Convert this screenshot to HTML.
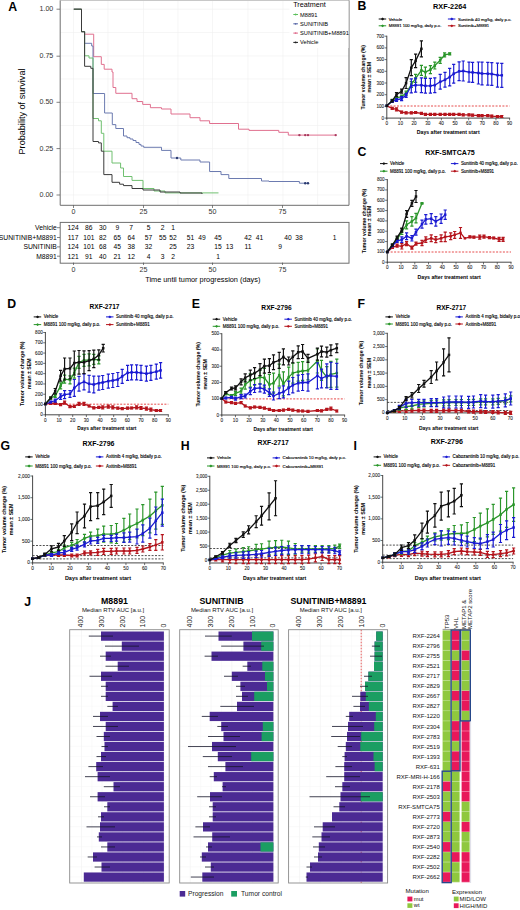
<!DOCTYPE html>
<html><head><meta charset="utf-8"><style>
html,body{margin:0;padding:0;background:#fff;width:520px;height:910px;overflow:hidden}
svg{display:block}
text{font-family:"Liberation Sans", sans-serif}
</style></head><body>
<svg width="520" height="910" viewBox="0 0 520 910">
<rect width="520" height="910" fill="#fff"/>
<g id="A">
<text x="12.8" y="6.5" font-size="12.3" text-anchor="middle" font-weight="bold" fill="#000" dominant-baseline="central">A</text>
<line x1="73.5" y1="1" x2="73.5" y2="205" stroke="#f0f0f0" stroke-width="0.6"/>
<line x1="108" y1="1" x2="108" y2="205" stroke="#f0f0f0" stroke-width="0.6"/>
<line x1="143.5" y1="1" x2="143.5" y2="205" stroke="#f0f0f0" stroke-width="0.6"/>
<line x1="178" y1="1" x2="178" y2="205" stroke="#f0f0f0" stroke-width="0.6"/>
<line x1="212.5" y1="1" x2="212.5" y2="205" stroke="#f0f0f0" stroke-width="0.6"/>
<line x1="248" y1="1" x2="248" y2="205" stroke="#f0f0f0" stroke-width="0.6"/>
<line x1="283" y1="1" x2="283" y2="205" stroke="#f0f0f0" stroke-width="0.6"/>
<line x1="317.6" y1="1" x2="317.6" y2="205" stroke="#f0f0f0" stroke-width="0.6"/>
<line x1="60" y1="9.2" x2="349" y2="9.2" stroke="#f0f0f0" stroke-width="0.6"/>
<line x1="60" y1="32.5" x2="349" y2="32.5" stroke="#f0f0f0" stroke-width="0.6"/>
<line x1="60" y1="56" x2="349" y2="56" stroke="#f0f0f0" stroke-width="0.6"/>
<line x1="60" y1="79" x2="349" y2="79" stroke="#f0f0f0" stroke-width="0.6"/>
<line x1="60" y1="102.3" x2="349" y2="102.3" stroke="#f0f0f0" stroke-width="0.6"/>
<line x1="60" y1="125.5" x2="349" y2="125.5" stroke="#f0f0f0" stroke-width="0.6"/>
<line x1="60" y1="148.6" x2="349" y2="148.6" stroke="#f0f0f0" stroke-width="0.6"/>
<line x1="60" y1="172" x2="349" y2="172" stroke="#f0f0f0" stroke-width="0.6"/>
<line x1="60" y1="195" x2="349" y2="195" stroke="#f0f0f0" stroke-width="0.6"/>
<path d="M60.2,0.3 V205.3 H349 V0.3" fill="none" stroke="#6e6e6e" stroke-width="1"/>
<line x1="60.2" y1="0.3" x2="349" y2="0.3" stroke="#a8a8a8" stroke-width="0.8"/>
<text x="53.3" y="9.2" font-size="7.1" text-anchor="end" font-weight="normal" fill="#333" dominant-baseline="central">1.00</text>
<line x1="56.5" y1="9.2" x2="60" y2="9.2" stroke="#4d4d4d" stroke-width="0.7"/>
<text x="53.3" y="56.2" font-size="7.1" text-anchor="end" font-weight="normal" fill="#333" dominant-baseline="central">0.75</text>
<line x1="56.5" y1="56.2" x2="60" y2="56.2" stroke="#4d4d4d" stroke-width="0.7"/>
<text x="53.3" y="102.3" font-size="7.1" text-anchor="end" font-weight="normal" fill="#333" dominant-baseline="central">0.50</text>
<line x1="56.5" y1="102.3" x2="60" y2="102.3" stroke="#4d4d4d" stroke-width="0.7"/>
<text x="53.3" y="148.6" font-size="7.1" text-anchor="end" font-weight="normal" fill="#333" dominant-baseline="central">0.25</text>
<line x1="56.5" y1="148.6" x2="60" y2="148.6" stroke="#4d4d4d" stroke-width="0.7"/>
<text x="53.3" y="195" font-size="7.1" text-anchor="end" font-weight="normal" fill="#333" dominant-baseline="central">0.00</text>
<line x1="56.5" y1="195" x2="60" y2="195" stroke="#4d4d4d" stroke-width="0.7"/>
<line x1="73.5" y1="205.3" x2="73.5" y2="208" stroke="#4d4d4d" stroke-width="0.7"/>
<text x="73.5" y="212.3" font-size="7.1" text-anchor="middle" font-weight="normal" fill="#333" dominant-baseline="central">0</text>
<line x1="143.5" y1="205.3" x2="143.5" y2="208" stroke="#4d4d4d" stroke-width="0.7"/>
<text x="143.5" y="212.3" font-size="7.1" text-anchor="middle" font-weight="normal" fill="#333" dominant-baseline="central">25</text>
<line x1="212.5" y1="205.3" x2="212.5" y2="208" stroke="#4d4d4d" stroke-width="0.7"/>
<text x="212.5" y="212.3" font-size="7.1" text-anchor="middle" font-weight="normal" fill="#333" dominant-baseline="central">50</text>
<line x1="282.5" y1="205.3" x2="282.5" y2="208" stroke="#4d4d4d" stroke-width="0.7"/>
<text x="282.5" y="212.3" font-size="7.1" text-anchor="middle" font-weight="normal" fill="#333" dominant-baseline="central">75</text>
<text x="21.5" y="111.5" font-size="9.1" text-anchor="middle" font-weight="normal" fill="#000" dominant-baseline="central" transform="rotate(-90 21.5 111.5)">Probability of survival</text>
<path d="M73.8,9.2 H81.5 V31.7 H84.6 V34.2 H93.7 V56.7 H101.3 V64.4 H104.2 V69.2 H112 V72 H113 V87.5 H115.8 V93.3 H132 V98.7 H137 V101.5 H142.7 V104.4 H150.4 V107.7 H161.5 V109 H171 V114 H190 V117.7 H200 V120.8 H209.6 V123.5 H238.5 V129.2 H249 V130.4 H278.8 V132.3 H288.3 V135.1 H336" fill="none" stroke="#e0708f" stroke-width="1"/>
<path d="M73.8,9.2 H81.5 V31.7 H84.6 V43.3 H91.7 V46 H93 V93.5 H104.6 V113 H112.3 V124.6 H115.8 V128.5 H123.5 V136 H127 V137.7 H130 V139 H133 V140.5 H136 V142.5 H139 V144.4 H141 V146 H143.7 V147.3 H161.5 V150.4 H171 V158 H180.8 V160 H200 V162 H209.6 V171.5 H221 V174.6 H228.8 V178.5 H261.5 V181 H269 V181.5 H299.4 V183.2 H308" fill="none" stroke="#6c7bb0" stroke-width="1"/>
<path d="M73.8,9.2 H81.5 V31.7 H84.6 V55.8 H89 V58 H93 V118.5 H98.5 V120.8 H101.3 V133.3 H103.8 V151.2 H112 V163 H120.6 V168 H123.5 V176.5 H132 V180.4 H143 V188.5 H154 V191 H165 V192.9 H218.5" fill="none" stroke="#70c070" stroke-width="1"/>
<path d="M73.8,9.2 H81.5 V31.7 H84.6 V66.3 H90.8 V68.3 H93 V141.5 H98.5 V142.9 H101.3 V151.2 H103.8 V174.6 H112 V182.3 H119.6 V184.2 H123.5 V185.6 H132 V188.5 H143 V190 H160 V192 H180 V193 H202 V194" fill="none" stroke="#3a3a3a" stroke-width="1"/>
<circle cx="299.4" cy="135.1" r="1.2" fill="#a83a5e"/>
<circle cx="305.2" cy="135.1" r="1.2" fill="#a83a5e"/>
<circle cx="308" cy="135.1" r="1.2" fill="#a83a5e"/>
<circle cx="335.7" cy="135.1" r="1.2" fill="#a83a5e"/>
<circle cx="177" cy="158" r="1.2" fill="#2a3a70"/>
<circle cx="305.2" cy="183.2" r="1.2" fill="#2a3a70"/>
<circle cx="308" cy="183.2" r="1.2" fill="#2a3a70"/>
<rect x="289.5" y="1" width="59" height="47" fill="#fff"/>
<text x="293.2" y="4.9" font-size="7.2" text-anchor="start" font-weight="normal" fill="#000" dominant-baseline="central">Treatment</text>
<line x1="293.3" y1="14.5" x2="298" y2="14.5" stroke="#5cc05c" stroke-width="1"/>
<circle cx="295.6" cy="14.5" r="0.9" fill="#5cc05c"/>
<text x="300" y="14.5" font-size="5.7" text-anchor="start" font-weight="normal" fill="#000" dominant-baseline="central">M8891</text>
<line x1="293.3" y1="23.8" x2="298" y2="23.8" stroke="#5a6aa8" stroke-width="1"/>
<circle cx="295.6" cy="23.8" r="0.9" fill="#5a6aa8"/>
<text x="300" y="23.8" font-size="5.7" text-anchor="start" font-weight="normal" fill="#000" dominant-baseline="central">SUNITINIB</text>
<line x1="293.3" y1="33.1" x2="298" y2="33.1" stroke="#e0708f" stroke-width="1"/>
<circle cx="295.6" cy="33.1" r="0.9" fill="#e0708f"/>
<text x="300" y="33.1" font-size="5.7" text-anchor="start" font-weight="normal" fill="#000" dominant-baseline="central">SUNITINIB+M8891</text>
<line x1="293.3" y1="42.4" x2="298" y2="42.4" stroke="#222" stroke-width="1"/>
<circle cx="295.6" cy="42.4" r="0.9" fill="#222"/>
<text x="300" y="42.4" font-size="5.7" text-anchor="start" font-weight="normal" fill="#000" dominant-baseline="central">Vehicle</text>
<rect x="60.2" y="222.4" width="288.8" height="40.8" fill="none" stroke="#6e6e6e" stroke-width="1"/>
<text x="56.8" y="227.7" font-size="6.75" text-anchor="end" font-weight="normal" fill="#000" dominant-baseline="central">Vehicle</text>
<line x1="57" y1="227.7" x2="60" y2="227.7" stroke="#4d4d4d" stroke-width="0.7"/>
<text x="56.8" y="237.5" font-size="6.75" text-anchor="end" font-weight="normal" fill="#000" dominant-baseline="central">SUNITINIB+M8891</text>
<line x1="57" y1="237.5" x2="60" y2="237.5" stroke="#4d4d4d" stroke-width="0.7"/>
<text x="56.8" y="246.9" font-size="6.75" text-anchor="end" font-weight="normal" fill="#000" dominant-baseline="central">SUNITINIB</text>
<line x1="57" y1="246.9" x2="60" y2="246.9" stroke="#4d4d4d" stroke-width="0.7"/>
<text x="56.8" y="256.2" font-size="6.75" text-anchor="end" font-weight="normal" fill="#000" dominant-baseline="central">M8891</text>
<line x1="57" y1="256.2" x2="60" y2="256.2" stroke="#4d4d4d" stroke-width="0.7"/>
<text x="73.1" y="227.7" font-size="6.7" text-anchor="middle" font-weight="normal" fill="#000" dominant-baseline="central">124</text>
<text x="88.8" y="227.7" font-size="6.7" text-anchor="middle" font-weight="normal" fill="#000" dominant-baseline="central">86</text>
<text x="102.7" y="227.7" font-size="6.7" text-anchor="middle" font-weight="normal" fill="#000" dominant-baseline="central">30</text>
<text x="117.3" y="227.7" font-size="6.7" text-anchor="middle" font-weight="normal" fill="#000" dominant-baseline="central">9</text>
<text x="131.2" y="227.7" font-size="6.7" text-anchor="middle" font-weight="normal" fill="#000" dominant-baseline="central">7</text>
<text x="148.5" y="227.7" font-size="6.7" text-anchor="middle" font-weight="normal" fill="#000" dominant-baseline="central">5</text>
<text x="162.7" y="227.7" font-size="6.7" text-anchor="middle" font-weight="normal" fill="#000" dominant-baseline="central">2</text>
<text x="173.1" y="227.7" font-size="6.7" text-anchor="middle" font-weight="normal" fill="#000" dominant-baseline="central">1</text>
<text x="73.1" y="237.5" font-size="6.7" text-anchor="middle" font-weight="normal" fill="#000" dominant-baseline="central">117</text>
<text x="88.8" y="237.5" font-size="6.7" text-anchor="middle" font-weight="normal" fill="#000" dominant-baseline="central">101</text>
<text x="102.7" y="237.5" font-size="6.7" text-anchor="middle" font-weight="normal" fill="#000" dominant-baseline="central">82</text>
<text x="117.3" y="237.5" font-size="6.7" text-anchor="middle" font-weight="normal" fill="#000" dominant-baseline="central">65</text>
<text x="131.2" y="237.5" font-size="6.7" text-anchor="middle" font-weight="normal" fill="#000" dominant-baseline="central">64</text>
<text x="148.5" y="237.5" font-size="6.7" text-anchor="middle" font-weight="normal" fill="#000" dominant-baseline="central">57</text>
<text x="162.7" y="237.5" font-size="6.7" text-anchor="middle" font-weight="normal" fill="#000" dominant-baseline="central">55</text>
<text x="173.1" y="237.5" font-size="6.7" text-anchor="middle" font-weight="normal" fill="#000" dominant-baseline="central">52</text>
<text x="190.4" y="237.5" font-size="6.7" text-anchor="middle" font-weight="normal" fill="#000" dominant-baseline="central">51</text>
<text x="201.9" y="237.5" font-size="6.7" text-anchor="middle" font-weight="normal" fill="#000" dominant-baseline="central">49</text>
<text x="218.1" y="237.5" font-size="6.7" text-anchor="middle" font-weight="normal" fill="#000" dominant-baseline="central">45</text>
<text x="248.1" y="237.5" font-size="6.7" text-anchor="middle" font-weight="normal" fill="#000" dominant-baseline="central">42</text>
<text x="259.6" y="237.5" font-size="6.7" text-anchor="middle" font-weight="normal" fill="#000" dominant-baseline="central">41</text>
<text x="288" y="237.5" font-size="6.7" text-anchor="middle" font-weight="normal" fill="#000" dominant-baseline="central">40</text>
<text x="299" y="237.5" font-size="6.7" text-anchor="middle" font-weight="normal" fill="#000" dominant-baseline="central">38</text>
<text x="334.6" y="237.5" font-size="6.7" text-anchor="middle" font-weight="normal" fill="#000" dominant-baseline="central">1</text>
<text x="73.1" y="246.9" font-size="6.7" text-anchor="middle" font-weight="normal" fill="#000" dominant-baseline="central">124</text>
<text x="88.8" y="246.9" font-size="6.7" text-anchor="middle" font-weight="normal" fill="#000" dominant-baseline="central">101</text>
<text x="102.7" y="246.9" font-size="6.7" text-anchor="middle" font-weight="normal" fill="#000" dominant-baseline="central">68</text>
<text x="117.3" y="246.9" font-size="6.7" text-anchor="middle" font-weight="normal" fill="#000" dominant-baseline="central">45</text>
<text x="131.2" y="246.9" font-size="6.7" text-anchor="middle" font-weight="normal" fill="#000" dominant-baseline="central">38</text>
<text x="148.5" y="246.9" font-size="6.7" text-anchor="middle" font-weight="normal" fill="#000" dominant-baseline="central">32</text>
<text x="173.1" y="246.9" font-size="6.7" text-anchor="middle" font-weight="normal" fill="#000" dominant-baseline="central">25</text>
<text x="190.4" y="246.9" font-size="6.7" text-anchor="middle" font-weight="normal" fill="#000" dominant-baseline="central">23</text>
<text x="218.1" y="246.9" font-size="6.7" text-anchor="middle" font-weight="normal" fill="#000" dominant-baseline="central">15</text>
<text x="229.6" y="246.9" font-size="6.7" text-anchor="middle" font-weight="normal" fill="#000" dominant-baseline="central">13</text>
<text x="248.1" y="246.9" font-size="6.7" text-anchor="middle" font-weight="normal" fill="#000" dominant-baseline="central">11</text>
<text x="280" y="246.9" font-size="6.7" text-anchor="middle" font-weight="normal" fill="#000" dominant-baseline="central">9</text>
<text x="73.1" y="256.2" font-size="6.7" text-anchor="middle" font-weight="normal" fill="#000" dominant-baseline="central">121</text>
<text x="88.8" y="256.2" font-size="6.7" text-anchor="middle" font-weight="normal" fill="#000" dominant-baseline="central">91</text>
<text x="102.7" y="256.2" font-size="6.7" text-anchor="middle" font-weight="normal" fill="#000" dominant-baseline="central">40</text>
<text x="117.3" y="256.2" font-size="6.7" text-anchor="middle" font-weight="normal" fill="#000" dominant-baseline="central">21</text>
<text x="131.2" y="256.2" font-size="6.7" text-anchor="middle" font-weight="normal" fill="#000" dominant-baseline="central">12</text>
<text x="148.5" y="256.2" font-size="6.7" text-anchor="middle" font-weight="normal" fill="#000" dominant-baseline="central">4</text>
<text x="162.7" y="256.2" font-size="6.7" text-anchor="middle" font-weight="normal" fill="#000" dominant-baseline="central">3</text>
<text x="173.1" y="256.2" font-size="6.7" text-anchor="middle" font-weight="normal" fill="#000" dominant-baseline="central">2</text>
<text x="218.1" y="256.2" font-size="6.7" text-anchor="middle" font-weight="normal" fill="#000" dominant-baseline="central">1</text>
<line x1="73.5" y1="262.6" x2="73.5" y2="265" stroke="#4d4d4d" stroke-width="0.7"/>
<text x="73.5" y="270" font-size="7.1" text-anchor="middle" font-weight="normal" fill="#333" dominant-baseline="central">0</text>
<line x1="143.5" y1="262.6" x2="143.5" y2="265" stroke="#4d4d4d" stroke-width="0.7"/>
<text x="143.5" y="270" font-size="7.1" text-anchor="middle" font-weight="normal" fill="#333" dominant-baseline="central">25</text>
<line x1="212.5" y1="262.6" x2="212.5" y2="265" stroke="#4d4d4d" stroke-width="0.7"/>
<text x="212.5" y="270" font-size="7.1" text-anchor="middle" font-weight="normal" fill="#333" dominant-baseline="central">50</text>
<line x1="282.5" y1="262.6" x2="282.5" y2="265" stroke="#4d4d4d" stroke-width="0.7"/>
<text x="282.5" y="270" font-size="7.1" text-anchor="middle" font-weight="normal" fill="#333" dominant-baseline="central">75</text>
<text x="202.8" y="279.5" font-size="7.35" text-anchor="middle" font-weight="normal" fill="#000" dominant-baseline="central">Time until tumor progression (days)</text>
</g>
<text x="362" y="6.3" font-size="12.3" text-anchor="middle" font-weight="bold" fill="#000" dominant-baseline="central">B</text>
<text x="449.7" y="6.3" font-size="7.3" text-anchor="middle" font-weight="bold" fill="#000" dominant-baseline="central">RXF-2264</text>
<line x1="378.7" y1="19" x2="386.2" y2="19" stroke="#111111" stroke-width="1"/>
<path d="M380.9,19 l1.7,-1.4 l1.7,1.4 l-1.7,1.4 z" fill="#111111"/>
<text x="388.7" y="19" font-size="4.2" text-anchor="start" font-weight="normal" fill="#000" dominant-baseline="central" stroke="#000" stroke-width="0.12">Vehicle</text>
<line x1="378.7" y1="25.8" x2="386.2" y2="25.8" stroke="#2a962a" stroke-width="1"/>
<path d="M380.9,25.8 l1.7,-1.4 l1.7,1.4 l-1.7,1.4 z" fill="#2a962a"/>
<text x="388.7" y="25.8" font-size="4.2" text-anchor="start" font-weight="normal" fill="#000" dominant-baseline="central" stroke="#000" stroke-width="0.12">M8891 100 mg/kg, daily p.o.</text>
<line x1="447.9" y1="19" x2="455.4" y2="19" stroke="#1a1ad2" stroke-width="1"/>
<path d="M450.1,19 l1.7,-1.4 l1.7,1.4 l-1.7,1.4 z" fill="#1a1ad2"/>
<text x="457.9" y="19" font-size="4.2" text-anchor="start" font-weight="normal" fill="#000" dominant-baseline="central" stroke="#000" stroke-width="0.12">Sunitinib 40 mg/kg, daily p.o.</text>
<line x1="447.9" y1="25.8" x2="455.4" y2="25.8" stroke="#b5141c" stroke-width="1"/>
<path d="M450.1,25.8 l1.7,-1.4 l1.7,1.4 l-1.7,1.4 z" fill="#b5141c"/>
<text x="457.9" y="25.8" font-size="4.2" text-anchor="start" font-weight="normal" fill="#000" dominant-baseline="central" stroke="#000" stroke-width="0.12">Sunitinib+M8891</text>
<line x1="386.8" y1="35.7" x2="386.8" y2="118.5" stroke="#333" stroke-width="0.9"/>
<line x1="386.4" y1="118.1" x2="510.1" y2="118.1" stroke="#333" stroke-width="0.9"/>
<line x1="384.6" y1="118.1" x2="386.8" y2="118.1" stroke="#333" stroke-width="0.7"/>
<text x="384.2" y="118.1" font-size="4.65" text-anchor="end" font-weight="normal" fill="#222" dominant-baseline="central" stroke="#222" stroke-width="0.08">0</text>
<line x1="384.6" y1="106.4" x2="386.8" y2="106.4" stroke="#333" stroke-width="0.7"/>
<text x="384.2" y="106.4" font-size="4.65" text-anchor="end" font-weight="normal" fill="#222" dominant-baseline="central" stroke="#222" stroke-width="0.08">100</text>
<line x1="384.6" y1="94.7" x2="386.8" y2="94.7" stroke="#333" stroke-width="0.7"/>
<text x="384.2" y="94.7" font-size="4.65" text-anchor="end" font-weight="normal" fill="#222" dominant-baseline="central" stroke="#222" stroke-width="0.08">200</text>
<line x1="384.6" y1="83" x2="386.8" y2="83" stroke="#333" stroke-width="0.7"/>
<text x="384.2" y="83" font-size="4.65" text-anchor="end" font-weight="normal" fill="#222" dominant-baseline="central" stroke="#222" stroke-width="0.08">300</text>
<line x1="384.6" y1="71.3" x2="386.8" y2="71.3" stroke="#333" stroke-width="0.7"/>
<text x="384.2" y="71.3" font-size="4.65" text-anchor="end" font-weight="normal" fill="#222" dominant-baseline="central" stroke="#222" stroke-width="0.08">400</text>
<line x1="384.6" y1="59.6" x2="386.8" y2="59.6" stroke="#333" stroke-width="0.7"/>
<text x="384.2" y="59.6" font-size="4.65" text-anchor="end" font-weight="normal" fill="#222" dominant-baseline="central" stroke="#222" stroke-width="0.08">500</text>
<line x1="384.6" y1="47.9" x2="386.8" y2="47.9" stroke="#333" stroke-width="0.7"/>
<text x="384.2" y="47.9" font-size="4.65" text-anchor="end" font-weight="normal" fill="#222" dominant-baseline="central" stroke="#222" stroke-width="0.08">600</text>
<line x1="384.6" y1="36.2" x2="386.8" y2="36.2" stroke="#333" stroke-width="0.7"/>
<text x="384.2" y="36.2" font-size="4.65" text-anchor="end" font-weight="normal" fill="#222" dominant-baseline="central" stroke="#222" stroke-width="0.08">700</text>
<line x1="386.8" y1="118.1" x2="386.8" y2="120.3" stroke="#333" stroke-width="0.7"/>
<text x="386.8" y="123.7" font-size="4.65" text-anchor="middle" font-weight="normal" fill="#222" dominant-baseline="central" stroke="#222" stroke-width="0.08">0</text>
<line x1="400.44" y1="118.1" x2="400.44" y2="120.3" stroke="#333" stroke-width="0.7"/>
<text x="400.44" y="123.7" font-size="4.65" text-anchor="middle" font-weight="normal" fill="#222" dominant-baseline="central" stroke="#222" stroke-width="0.08">10</text>
<line x1="414.09" y1="118.1" x2="414.09" y2="120.3" stroke="#333" stroke-width="0.7"/>
<text x="414.09" y="123.7" font-size="4.65" text-anchor="middle" font-weight="normal" fill="#222" dominant-baseline="central" stroke="#222" stroke-width="0.08">20</text>
<line x1="427.73" y1="118.1" x2="427.73" y2="120.3" stroke="#333" stroke-width="0.7"/>
<text x="427.73" y="123.7" font-size="4.65" text-anchor="middle" font-weight="normal" fill="#222" dominant-baseline="central" stroke="#222" stroke-width="0.08">30</text>
<line x1="441.38" y1="118.1" x2="441.38" y2="120.3" stroke="#333" stroke-width="0.7"/>
<text x="441.38" y="123.7" font-size="4.65" text-anchor="middle" font-weight="normal" fill="#222" dominant-baseline="central" stroke="#222" stroke-width="0.08">40</text>
<line x1="455.02" y1="118.1" x2="455.02" y2="120.3" stroke="#333" stroke-width="0.7"/>
<text x="455.02" y="123.7" font-size="4.65" text-anchor="middle" font-weight="normal" fill="#222" dominant-baseline="central" stroke="#222" stroke-width="0.08">50</text>
<line x1="468.67" y1="118.1" x2="468.67" y2="120.3" stroke="#333" stroke-width="0.7"/>
<text x="468.67" y="123.7" font-size="4.65" text-anchor="middle" font-weight="normal" fill="#222" dominant-baseline="central" stroke="#222" stroke-width="0.08">60</text>
<line x1="482.31" y1="118.1" x2="482.31" y2="120.3" stroke="#333" stroke-width="0.7"/>
<text x="482.31" y="123.7" font-size="4.65" text-anchor="middle" font-weight="normal" fill="#222" dominant-baseline="central" stroke="#222" stroke-width="0.08">70</text>
<line x1="495.96" y1="118.1" x2="495.96" y2="120.3" stroke="#333" stroke-width="0.7"/>
<text x="495.96" y="123.7" font-size="4.65" text-anchor="middle" font-weight="normal" fill="#222" dominant-baseline="central" stroke="#222" stroke-width="0.08">80</text>
<line x1="509.6" y1="118.1" x2="509.6" y2="120.3" stroke="#333" stroke-width="0.7"/>
<text x="509.6" y="123.7" font-size="4.65" text-anchor="middle" font-weight="normal" fill="#222" dominant-baseline="central" stroke="#222" stroke-width="0.08">90</text>
<text x="362.6" y="77.15" font-size="5.2" text-anchor="middle" font-weight="bold" fill="#000" dominant-baseline="central" transform="rotate(-90 362.6 77.15)">Tumor volume change (%)</text>
<text x="369.1" y="77.15" font-size="5.2" text-anchor="middle" font-weight="bold" fill="#000" dominant-baseline="central" transform="rotate(-90 369.1 77.15)">mean ± SEM</text>
<text x="448.2" y="132.4" font-size="5.2" text-anchor="middle" font-weight="bold" fill="#000" dominant-baseline="central">Days after treatment start</text>
<line x1="386.8" y1="106" x2="509.6" y2="106" stroke="#e02020" stroke-width="0.8" stroke-dasharray="2,1.4"/>
<polyline points="386.8,105.8 392.2,108.4 396.5,109.4 401.6,112.1 406.1,112.8 411.3,112.8 415.6,112.5 421.4,113.4 425.4,114.4 430.4,114.4 434.8,114.4 440.2,114.4 445,114.4 449.7,114.4 453.7,114.4 459.1,114.4 463.2,114.8 469,114.8 472.6,115.2 478.4,115.7 482,115.7 487.8,115.7 491.8,116.1 497.5,116.5 501.8,116.5" fill="none" stroke="#b5141c" stroke-width="1.3" stroke-linejoin="round"/>
<path d="M392.2,107.4 V109.4 M390.6,107.4 H393.8 M390.6,109.4 H393.8 M396.5,107.9 V110.9 M394.9,107.9 H398.1 M394.9,110.9 H398.1 M401.6,111.1 V113.1 M400,111.1 H403.2 M400,113.1 H403.2 M406.1,111.8 V113.8 M404.5,111.8 H407.7 M404.5,113.8 H407.7 M411.3,111.8 V113.8 M409.7,111.8 H412.9 M409.7,113.8 H412.9 M415.6,111.5 V113.5 M414,111.5 H417.2 M414,113.5 H417.2 M421.4,112.4 V114.4 M419.8,112.4 H423 M419.8,114.4 H423 M425.4,113.4 V115.4 M423.8,113.4 H427 M423.8,115.4 H427 M430.4,113.4 V115.4 M428.8,113.4 H432 M428.8,115.4 H432 M434.8,113.4 V115.4 M433.2,113.4 H436.4 M433.2,115.4 H436.4 M440.2,113.4 V115.4 M438.6,113.4 H441.8 M438.6,115.4 H441.8 M445,113.4 V115.4 M443.4,113.4 H446.6 M443.4,115.4 H446.6 M449.7,113.4 V115.4 M448.1,113.4 H451.3 M448.1,115.4 H451.3 M453.7,113.4 V115.4 M452.1,113.4 H455.3 M452.1,115.4 H455.3 M459.1,113.4 V115.4 M457.5,113.4 H460.7 M457.5,115.4 H460.7 M463.2,113.8 V115.8 M461.6,113.8 H464.8 M461.6,115.8 H464.8 M469,113.8 V115.8 M467.4,113.8 H470.6 M467.4,115.8 H470.6 M472.6,114.2 V116.2 M471,114.2 H474.2 M471,116.2 H474.2 M478.4,114.7 V116.7 M476.8,114.7 H480 M476.8,116.7 H480 M482,114.7 V116.7 M480.4,114.7 H483.6 M480.4,116.7 H483.6 M487.8,114.7 V116.7 M486.2,114.7 H489.4 M486.2,116.7 H489.4 M491.8,115.1 V117.1 M490.2,115.1 H493.4 M490.2,117.1 H493.4 M497.5,115.5 V117.5 M495.9,115.5 H499.1 M495.9,117.5 H499.1 M501.8,115.5 V117.5 M500.2,115.5 H503.4 M500.2,117.5 H503.4" stroke="#b5141c" stroke-width="1.17" fill="none"/>
<rect x="385.55" y="104.55" width="2.5" height="2.5" fill="#b5141c"/>
<rect x="390.95" y="107.15" width="2.5" height="2.5" fill="#b5141c"/>
<rect x="395.25" y="108.15" width="2.5" height="2.5" fill="#b5141c"/>
<rect x="400.35" y="110.85" width="2.5" height="2.5" fill="#b5141c"/>
<rect x="404.85" y="111.55" width="2.5" height="2.5" fill="#b5141c"/>
<rect x="410.05" y="111.55" width="2.5" height="2.5" fill="#b5141c"/>
<rect x="414.35" y="111.25" width="2.5" height="2.5" fill="#b5141c"/>
<rect x="420.15" y="112.15" width="2.5" height="2.5" fill="#b5141c"/>
<rect x="424.15" y="113.15" width="2.5" height="2.5" fill="#b5141c"/>
<rect x="429.15" y="113.15" width="2.5" height="2.5" fill="#b5141c"/>
<rect x="433.55" y="113.15" width="2.5" height="2.5" fill="#b5141c"/>
<rect x="438.95" y="113.15" width="2.5" height="2.5" fill="#b5141c"/>
<rect x="443.75" y="113.15" width="2.5" height="2.5" fill="#b5141c"/>
<rect x="448.45" y="113.15" width="2.5" height="2.5" fill="#b5141c"/>
<rect x="452.45" y="113.15" width="2.5" height="2.5" fill="#b5141c"/>
<rect x="457.85" y="113.15" width="2.5" height="2.5" fill="#b5141c"/>
<rect x="461.95" y="113.55" width="2.5" height="2.5" fill="#b5141c"/>
<rect x="467.75" y="113.55" width="2.5" height="2.5" fill="#b5141c"/>
<rect x="471.35" y="113.95" width="2.5" height="2.5" fill="#b5141c"/>
<rect x="477.15" y="114.45" width="2.5" height="2.5" fill="#b5141c"/>
<rect x="480.75" y="114.45" width="2.5" height="2.5" fill="#b5141c"/>
<rect x="486.55" y="114.45" width="2.5" height="2.5" fill="#b5141c"/>
<rect x="490.55" y="114.85" width="2.5" height="2.5" fill="#b5141c"/>
<rect x="496.25" y="115.25" width="2.5" height="2.5" fill="#b5141c"/>
<rect x="500.55" y="115.25" width="2.5" height="2.5" fill="#b5141c"/>
<polyline points="386.8,105.8 392.2,100.4 396.5,97.9 401.6,96.6 406.1,93.2 411.3,84.5 415.6,78.4 421.4,70.4 425.4,72.1 430.4,69.7 434.8,65.6 440.2,60.3 444.6,54.9 449.7,53.8" fill="none" stroke="#2a962a" stroke-width="1.3" stroke-linejoin="round"/>
<path d="M392.2,99.4 V101.4 M390.6,99.4 H393.8 M390.6,101.4 H393.8 M396.5,96.4 V99.4 M394.9,96.4 H398.1 M394.9,99.4 H398.1 M401.6,95.1 V98.1 M400,95.1 H403.2 M400,98.1 H403.2 M406.1,91.2 V95.2 M404.5,91.2 H407.7 M404.5,95.2 H407.7 M411.3,81.5 V87.5 M409.7,81.5 H412.9 M409.7,87.5 H412.9 M415.6,74.4 V82.4 M414,74.4 H417.2 M414,82.4 H417.2 M421.4,65.4 V75.4 M419.8,65.4 H423 M419.8,75.4 H423 M425.4,67.1 V77.1 M423.8,67.1 H427 M423.8,77.1 H427 M430.4,65.7 V73.7 M428.8,65.7 H432 M428.8,73.7 H432 M434.8,62.2 V69 M433.2,62.2 H436.4 M433.2,69 H436.4 M440.2,57.3 V63.3 M438.6,57.3 H441.8 M438.6,63.3 H441.8 M444.6,52.9 V56.9 M443,52.9 H446.2 M443,56.9 H446.2 M449.7,52.8 V54.8 M448.1,52.8 H451.3 M448.1,54.8 H451.3" stroke="#2a962a" stroke-width="1.17" fill="none"/>
<rect x="385.55" y="104.55" width="2.5" height="2.5" fill="#2a962a"/>
<rect x="390.95" y="99.15" width="2.5" height="2.5" fill="#2a962a"/>
<rect x="395.25" y="96.65" width="2.5" height="2.5" fill="#2a962a"/>
<rect x="400.35" y="95.35" width="2.5" height="2.5" fill="#2a962a"/>
<rect x="404.85" y="91.95" width="2.5" height="2.5" fill="#2a962a"/>
<rect x="410.05" y="83.25" width="2.5" height="2.5" fill="#2a962a"/>
<rect x="414.35" y="77.15" width="2.5" height="2.5" fill="#2a962a"/>
<rect x="420.15" y="69.15" width="2.5" height="2.5" fill="#2a962a"/>
<rect x="424.15" y="70.85" width="2.5" height="2.5" fill="#2a962a"/>
<rect x="429.15" y="68.45" width="2.5" height="2.5" fill="#2a962a"/>
<rect x="433.55" y="64.35" width="2.5" height="2.5" fill="#2a962a"/>
<rect x="438.95" y="59.05" width="2.5" height="2.5" fill="#2a962a"/>
<rect x="443.35" y="53.65" width="2.5" height="2.5" fill="#2a962a"/>
<rect x="448.45" y="52.55" width="2.5" height="2.5" fill="#2a962a"/>
<polyline points="386.8,105.8 392.2,101.3 396.5,100 401.6,98.6 406.1,95.3 411.3,85.8 415.6,85.2 421.4,85.2 425.4,85.8 430.4,85.8 434.8,85.2 440.2,81.8 445,79.8 449.7,77.1 453.7,73.7 459.1,71.3 463.2,71 469,72.1 472.6,72.4 478.4,73 482,73.5 487.8,73.7 491.8,74 497.5,75.1 501.8,75.3" fill="none" stroke="#1a1ad2" stroke-width="1.3" stroke-linejoin="round"/>
<path d="M392.2,100.3 V102.3 M390.6,100.3 H393.8 M390.6,102.3 H393.8 M396.5,98.5 V101.5 M394.9,98.5 H398.1 M394.9,101.5 H398.1 M401.6,96.6 V100.6 M400,96.6 H403.2 M400,100.6 H403.2 M406.1,93.3 V97.3 M404.5,93.3 H407.7 M404.5,97.3 H407.7 M411.3,78.8 V92.8 M409.7,78.8 H412.9 M409.7,92.8 H412.9 M415.6,78.2 V92.2 M414,78.2 H417.2 M414,92.2 H417.2 M421.4,77.8 V92.6 M419.8,77.8 H423 M419.8,92.6 H423 M425.4,78.4 V93.2 M423.8,78.4 H427 M423.8,93.2 H427 M430.4,78.4 V93.2 M428.8,78.4 H432 M428.8,93.2 H432 M434.8,77.8 V92.6 M433.2,77.8 H436.4 M433.2,92.6 H436.4 M440.2,74.4 V89.2 M438.6,74.4 H441.8 M438.6,89.2 H441.8 M445,72.4 V87.2 M443.4,72.4 H446.6 M443.4,87.2 H446.6 M449.7,68.4 V85.8 M448.1,68.4 H451.3 M448.1,85.8 H451.3 M453.7,64.3 V83.1 M452.1,64.3 H455.3 M452.1,83.1 H455.3 M459.1,61.9 V80.7 M457.5,61.9 H460.7 M457.5,80.7 H460.7 M463.2,61 V81 M461.6,61 H464.8 M461.6,81 H464.8 M469,62.1 V82.1 M467.4,62.1 H470.6 M467.4,82.1 H470.6 M472.6,62.4 V82.4 M471,62.4 H474.2 M471,82.4 H474.2 M478.4,62 V84 M476.8,62 H480 M476.8,84 H480 M482,62.1 V84.9 M480.4,62.1 H483.6 M480.4,84.9 H483.6 M487.8,62.3 V85.1 M486.2,62.3 H489.4 M486.2,85.1 H489.4 M491.8,62.6 V85.4 M490.2,62.6 H493.4 M490.2,85.4 H493.4 M497.5,63.1 V87.1 M495.9,63.1 H499.1 M495.9,87.1 H499.1 M501.8,63.3 V87.3 M500.2,63.3 H503.4 M500.2,87.3 H503.4" stroke="#1a1ad2" stroke-width="1.17" fill="none"/>
<rect x="385.55" y="104.55" width="2.5" height="2.5" fill="#1a1ad2"/>
<rect x="390.95" y="100.05" width="2.5" height="2.5" fill="#1a1ad2"/>
<rect x="395.25" y="98.75" width="2.5" height="2.5" fill="#1a1ad2"/>
<rect x="400.35" y="97.35" width="2.5" height="2.5" fill="#1a1ad2"/>
<rect x="404.85" y="94.05" width="2.5" height="2.5" fill="#1a1ad2"/>
<rect x="410.05" y="84.55" width="2.5" height="2.5" fill="#1a1ad2"/>
<rect x="414.35" y="83.95" width="2.5" height="2.5" fill="#1a1ad2"/>
<rect x="420.15" y="83.95" width="2.5" height="2.5" fill="#1a1ad2"/>
<rect x="424.15" y="84.55" width="2.5" height="2.5" fill="#1a1ad2"/>
<rect x="429.15" y="84.55" width="2.5" height="2.5" fill="#1a1ad2"/>
<rect x="433.55" y="83.95" width="2.5" height="2.5" fill="#1a1ad2"/>
<rect x="438.95" y="80.55" width="2.5" height="2.5" fill="#1a1ad2"/>
<rect x="443.75" y="78.55" width="2.5" height="2.5" fill="#1a1ad2"/>
<rect x="448.45" y="75.85" width="2.5" height="2.5" fill="#1a1ad2"/>
<rect x="452.45" y="72.45" width="2.5" height="2.5" fill="#1a1ad2"/>
<rect x="457.85" y="70.05" width="2.5" height="2.5" fill="#1a1ad2"/>
<rect x="461.95" y="69.75" width="2.5" height="2.5" fill="#1a1ad2"/>
<rect x="467.75" y="70.85" width="2.5" height="2.5" fill="#1a1ad2"/>
<rect x="471.35" y="71.15" width="2.5" height="2.5" fill="#1a1ad2"/>
<rect x="477.15" y="71.75" width="2.5" height="2.5" fill="#1a1ad2"/>
<rect x="480.75" y="72.25" width="2.5" height="2.5" fill="#1a1ad2"/>
<rect x="486.55" y="72.45" width="2.5" height="2.5" fill="#1a1ad2"/>
<rect x="490.55" y="72.75" width="2.5" height="2.5" fill="#1a1ad2"/>
<rect x="496.25" y="73.85" width="2.5" height="2.5" fill="#1a1ad2"/>
<rect x="500.55" y="74.05" width="2.5" height="2.5" fill="#1a1ad2"/>
<polyline points="386.8,105.8 392.2,100.9 396.5,94.6 401.6,91.2 406.1,83.1 411.3,67.7 415.6,60.9 421.4,48.8" fill="none" stroke="#111111" stroke-width="1.3" stroke-linejoin="round"/>
<path d="M392.2,99.9 V101.9 M390.6,99.9 H393.8 M390.6,101.9 H393.8 M396.5,92.6 V96.6 M394.9,92.6 H398.1 M394.9,96.6 H398.1 M401.6,89.2 V93.2 M400,89.2 H403.2 M400,93.2 H403.2 M406.1,77.7 V88.5 M404.5,77.7 H407.7 M404.5,88.5 H407.7 M411.3,59.7 V75.7 M409.7,59.7 H412.9 M409.7,75.7 H412.9 M415.6,54.2 V67.6 M414,54.2 H417.2 M414,67.6 H417.2 M421.4,40.8 V56.8 M419.8,40.8 H423 M419.8,56.8 H423" stroke="#111111" stroke-width="1.17" fill="none"/>
<rect x="385.55" y="104.55" width="2.5" height="2.5" fill="#111111"/>
<rect x="390.95" y="99.65" width="2.5" height="2.5" fill="#111111"/>
<rect x="395.25" y="93.35" width="2.5" height="2.5" fill="#111111"/>
<rect x="400.35" y="89.95" width="2.5" height="2.5" fill="#111111"/>
<rect x="404.85" y="81.85" width="2.5" height="2.5" fill="#111111"/>
<rect x="410.05" y="66.45" width="2.5" height="2.5" fill="#111111"/>
<rect x="414.35" y="59.65" width="2.5" height="2.5" fill="#111111"/>
<rect x="420.15" y="47.55" width="2.5" height="2.5" fill="#111111"/>
<text x="361.9" y="152" font-size="12.3" text-anchor="middle" font-weight="bold" fill="#000" dominant-baseline="central">C</text>
<text x="450" y="153" font-size="7.1" text-anchor="middle" font-weight="bold" fill="#000" dominant-baseline="central">RXF-SMTCA75</text>
<line x1="380" y1="163.6" x2="387.5" y2="163.6" stroke="#111111" stroke-width="1"/>
<path d="M382.2,163.6 l1.7,-1.4 l1.7,1.4 l-1.7,1.4 z" fill="#111111"/>
<text x="390" y="163.6" font-size="4.45" text-anchor="start" font-weight="normal" fill="#000" dominant-baseline="central" stroke="#000" stroke-width="0.12">Vehicle</text>
<line x1="380" y1="171.2" x2="387.5" y2="171.2" stroke="#2a962a" stroke-width="1"/>
<path d="M382.2,171.2 l1.7,-1.4 l1.7,1.4 l-1.7,1.4 z" fill="#2a962a"/>
<text x="390" y="171.2" font-size="4.45" text-anchor="start" font-weight="normal" fill="#000" dominant-baseline="central" stroke="#000" stroke-width="0.12">M8891 100 mg/kg, daily p.o.</text>
<line x1="450.9" y1="163.6" x2="458.4" y2="163.6" stroke="#1a1ad2" stroke-width="1"/>
<path d="M453.1,163.6 l1.7,-1.4 l1.7,1.4 l-1.7,1.4 z" fill="#1a1ad2"/>
<text x="460.9" y="163.6" font-size="4.45" text-anchor="start" font-weight="normal" fill="#000" dominant-baseline="central" stroke="#000" stroke-width="0.12">Sunitinib 40 mg/kg, daily p.o.</text>
<line x1="450.9" y1="171.2" x2="458.4" y2="171.2" stroke="#b5141c" stroke-width="1"/>
<path d="M453.1,171.2 l1.7,-1.4 l1.7,1.4 l-1.7,1.4 z" fill="#b5141c"/>
<text x="460.9" y="171.2" font-size="4.45" text-anchor="start" font-weight="normal" fill="#000" dominant-baseline="central" stroke="#000" stroke-width="0.12">Sunitinib+M8891</text>
<line x1="387.3" y1="179.1" x2="387.3" y2="262.6" stroke="#333" stroke-width="0.9"/>
<line x1="386.9" y1="262.2" x2="511.5" y2="262.2" stroke="#333" stroke-width="0.9"/>
<line x1="385.1" y1="262.2" x2="387.3" y2="262.2" stroke="#333" stroke-width="0.7"/>
<text x="384.7" y="262.2" font-size="4.65" text-anchor="end" font-weight="normal" fill="#222" dominant-baseline="central" stroke="#222" stroke-width="0.08">0</text>
<line x1="385.1" y1="251.88" x2="387.3" y2="251.88" stroke="#333" stroke-width="0.7"/>
<text x="384.7" y="251.88" font-size="4.65" text-anchor="end" font-weight="normal" fill="#222" dominant-baseline="central" stroke="#222" stroke-width="0.08">100</text>
<line x1="385.1" y1="241.55" x2="387.3" y2="241.55" stroke="#333" stroke-width="0.7"/>
<text x="384.7" y="241.55" font-size="4.65" text-anchor="end" font-weight="normal" fill="#222" dominant-baseline="central" stroke="#222" stroke-width="0.08">200</text>
<line x1="385.1" y1="231.22" x2="387.3" y2="231.22" stroke="#333" stroke-width="0.7"/>
<text x="384.7" y="231.22" font-size="4.65" text-anchor="end" font-weight="normal" fill="#222" dominant-baseline="central" stroke="#222" stroke-width="0.08">300</text>
<line x1="385.1" y1="220.9" x2="387.3" y2="220.9" stroke="#333" stroke-width="0.7"/>
<text x="384.7" y="220.9" font-size="4.65" text-anchor="end" font-weight="normal" fill="#222" dominant-baseline="central" stroke="#222" stroke-width="0.08">400</text>
<line x1="385.1" y1="210.57" x2="387.3" y2="210.57" stroke="#333" stroke-width="0.7"/>
<text x="384.7" y="210.57" font-size="4.65" text-anchor="end" font-weight="normal" fill="#222" dominant-baseline="central" stroke="#222" stroke-width="0.08">500</text>
<line x1="385.1" y1="200.25" x2="387.3" y2="200.25" stroke="#333" stroke-width="0.7"/>
<text x="384.7" y="200.25" font-size="4.65" text-anchor="end" font-weight="normal" fill="#222" dominant-baseline="central" stroke="#222" stroke-width="0.08">600</text>
<line x1="385.1" y1="189.93" x2="387.3" y2="189.93" stroke="#333" stroke-width="0.7"/>
<text x="384.7" y="189.93" font-size="4.65" text-anchor="end" font-weight="normal" fill="#222" dominant-baseline="central" stroke="#222" stroke-width="0.08">700</text>
<line x1="385.1" y1="179.6" x2="387.3" y2="179.6" stroke="#333" stroke-width="0.7"/>
<text x="384.7" y="179.6" font-size="4.65" text-anchor="end" font-weight="normal" fill="#222" dominant-baseline="central" stroke="#222" stroke-width="0.08">800</text>
<line x1="387.3" y1="262.2" x2="387.3" y2="264.4" stroke="#333" stroke-width="0.7"/>
<text x="387.3" y="267.8" font-size="4.65" text-anchor="middle" font-weight="normal" fill="#222" dominant-baseline="central" stroke="#222" stroke-width="0.08">0</text>
<line x1="401.04" y1="262.2" x2="401.04" y2="264.4" stroke="#333" stroke-width="0.7"/>
<text x="401.04" y="267.8" font-size="4.65" text-anchor="middle" font-weight="normal" fill="#222" dominant-baseline="central" stroke="#222" stroke-width="0.08">10</text>
<line x1="414.79" y1="262.2" x2="414.79" y2="264.4" stroke="#333" stroke-width="0.7"/>
<text x="414.79" y="267.8" font-size="4.65" text-anchor="middle" font-weight="normal" fill="#222" dominant-baseline="central" stroke="#222" stroke-width="0.08">20</text>
<line x1="428.53" y1="262.2" x2="428.53" y2="264.4" stroke="#333" stroke-width="0.7"/>
<text x="428.53" y="267.8" font-size="4.65" text-anchor="middle" font-weight="normal" fill="#222" dominant-baseline="central" stroke="#222" stroke-width="0.08">30</text>
<line x1="442.28" y1="262.2" x2="442.28" y2="264.4" stroke="#333" stroke-width="0.7"/>
<text x="442.28" y="267.8" font-size="4.65" text-anchor="middle" font-weight="normal" fill="#222" dominant-baseline="central" stroke="#222" stroke-width="0.08">40</text>
<line x1="456.02" y1="262.2" x2="456.02" y2="264.4" stroke="#333" stroke-width="0.7"/>
<text x="456.02" y="267.8" font-size="4.65" text-anchor="middle" font-weight="normal" fill="#222" dominant-baseline="central" stroke="#222" stroke-width="0.08">50</text>
<line x1="469.77" y1="262.2" x2="469.77" y2="264.4" stroke="#333" stroke-width="0.7"/>
<text x="469.77" y="267.8" font-size="4.65" text-anchor="middle" font-weight="normal" fill="#222" dominant-baseline="central" stroke="#222" stroke-width="0.08">60</text>
<line x1="483.51" y1="262.2" x2="483.51" y2="264.4" stroke="#333" stroke-width="0.7"/>
<text x="483.51" y="267.8" font-size="4.65" text-anchor="middle" font-weight="normal" fill="#222" dominant-baseline="central" stroke="#222" stroke-width="0.08">70</text>
<line x1="497.26" y1="262.2" x2="497.26" y2="264.4" stroke="#333" stroke-width="0.7"/>
<text x="497.26" y="267.8" font-size="4.65" text-anchor="middle" font-weight="normal" fill="#222" dominant-baseline="central" stroke="#222" stroke-width="0.08">80</text>
<line x1="511" y1="262.2" x2="511" y2="264.4" stroke="#333" stroke-width="0.7"/>
<text x="511" y="267.8" font-size="4.65" text-anchor="middle" font-weight="normal" fill="#222" dominant-baseline="central" stroke="#222" stroke-width="0.08">90</text>
<text x="363.6" y="220.9" font-size="5.2" text-anchor="middle" font-weight="bold" fill="#000" dominant-baseline="central" transform="rotate(-90 363.6 220.9)">Tumor volume change (%)</text>
<text x="369.1" y="220.9" font-size="5.2" text-anchor="middle" font-weight="bold" fill="#000" dominant-baseline="central" transform="rotate(-90 369.1 220.9)">mean ± SEM</text>
<text x="449.15" y="276.6" font-size="5.23" text-anchor="middle" font-weight="bold" fill="#000" dominant-baseline="central">Days after treatment start</text>
<line x1="387.3" y1="252" x2="511" y2="252" stroke="#e02020" stroke-width="0.8" stroke-dasharray="2,1.4"/>
<polyline points="387.3,252 392.4,247.4 397.1,245.7 401.8,246.3 406.6,243.6 411.9,247.7 416,243.6 422,243 425.8,239.6 431.2,238.3 435.8,239.6 441.1,238.3 445.2,236.9 450.7,236.2 454.7,234.9 460.5,232.9 464.9,238.3 469.9,236.9 473.9,237.2 479.7,237.2 484,236.6 489.4,237.6 493.7,238 499.1,239.3 503.1,239.3" fill="none" stroke="#b5141c" stroke-width="1.3" stroke-linejoin="round"/>
<path d="M392.4,246.4 V248.4 M390.8,246.4 H394 M390.8,248.4 H394 M397.1,244.2 V247.2 M395.5,244.2 H398.7 M395.5,247.2 H398.7 M401.8,243.6 V249 M400.2,243.6 H403.4 M400.2,249 H403.4 M406.6,241.6 V245.6 M405,241.6 H408.2 M405,245.6 H408.2 M411.9,246.2 V249.2 M410.3,246.2 H413.5 M410.3,249.2 H413.5 M416,242.1 V245.1 M414.4,242.1 H417.6 M414.4,245.1 H417.6 M422,240.3 V245.7 M420.4,240.3 H423.6 M420.4,245.7 H423.6 M425.8,236.9 V242.3 M424.2,236.9 H427.4 M424.2,242.3 H427.4 M431.2,234.9 V241.7 M429.6,234.9 H432.8 M429.6,241.7 H432.8 M435.8,236.6 V242.6 M434.2,236.6 H437.4 M434.2,242.6 H437.4 M441.1,234.9 V241.7 M439.5,234.9 H442.7 M439.5,241.7 H442.7 M445.2,232.2 V241.6 M443.6,232.2 H446.8 M443.6,241.6 H446.8 M450.7,232.8 V239.6 M449.1,232.8 H452.3 M449.1,239.6 H452.3 M454.7,231.5 V238.3 M453.1,231.5 H456.3 M453.1,238.3 H456.3 M460.5,227.5 V238.3 M458.9,227.5 H462.1 M458.9,238.3 H462.1 M469.9,235.9 V237.9 M468.3,235.9 H471.5 M468.3,237.9 H471.5 M473.9,236.2 V238.2 M472.3,236.2 H475.5 M472.3,238.2 H475.5 M479.7,235.2 V239.2 M478.1,235.2 H481.3 M478.1,239.2 H481.3 M484,235.1 V238.1 M482.4,235.1 H485.6 M482.4,238.1 H485.6 M489.4,236.6 V238.6 M487.8,236.6 H491 M487.8,238.6 H491 M493.7,237 V239 M492.1,237 H495.3 M492.1,239 H495.3 M499.1,237.3 V241.3 M497.5,237.3 H500.7 M497.5,241.3 H500.7 M503.1,237.3 V241.3 M501.5,237.3 H504.7 M501.5,241.3 H504.7" stroke="#b5141c" stroke-width="1.17" fill="none"/>
<rect x="386.05" y="250.75" width="2.5" height="2.5" fill="#b5141c"/>
<rect x="391.15" y="246.15" width="2.5" height="2.5" fill="#b5141c"/>
<rect x="395.85" y="244.45" width="2.5" height="2.5" fill="#b5141c"/>
<rect x="400.55" y="245.05" width="2.5" height="2.5" fill="#b5141c"/>
<rect x="405.35" y="242.35" width="2.5" height="2.5" fill="#b5141c"/>
<rect x="410.65" y="246.45" width="2.5" height="2.5" fill="#b5141c"/>
<rect x="414.75" y="242.35" width="2.5" height="2.5" fill="#b5141c"/>
<rect x="420.75" y="241.75" width="2.5" height="2.5" fill="#b5141c"/>
<rect x="424.55" y="238.35" width="2.5" height="2.5" fill="#b5141c"/>
<rect x="429.95" y="237.05" width="2.5" height="2.5" fill="#b5141c"/>
<rect x="434.55" y="238.35" width="2.5" height="2.5" fill="#b5141c"/>
<rect x="439.85" y="237.05" width="2.5" height="2.5" fill="#b5141c"/>
<rect x="443.95" y="235.65" width="2.5" height="2.5" fill="#b5141c"/>
<rect x="449.45" y="234.95" width="2.5" height="2.5" fill="#b5141c"/>
<rect x="453.45" y="233.65" width="2.5" height="2.5" fill="#b5141c"/>
<rect x="459.25" y="231.65" width="2.5" height="2.5" fill="#b5141c"/>
<rect x="463.65" y="237.05" width="2.5" height="2.5" fill="#b5141c"/>
<rect x="468.65" y="235.65" width="2.5" height="2.5" fill="#b5141c"/>
<rect x="472.65" y="235.95" width="2.5" height="2.5" fill="#b5141c"/>
<rect x="478.45" y="235.95" width="2.5" height="2.5" fill="#b5141c"/>
<rect x="482.75" y="235.35" width="2.5" height="2.5" fill="#b5141c"/>
<rect x="488.15" y="236.35" width="2.5" height="2.5" fill="#b5141c"/>
<rect x="492.45" y="236.75" width="2.5" height="2.5" fill="#b5141c"/>
<rect x="497.85" y="238.05" width="2.5" height="2.5" fill="#b5141c"/>
<rect x="501.85" y="238.05" width="2.5" height="2.5" fill="#b5141c"/>
<polyline points="387.3,252 392.4,245 397.1,239.6 401.8,231.5 406.6,224.8 411.9,221.4 416,218.1 422,203.3" fill="none" stroke="#2a962a" stroke-width="1.3" stroke-linejoin="round"/>
<path d="M392.4,244 V246 M390.8,244 H394 M390.8,246 H394 M397.1,238.1 V241.1 M395.5,238.1 H398.7 M395.5,241.1 H398.7 M401.8,228.5 V234.5 M400.2,228.5 H403.4 M400.2,234.5 H403.4 M406.6,220.8 V228.8 M405,220.8 H408.2 M405,228.8 H408.2 M411.9,216.7 V226.1 M410.3,216.7 H413.5 M410.3,226.1 H413.5 M416,213.4 V222.8 M414.4,213.4 H417.6 M414.4,222.8 H417.6 M422,202.8 V203.8 M420.4,202.8 H423.6 M420.4,203.8 H423.6" stroke="#2a962a" stroke-width="1.17" fill="none"/>
<rect x="386.05" y="250.75" width="2.5" height="2.5" fill="#2a962a"/>
<rect x="391.15" y="243.75" width="2.5" height="2.5" fill="#2a962a"/>
<rect x="395.85" y="238.35" width="2.5" height="2.5" fill="#2a962a"/>
<rect x="400.55" y="230.25" width="2.5" height="2.5" fill="#2a962a"/>
<rect x="405.35" y="223.55" width="2.5" height="2.5" fill="#2a962a"/>
<rect x="410.65" y="220.15" width="2.5" height="2.5" fill="#2a962a"/>
<rect x="414.75" y="216.85" width="2.5" height="2.5" fill="#2a962a"/>
<rect x="420.75" y="202.05" width="2.5" height="2.5" fill="#2a962a"/>
<polyline points="387.3,252 392.4,245.7 397.1,241 401.8,239.6 406.6,236.2 411.9,238.3 416,232.2 422,224.1 425.8,219.4 431.2,218.7 435.8,221.4 441.1,218.7 445.2,214.7" fill="none" stroke="#1a1ad2" stroke-width="1.3" stroke-linejoin="round"/>
<path d="M392.4,244.7 V246.7 M390.8,244.7 H394 M390.8,246.7 H394 M397.1,239.5 V242.5 M395.5,239.5 H398.7 M395.5,242.5 H398.7 M401.8,236.9 V242.3 M400.2,236.9 H403.4 M400.2,242.3 H403.4 M406.6,232.8 V239.6 M405,232.8 H408.2 M405,239.6 H408.2 M411.9,235.6 V241 M410.3,235.6 H413.5 M410.3,241 H413.5 M416,229.2 V235.2 M414.4,229.2 H417.6 M414.4,235.2 H417.6 M422,220.1 V228.1 M420.4,220.1 H423.6 M420.4,228.1 H423.6 M425.8,214.7 V224.1 M424.2,214.7 H427.4 M424.2,224.1 H427.4 M431.2,213.7 V223.7 M429.6,213.7 H432.8 M429.6,223.7 H432.8 M435.8,216.7 V226.1 M434.2,216.7 H437.4 M434.2,226.1 H437.4 M441.1,214 V223.4 M439.5,214 H442.7 M439.5,223.4 H442.7 M445.2,210 V219.4 M443.6,210 H446.8 M443.6,219.4 H446.8" stroke="#1a1ad2" stroke-width="1.17" fill="none"/>
<rect x="386.05" y="250.75" width="2.5" height="2.5" fill="#1a1ad2"/>
<rect x="391.15" y="244.45" width="2.5" height="2.5" fill="#1a1ad2"/>
<rect x="395.85" y="239.75" width="2.5" height="2.5" fill="#1a1ad2"/>
<rect x="400.55" y="238.35" width="2.5" height="2.5" fill="#1a1ad2"/>
<rect x="405.35" y="234.95" width="2.5" height="2.5" fill="#1a1ad2"/>
<rect x="410.65" y="237.05" width="2.5" height="2.5" fill="#1a1ad2"/>
<rect x="414.75" y="230.95" width="2.5" height="2.5" fill="#1a1ad2"/>
<rect x="420.75" y="222.85" width="2.5" height="2.5" fill="#1a1ad2"/>
<rect x="424.55" y="218.15" width="2.5" height="2.5" fill="#1a1ad2"/>
<rect x="429.95" y="217.45" width="2.5" height="2.5" fill="#1a1ad2"/>
<rect x="434.55" y="220.15" width="2.5" height="2.5" fill="#1a1ad2"/>
<rect x="439.85" y="217.45" width="2.5" height="2.5" fill="#1a1ad2"/>
<rect x="443.95" y="213.45" width="2.5" height="2.5" fill="#1a1ad2"/>
<polyline points="387.3,252 392.4,245 397.1,237.6 401.8,230.2 406.6,214 411.9,203.3 416,196.5" fill="none" stroke="#111111" stroke-width="1.3" stroke-linejoin="round"/>
<path d="M392.4,244 V246 M390.8,244 H394 M390.8,246 H394 M397.1,236.1 V239.1 M395.5,236.1 H398.7 M395.5,239.1 H398.7 M401.8,228.2 V232.2 M400.2,228.2 H403.4 M400.2,232.2 H403.4 M406.6,210.6 V217.4 M405,210.6 H408.2 M405,217.4 H408.2 M411.9,200.3 V206.3 M410.3,200.3 H413.5 M410.3,206.3 H413.5 M416,190.5 V202.5 M414.4,190.5 H417.6 M414.4,202.5 H417.6" stroke="#111111" stroke-width="1.17" fill="none"/>
<rect x="386.05" y="250.75" width="2.5" height="2.5" fill="#111111"/>
<rect x="391.15" y="243.75" width="2.5" height="2.5" fill="#111111"/>
<rect x="395.85" y="236.35" width="2.5" height="2.5" fill="#111111"/>
<rect x="400.55" y="228.95" width="2.5" height="2.5" fill="#111111"/>
<rect x="405.35" y="212.75" width="2.5" height="2.5" fill="#111111"/>
<rect x="410.65" y="202.05" width="2.5" height="2.5" fill="#111111"/>
<rect x="414.75" y="195.25" width="2.5" height="2.5" fill="#111111"/>
<text x="11.8" y="304.4" font-size="12.3" text-anchor="middle" font-weight="bold" fill="#000" dominant-baseline="central">D</text>
<text x="104.5" y="306.4" font-size="6.55" text-anchor="middle" font-weight="bold" fill="#000" dominant-baseline="central">RXF-2717</text>
<line x1="33.7" y1="316.9" x2="41.2" y2="316.9" stroke="#111111" stroke-width="1"/>
<path d="M35.9,316.9 l1.7,-1.4 l1.7,1.4 l-1.7,1.4 z" fill="#111111"/>
<text x="43.7" y="316.9" font-size="4.5" text-anchor="start" font-weight="normal" fill="#000" dominant-baseline="central" stroke="#000" stroke-width="0.12">Vehicle</text>
<line x1="33.7" y1="324.6" x2="41.2" y2="324.6" stroke="#2a962a" stroke-width="1"/>
<path d="M35.9,324.6 l1.7,-1.4 l1.7,1.4 l-1.7,1.4 z" fill="#2a962a"/>
<text x="43.7" y="324.6" font-size="4.5" text-anchor="start" font-weight="normal" fill="#000" dominant-baseline="central" stroke="#000" stroke-width="0.12">M8891 100 mg/kg, daily p.o.</text>
<line x1="106" y1="316.9" x2="113.5" y2="316.9" stroke="#1a1ad2" stroke-width="1"/>
<path d="M108.2,316.9 l1.7,-1.4 l1.7,1.4 l-1.7,1.4 z" fill="#1a1ad2"/>
<text x="116" y="316.9" font-size="4.5" text-anchor="start" font-weight="normal" fill="#000" dominant-baseline="central" stroke="#000" stroke-width="0.12">Sunitinib 40 mg/kg, daily p.o.</text>
<line x1="106" y1="324.6" x2="113.5" y2="324.6" stroke="#b5141c" stroke-width="1"/>
<path d="M108.2,324.6 l1.7,-1.4 l1.7,1.4 l-1.7,1.4 z" fill="#b5141c"/>
<text x="116" y="324.6" font-size="4.5" text-anchor="start" font-weight="normal" fill="#000" dominant-baseline="central" stroke="#000" stroke-width="0.12">Sunitinib+M8891</text>
<line x1="45.4" y1="332" x2="45.4" y2="415.2" stroke="#333" stroke-width="0.9"/>
<line x1="45" y1="414.8" x2="168.8" y2="414.8" stroke="#333" stroke-width="0.9"/>
<line x1="43.2" y1="414.8" x2="45.4" y2="414.8" stroke="#333" stroke-width="0.7"/>
<text x="42.8" y="414.8" font-size="4.65" text-anchor="end" font-weight="normal" fill="#222" dominant-baseline="central" stroke="#222" stroke-width="0.08">0</text>
<line x1="43.2" y1="404.51" x2="45.4" y2="404.51" stroke="#333" stroke-width="0.7"/>
<text x="42.8" y="404.51" font-size="4.65" text-anchor="end" font-weight="normal" fill="#222" dominant-baseline="central" stroke="#222" stroke-width="0.08">100</text>
<line x1="43.2" y1="394.23" x2="45.4" y2="394.23" stroke="#333" stroke-width="0.7"/>
<text x="42.8" y="394.23" font-size="4.65" text-anchor="end" font-weight="normal" fill="#222" dominant-baseline="central" stroke="#222" stroke-width="0.08">200</text>
<line x1="43.2" y1="383.94" x2="45.4" y2="383.94" stroke="#333" stroke-width="0.7"/>
<text x="42.8" y="383.94" font-size="4.65" text-anchor="end" font-weight="normal" fill="#222" dominant-baseline="central" stroke="#222" stroke-width="0.08">300</text>
<line x1="43.2" y1="373.65" x2="45.4" y2="373.65" stroke="#333" stroke-width="0.7"/>
<text x="42.8" y="373.65" font-size="4.65" text-anchor="end" font-weight="normal" fill="#222" dominant-baseline="central" stroke="#222" stroke-width="0.08">400</text>
<line x1="43.2" y1="363.36" x2="45.4" y2="363.36" stroke="#333" stroke-width="0.7"/>
<text x="42.8" y="363.36" font-size="4.65" text-anchor="end" font-weight="normal" fill="#222" dominant-baseline="central" stroke="#222" stroke-width="0.08">500</text>
<line x1="43.2" y1="353.07" x2="45.4" y2="353.07" stroke="#333" stroke-width="0.7"/>
<text x="42.8" y="353.07" font-size="4.65" text-anchor="end" font-weight="normal" fill="#222" dominant-baseline="central" stroke="#222" stroke-width="0.08">600</text>
<line x1="43.2" y1="342.79" x2="45.4" y2="342.79" stroke="#333" stroke-width="0.7"/>
<text x="42.8" y="342.79" font-size="4.65" text-anchor="end" font-weight="normal" fill="#222" dominant-baseline="central" stroke="#222" stroke-width="0.08">700</text>
<line x1="43.2" y1="332.5" x2="45.4" y2="332.5" stroke="#333" stroke-width="0.7"/>
<text x="42.8" y="332.5" font-size="4.65" text-anchor="end" font-weight="normal" fill="#222" dominant-baseline="central" stroke="#222" stroke-width="0.08">800</text>
<line x1="45.4" y1="414.8" x2="45.4" y2="417" stroke="#333" stroke-width="0.7"/>
<text x="45.4" y="420.4" font-size="4.65" text-anchor="middle" font-weight="normal" fill="#222" dominant-baseline="central" stroke="#222" stroke-width="0.08">0</text>
<line x1="59.06" y1="414.8" x2="59.06" y2="417" stroke="#333" stroke-width="0.7"/>
<text x="59.06" y="420.4" font-size="4.65" text-anchor="middle" font-weight="normal" fill="#222" dominant-baseline="central" stroke="#222" stroke-width="0.08">10</text>
<line x1="72.71" y1="414.8" x2="72.71" y2="417" stroke="#333" stroke-width="0.7"/>
<text x="72.71" y="420.4" font-size="4.65" text-anchor="middle" font-weight="normal" fill="#222" dominant-baseline="central" stroke="#222" stroke-width="0.08">20</text>
<line x1="86.37" y1="414.8" x2="86.37" y2="417" stroke="#333" stroke-width="0.7"/>
<text x="86.37" y="420.4" font-size="4.65" text-anchor="middle" font-weight="normal" fill="#222" dominant-baseline="central" stroke="#222" stroke-width="0.08">30</text>
<line x1="100.02" y1="414.8" x2="100.02" y2="417" stroke="#333" stroke-width="0.7"/>
<text x="100.02" y="420.4" font-size="4.65" text-anchor="middle" font-weight="normal" fill="#222" dominant-baseline="central" stroke="#222" stroke-width="0.08">40</text>
<line x1="113.68" y1="414.8" x2="113.68" y2="417" stroke="#333" stroke-width="0.7"/>
<text x="113.68" y="420.4" font-size="4.65" text-anchor="middle" font-weight="normal" fill="#222" dominant-baseline="central" stroke="#222" stroke-width="0.08">50</text>
<line x1="127.33" y1="414.8" x2="127.33" y2="417" stroke="#333" stroke-width="0.7"/>
<text x="127.33" y="420.4" font-size="4.65" text-anchor="middle" font-weight="normal" fill="#222" dominant-baseline="central" stroke="#222" stroke-width="0.08">60</text>
<line x1="140.99" y1="414.8" x2="140.99" y2="417" stroke="#333" stroke-width="0.7"/>
<text x="140.99" y="420.4" font-size="4.65" text-anchor="middle" font-weight="normal" fill="#222" dominant-baseline="central" stroke="#222" stroke-width="0.08">70</text>
<line x1="154.64" y1="414.8" x2="154.64" y2="417" stroke="#333" stroke-width="0.7"/>
<text x="154.64" y="420.4" font-size="4.65" text-anchor="middle" font-weight="normal" fill="#222" dominant-baseline="central" stroke="#222" stroke-width="0.08">80</text>
<line x1="168.3" y1="414.8" x2="168.3" y2="417" stroke="#333" stroke-width="0.7"/>
<text x="168.3" y="420.4" font-size="4.65" text-anchor="middle" font-weight="normal" fill="#222" dominant-baseline="central" stroke="#222" stroke-width="0.08">90</text>
<text x="21.7" y="373.65" font-size="5.2" text-anchor="middle" font-weight="bold" fill="#000" dominant-baseline="central" transform="rotate(-90 21.7 373.65)">Tumor volume change (%)</text>
<text x="28.7" y="373.65" font-size="5.2" text-anchor="middle" font-weight="bold" fill="#000" dominant-baseline="central" transform="rotate(-90 28.7 373.65)">mean ± SEM</text>
<text x="106.85" y="428.1" font-size="4.9" text-anchor="middle" font-weight="bold" fill="#000" dominant-baseline="central">Days after treatment start</text>
<line x1="45.4" y1="404.2" x2="168.3" y2="404.2" stroke="#e02020" stroke-width="0.8" stroke-dasharray="2,1.4"/>
<polyline points="45.4,404 50.7,403.4 55.2,403.4 60.6,404.7 64.6,402.7 70,406.7 74.3,406.4 79,403.8 84,403.8 89.1,406 93.8,407.8 98.8,407.4 102.7,407.4 108.3,406.7 112.8,407.4 117.8,408.1 122.2,408.7 127.6,408.1 131.6,408 136.6,407.4 141,408 146.4,408.7 150.9,409.7 156.3,410.5 160.6,410.5" fill="none" stroke="#b5141c" stroke-width="1.3" stroke-linejoin="round"/>
<path d="M50.7,402.4 V404.4 M49.1,402.4 H52.3 M49.1,404.4 H52.3 M55.2,402.4 V404.4 M53.6,402.4 H56.8 M53.6,404.4 H56.8 M60.6,403.7 V405.7 M59,403.7 H62.2 M59,405.7 H62.2 M64.6,401.2 V404.2 M63,401.2 H66.2 M63,404.2 H66.2 M70,405.7 V407.7 M68.4,405.7 H71.6 M68.4,407.7 H71.6 M74.3,405.4 V407.4 M72.7,405.4 H75.9 M72.7,407.4 H75.9 M79,402.3 V405.3 M77.4,402.3 H80.6 M77.4,405.3 H80.6 M84,402.3 V405.3 M82.4,402.3 H85.6 M82.4,405.3 H85.6 M89.1,405 V407 M87.5,405 H90.7 M87.5,407 H90.7 M93.8,406.8 V408.8 M92.2,406.8 H95.4 M92.2,408.8 H95.4 M98.8,406.4 V408.4 M97.2,406.4 H100.4 M97.2,408.4 H100.4 M102.7,405.9 V408.9 M101.1,405.9 H104.3 M101.1,408.9 H104.3 M108.3,405.2 V408.2 M106.7,405.2 H109.9 M106.7,408.2 H109.9 M112.8,405.9 V408.9 M111.2,405.9 H114.4 M111.2,408.9 H114.4 M117.8,407.1 V409.1 M116.2,407.1 H119.4 M116.2,409.1 H119.4 M122.2,407.7 V409.7 M120.6,407.7 H123.8 M120.6,409.7 H123.8 M127.6,407.1 V409.1 M126,407.1 H129.2 M126,409.1 H129.2 M131.6,407 V409 M130,407 H133.2 M130,409 H133.2 M136.6,405.9 V408.9 M135,405.9 H138.2 M135,408.9 H138.2 M141,406.5 V409.5 M139.4,406.5 H142.6 M139.4,409.5 H142.6 M146.4,407.2 V410.2 M144.8,407.2 H148 M144.8,410.2 H148 M150.9,408.2 V411.2 M149.3,408.2 H152.5 M149.3,411.2 H152.5 M156.3,409.5 V411.5 M154.7,409.5 H157.9 M154.7,411.5 H157.9 M160.6,409.5 V411.5 M159,409.5 H162.2 M159,411.5 H162.2" stroke="#b5141c" stroke-width="1.17" fill="none"/>
<rect x="44.15" y="402.75" width="2.5" height="2.5" fill="#b5141c"/>
<rect x="49.45" y="402.15" width="2.5" height="2.5" fill="#b5141c"/>
<rect x="53.95" y="402.15" width="2.5" height="2.5" fill="#b5141c"/>
<rect x="59.35" y="403.45" width="2.5" height="2.5" fill="#b5141c"/>
<rect x="63.35" y="401.45" width="2.5" height="2.5" fill="#b5141c"/>
<rect x="68.75" y="405.45" width="2.5" height="2.5" fill="#b5141c"/>
<rect x="73.05" y="405.15" width="2.5" height="2.5" fill="#b5141c"/>
<rect x="77.75" y="402.55" width="2.5" height="2.5" fill="#b5141c"/>
<rect x="82.75" y="402.55" width="2.5" height="2.5" fill="#b5141c"/>
<rect x="87.85" y="404.75" width="2.5" height="2.5" fill="#b5141c"/>
<rect x="92.55" y="406.55" width="2.5" height="2.5" fill="#b5141c"/>
<rect x="97.55" y="406.15" width="2.5" height="2.5" fill="#b5141c"/>
<rect x="101.45" y="406.15" width="2.5" height="2.5" fill="#b5141c"/>
<rect x="107.05" y="405.45" width="2.5" height="2.5" fill="#b5141c"/>
<rect x="111.55" y="406.15" width="2.5" height="2.5" fill="#b5141c"/>
<rect x="116.55" y="406.85" width="2.5" height="2.5" fill="#b5141c"/>
<rect x="120.95" y="407.45" width="2.5" height="2.5" fill="#b5141c"/>
<rect x="126.35" y="406.85" width="2.5" height="2.5" fill="#b5141c"/>
<rect x="130.35" y="406.75" width="2.5" height="2.5" fill="#b5141c"/>
<rect x="135.35" y="406.15" width="2.5" height="2.5" fill="#b5141c"/>
<rect x="139.75" y="406.75" width="2.5" height="2.5" fill="#b5141c"/>
<rect x="145.15" y="407.45" width="2.5" height="2.5" fill="#b5141c"/>
<rect x="149.65" y="408.45" width="2.5" height="2.5" fill="#b5141c"/>
<rect x="155.05" y="409.25" width="2.5" height="2.5" fill="#b5141c"/>
<rect x="159.35" y="409.25" width="2.5" height="2.5" fill="#b5141c"/>
<polyline points="45.4,404 50.7,398 55.2,396 60.6,385.9 64.6,379.1 70,379.8 74.3,373.1 79,362.3 84,360.3 89.1,359.9 93.8,359.3 98.8,359.9" fill="none" stroke="#2a962a" stroke-width="1.3" stroke-linejoin="round"/>
<path d="M50.7,397 V399 M49.1,397 H52.3 M49.1,399 H52.3 M55.2,394.5 V397.5 M53.6,394.5 H56.8 M53.6,397.5 H56.8 M60.6,382.9 V388.9 M59,382.9 H62.2 M59,388.9 H62.2 M64.6,375.1 V383.1 M63,375.1 H66.2 M63,383.1 H66.2 M70,375.8 V383.8 M68.4,375.8 H71.6 M68.4,383.8 H71.6 M74.3,368.1 V378.1 M72.7,368.1 H75.9 M72.7,378.1 H75.9 M79,356.3 V368.3 M77.4,356.3 H80.6 M77.4,368.3 H80.6 M84,354.3 V366.3 M82.4,354.3 H85.6 M82.4,366.3 H85.6 M89.1,353.9 V365.9 M87.5,353.9 H90.7 M87.5,365.9 H90.7 M93.8,354.3 V364.3 M92.2,354.3 H95.4 M92.2,364.3 H95.4 M98.8,355.9 V363.9 M97.2,355.9 H100.4 M97.2,363.9 H100.4" stroke="#2a962a" stroke-width="1.17" fill="none"/>
<rect x="44.15" y="402.75" width="2.5" height="2.5" fill="#2a962a"/>
<rect x="49.45" y="396.75" width="2.5" height="2.5" fill="#2a962a"/>
<rect x="53.95" y="394.75" width="2.5" height="2.5" fill="#2a962a"/>
<rect x="59.35" y="384.65" width="2.5" height="2.5" fill="#2a962a"/>
<rect x="63.35" y="377.85" width="2.5" height="2.5" fill="#2a962a"/>
<rect x="68.75" y="378.55" width="2.5" height="2.5" fill="#2a962a"/>
<rect x="73.05" y="371.85" width="2.5" height="2.5" fill="#2a962a"/>
<rect x="77.75" y="361.05" width="2.5" height="2.5" fill="#2a962a"/>
<rect x="82.75" y="359.05" width="2.5" height="2.5" fill="#2a962a"/>
<rect x="87.85" y="358.65" width="2.5" height="2.5" fill="#2a962a"/>
<rect x="92.55" y="358.05" width="2.5" height="2.5" fill="#2a962a"/>
<rect x="97.55" y="358.65" width="2.5" height="2.5" fill="#2a962a"/>
<polyline points="45.4,404 50.7,402 55.2,400.7 60.6,396.6 64.6,394.6 70,393.9 74.3,387.9 79,383.8 84,381.8 89.1,383.8 93.8,384.5 98.8,383.2 102.7,382.5 108.3,381.1 112.8,380.5 117.8,379.5 122.2,376.4 127.6,372.8 131.6,372.4 136.6,372.4 141,372.8 146.4,373.7 150.9,372.8 156.3,371.7 160.6,370.4" fill="none" stroke="#1a1ad2" stroke-width="1.3" stroke-linejoin="round"/>
<path d="M50.7,401 V403 M49.1,401 H52.3 M49.1,403 H52.3 M55.2,399.2 V402.2 M53.6,399.2 H56.8 M53.6,402.2 H56.8 M60.6,393.9 V399.3 M59,393.9 H62.2 M59,399.3 H62.2 M64.6,390.6 V398.6 M63,390.6 H66.2 M63,398.6 H66.2 M70,390.5 V397.3 M68.4,390.5 H71.6 M68.4,397.3 H71.6 M74.3,379.5 V396.3 M72.7,379.5 H75.9 M72.7,396.3 H75.9 M79,376.4 V391.2 M77.4,376.4 H80.6 M77.4,391.2 H80.6 M84,373.8 V389.8 M82.4,373.8 H85.6 M82.4,389.8 H85.6 M89.1,375.4 V392.2 M87.5,375.4 H90.7 M87.5,392.2 H90.7 M93.8,376.1 V392.9 M92.2,376.1 H95.4 M92.2,392.9 H95.4 M98.8,376.2 V390.2 M97.2,376.2 H100.4 M97.2,390.2 H100.4 M102.7,375.5 V389.5 M101.1,375.5 H104.3 M101.1,389.5 H104.3 M108.3,374.1 V388.1 M106.7,374.1 H109.9 M106.7,388.1 H109.9 M112.8,373.5 V387.5 M111.2,373.5 H114.4 M111.2,387.5 H114.4 M117.8,372.5 V386.5 M116.2,372.5 H119.4 M116.2,386.5 H119.4 M122.2,369.4 V383.4 M120.6,369.4 H123.8 M120.6,383.4 H123.8 M127.6,365.3 V380.3 M126,365.3 H129.2 M126,380.3 H129.2 M131.6,364.9 V379.9 M130,364.9 H133.2 M130,379.9 H133.2 M136.6,364.9 V379.9 M135,364.9 H138.2 M135,379.9 H138.2 M141,365.3 V380.3 M139.4,365.3 H142.6 M139.4,380.3 H142.6 M146.4,366.2 V381.2 M144.8,366.2 H148 M144.8,381.2 H148 M150.9,365.3 V380.3 M149.3,365.3 H152.5 M149.3,380.3 H152.5 M156.3,364.2 V379.2 M154.7,364.2 H157.9 M154.7,379.2 H157.9 M160.6,362.7 V378.1 M159,362.7 H162.2 M159,378.1 H162.2" stroke="#1a1ad2" stroke-width="1.17" fill="none"/>
<rect x="44.15" y="402.75" width="2.5" height="2.5" fill="#1a1ad2"/>
<rect x="49.45" y="400.75" width="2.5" height="2.5" fill="#1a1ad2"/>
<rect x="53.95" y="399.45" width="2.5" height="2.5" fill="#1a1ad2"/>
<rect x="59.35" y="395.35" width="2.5" height="2.5" fill="#1a1ad2"/>
<rect x="63.35" y="393.35" width="2.5" height="2.5" fill="#1a1ad2"/>
<rect x="68.75" y="392.65" width="2.5" height="2.5" fill="#1a1ad2"/>
<rect x="73.05" y="386.65" width="2.5" height="2.5" fill="#1a1ad2"/>
<rect x="77.75" y="382.55" width="2.5" height="2.5" fill="#1a1ad2"/>
<rect x="82.75" y="380.55" width="2.5" height="2.5" fill="#1a1ad2"/>
<rect x="87.85" y="382.55" width="2.5" height="2.5" fill="#1a1ad2"/>
<rect x="92.55" y="383.25" width="2.5" height="2.5" fill="#1a1ad2"/>
<rect x="97.55" y="381.95" width="2.5" height="2.5" fill="#1a1ad2"/>
<rect x="101.45" y="381.25" width="2.5" height="2.5" fill="#1a1ad2"/>
<rect x="107.05" y="379.85" width="2.5" height="2.5" fill="#1a1ad2"/>
<rect x="111.55" y="379.25" width="2.5" height="2.5" fill="#1a1ad2"/>
<rect x="116.55" y="378.25" width="2.5" height="2.5" fill="#1a1ad2"/>
<rect x="120.95" y="375.15" width="2.5" height="2.5" fill="#1a1ad2"/>
<rect x="126.35" y="371.55" width="2.5" height="2.5" fill="#1a1ad2"/>
<rect x="130.35" y="371.15" width="2.5" height="2.5" fill="#1a1ad2"/>
<rect x="135.35" y="371.15" width="2.5" height="2.5" fill="#1a1ad2"/>
<rect x="139.75" y="371.55" width="2.5" height="2.5" fill="#1a1ad2"/>
<rect x="145.15" y="372.45" width="2.5" height="2.5" fill="#1a1ad2"/>
<rect x="149.65" y="371.55" width="2.5" height="2.5" fill="#1a1ad2"/>
<rect x="155.05" y="370.45" width="2.5" height="2.5" fill="#1a1ad2"/>
<rect x="159.35" y="369.15" width="2.5" height="2.5" fill="#1a1ad2"/>
<polyline points="45.4,404 50.7,398 55.2,391.2 60.6,375.8 64.6,369 70,368.4 74.3,363 79,362.3 84,362.3 89.1,360.7 93.8,358.9 98.8,354.9 103.2,348.2" fill="none" stroke="#111111" stroke-width="1.3" stroke-linejoin="round"/>
<path d="M50.7,397 V399 M49.1,397 H52.3 M49.1,399 H52.3 M55.2,388.5 V393.9 M53.6,388.5 H56.8 M53.6,393.9 H56.8 M60.6,370.4 V381.2 M59,370.4 H62.2 M59,381.2 H62.2 M64.6,358 V380 M63,358 H66.2 M63,380 H66.2 M70,358 V378.8 M68.4,358 H71.6 M68.4,378.8 H71.6 M74.3,351 V375 M72.7,351 H75.9 M72.7,375 H75.9 M79,350.5 V374.1 M77.4,350.5 H80.6 M77.4,374.1 H80.6 M84,350.9 V373.7 M82.4,350.9 H85.6 M82.4,373.7 H85.6 M89.1,350.7 V370.7 M87.5,350.7 H90.7 M87.5,370.7 H90.7 M93.8,350.2 V367.6 M92.2,350.2 H95.4 M92.2,367.6 H95.4 M98.8,349.9 V359.9 M97.2,349.9 H100.4 M97.2,359.9 H100.4 M103.2,344.4 V352 M101.6,344.4 H104.8 M101.6,352 H104.8" stroke="#111111" stroke-width="1.17" fill="none"/>
<rect x="44.15" y="402.75" width="2.5" height="2.5" fill="#111111"/>
<rect x="49.45" y="396.75" width="2.5" height="2.5" fill="#111111"/>
<rect x="53.95" y="389.95" width="2.5" height="2.5" fill="#111111"/>
<rect x="59.35" y="374.55" width="2.5" height="2.5" fill="#111111"/>
<rect x="63.35" y="367.75" width="2.5" height="2.5" fill="#111111"/>
<rect x="68.75" y="367.15" width="2.5" height="2.5" fill="#111111"/>
<rect x="73.05" y="361.75" width="2.5" height="2.5" fill="#111111"/>
<rect x="77.75" y="361.05" width="2.5" height="2.5" fill="#111111"/>
<rect x="82.75" y="361.05" width="2.5" height="2.5" fill="#111111"/>
<rect x="87.85" y="359.45" width="2.5" height="2.5" fill="#111111"/>
<rect x="92.55" y="357.65" width="2.5" height="2.5" fill="#111111"/>
<rect x="97.55" y="353.65" width="2.5" height="2.5" fill="#111111"/>
<rect x="101.95" y="346.95" width="2.5" height="2.5" fill="#111111"/>
<text x="195.9" y="304.4" font-size="12.3" text-anchor="middle" font-weight="bold" fill="#000" dominant-baseline="central">E</text>
<text x="276.5" y="307.2" font-size="6.65" text-anchor="middle" font-weight="bold" fill="#000" dominant-baseline="central">RXF-2796</text>
<line x1="212.7" y1="319.2" x2="220.2" y2="319.2" stroke="#111111" stroke-width="1"/>
<path d="M214.9,319.2 l1.7,-1.4 l1.7,1.4 l-1.7,1.4 z" fill="#111111"/>
<text x="222.7" y="319.2" font-size="4.5" text-anchor="start" font-weight="normal" fill="#000" dominant-baseline="central" stroke="#000" stroke-width="0.12">Vehicle</text>
<line x1="212.7" y1="326.3" x2="220.2" y2="326.3" stroke="#2a962a" stroke-width="1"/>
<path d="M214.9,326.3 l1.7,-1.4 l1.7,1.4 l-1.7,1.4 z" fill="#2a962a"/>
<text x="222.7" y="326.3" font-size="4.5" text-anchor="start" font-weight="normal" fill="#000" dominant-baseline="central" stroke="#000" stroke-width="0.12">M8891 100 mg/kg, daily p.o.</text>
<line x1="284.4" y1="319.2" x2="291.9" y2="319.2" stroke="#1a1ad2" stroke-width="1"/>
<path d="M286.6,319.2 l1.7,-1.4 l1.7,1.4 l-1.7,1.4 z" fill="#1a1ad2"/>
<text x="294.4" y="319.2" font-size="4.5" text-anchor="start" font-weight="normal" fill="#000" dominant-baseline="central" stroke="#000" stroke-width="0.12">Sunitinib 40 mg/kg, daily p.o.</text>
<line x1="284.4" y1="326.3" x2="291.9" y2="326.3" stroke="#b5141c" stroke-width="1"/>
<path d="M286.6,326.3 l1.7,-1.4 l1.7,1.4 l-1.7,1.4 z" fill="#b5141c"/>
<text x="294.4" y="326.3" font-size="4.5" text-anchor="start" font-weight="normal" fill="#000" dominant-baseline="central" stroke="#000" stroke-width="0.12">Sunitinib+M8891</text>
<line x1="221.8" y1="333.2" x2="221.8" y2="415.4" stroke="#333" stroke-width="0.9"/>
<line x1="221.4" y1="415" x2="345.1" y2="415" stroke="#333" stroke-width="0.9"/>
<line x1="219.6" y1="415" x2="221.8" y2="415" stroke="#333" stroke-width="0.7"/>
<text x="219.2" y="415" font-size="4.65" text-anchor="end" font-weight="normal" fill="#222" dominant-baseline="central" stroke="#222" stroke-width="0.08">0</text>
<line x1="219.6" y1="398.74" x2="221.8" y2="398.74" stroke="#333" stroke-width="0.7"/>
<text x="219.2" y="398.74" font-size="4.65" text-anchor="end" font-weight="normal" fill="#222" dominant-baseline="central" stroke="#222" stroke-width="0.08">100</text>
<line x1="219.6" y1="382.48" x2="221.8" y2="382.48" stroke="#333" stroke-width="0.7"/>
<text x="219.2" y="382.48" font-size="4.65" text-anchor="end" font-weight="normal" fill="#222" dominant-baseline="central" stroke="#222" stroke-width="0.08">200</text>
<line x1="219.6" y1="366.22" x2="221.8" y2="366.22" stroke="#333" stroke-width="0.7"/>
<text x="219.2" y="366.22" font-size="4.65" text-anchor="end" font-weight="normal" fill="#222" dominant-baseline="central" stroke="#222" stroke-width="0.08">300</text>
<line x1="219.6" y1="349.96" x2="221.8" y2="349.96" stroke="#333" stroke-width="0.7"/>
<text x="219.2" y="349.96" font-size="4.65" text-anchor="end" font-weight="normal" fill="#222" dominant-baseline="central" stroke="#222" stroke-width="0.08">400</text>
<line x1="219.6" y1="333.7" x2="221.8" y2="333.7" stroke="#333" stroke-width="0.7"/>
<text x="219.2" y="333.7" font-size="4.65" text-anchor="end" font-weight="normal" fill="#222" dominant-baseline="central" stroke="#222" stroke-width="0.08">500</text>
<line x1="221.8" y1="415" x2="221.8" y2="417.2" stroke="#333" stroke-width="0.7"/>
<text x="221.8" y="420.6" font-size="4.65" text-anchor="middle" font-weight="normal" fill="#222" dominant-baseline="central" stroke="#222" stroke-width="0.08">0</text>
<line x1="235.44" y1="415" x2="235.44" y2="417.2" stroke="#333" stroke-width="0.7"/>
<text x="235.44" y="420.6" font-size="4.65" text-anchor="middle" font-weight="normal" fill="#222" dominant-baseline="central" stroke="#222" stroke-width="0.08">10</text>
<line x1="249.09" y1="415" x2="249.09" y2="417.2" stroke="#333" stroke-width="0.7"/>
<text x="249.09" y="420.6" font-size="4.65" text-anchor="middle" font-weight="normal" fill="#222" dominant-baseline="central" stroke="#222" stroke-width="0.08">20</text>
<line x1="262.73" y1="415" x2="262.73" y2="417.2" stroke="#333" stroke-width="0.7"/>
<text x="262.73" y="420.6" font-size="4.65" text-anchor="middle" font-weight="normal" fill="#222" dominant-baseline="central" stroke="#222" stroke-width="0.08">30</text>
<line x1="276.38" y1="415" x2="276.38" y2="417.2" stroke="#333" stroke-width="0.7"/>
<text x="276.38" y="420.6" font-size="4.65" text-anchor="middle" font-weight="normal" fill="#222" dominant-baseline="central" stroke="#222" stroke-width="0.08">40</text>
<line x1="290.02" y1="415" x2="290.02" y2="417.2" stroke="#333" stroke-width="0.7"/>
<text x="290.02" y="420.6" font-size="4.65" text-anchor="middle" font-weight="normal" fill="#222" dominant-baseline="central" stroke="#222" stroke-width="0.08">50</text>
<line x1="303.67" y1="415" x2="303.67" y2="417.2" stroke="#333" stroke-width="0.7"/>
<text x="303.67" y="420.6" font-size="4.65" text-anchor="middle" font-weight="normal" fill="#222" dominant-baseline="central" stroke="#222" stroke-width="0.08">60</text>
<line x1="317.31" y1="415" x2="317.31" y2="417.2" stroke="#333" stroke-width="0.7"/>
<text x="317.31" y="420.6" font-size="4.65" text-anchor="middle" font-weight="normal" fill="#222" dominant-baseline="central" stroke="#222" stroke-width="0.08">70</text>
<line x1="330.96" y1="415" x2="330.96" y2="417.2" stroke="#333" stroke-width="0.7"/>
<text x="330.96" y="420.6" font-size="4.65" text-anchor="middle" font-weight="normal" fill="#222" dominant-baseline="central" stroke="#222" stroke-width="0.08">80</text>
<line x1="344.6" y1="415" x2="344.6" y2="417.2" stroke="#333" stroke-width="0.7"/>
<text x="344.6" y="420.6" font-size="4.65" text-anchor="middle" font-weight="normal" fill="#222" dominant-baseline="central" stroke="#222" stroke-width="0.08">90</text>
<text x="198.4" y="374.35" font-size="5.2" text-anchor="middle" font-weight="bold" fill="#000" dominant-baseline="central" transform="rotate(-90 198.4 374.35)">Tumor volume change (%)</text>
<text x="205.3" y="374.35" font-size="5.2" text-anchor="middle" font-weight="bold" fill="#000" dominant-baseline="central" transform="rotate(-90 205.3 374.35)">mean ± SEM</text>
<text x="283.2" y="429.2" font-size="4.9" text-anchor="middle" font-weight="bold" fill="#000" dominant-baseline="central">Days after treatment start</text>
<line x1="221.8" y1="398.9" x2="344.6" y2="398.9" stroke="#e02020" stroke-width="0.8" stroke-dasharray="2,1.4"/>
<polyline points="221.8,398.6 225.8,402 231.5,402.7 235.5,403.4 241.1,402.7 245.2,406 250.3,407.8 254.6,407 260,407.4 264.4,408.1 269.4,409.4 273.5,410.5 279.2,410.5 283.4,410.1 288.7,409.4 292.8,410.1 298.2,410.8 302.6,411 308,411.4 317.4,410.5 321.5,410.8 326.8,409.4 330.9,408.7 336.8,411" fill="none" stroke="#b5141c" stroke-width="1.3" stroke-linejoin="round"/>
<path d="M225.8,401 V403 M224.2,401 H227.4 M224.2,403 H227.4 M231.5,401.7 V403.7 M229.9,401.7 H233.1 M229.9,403.7 H233.1 M235.5,402.4 V404.4 M233.9,402.4 H237.1 M233.9,404.4 H237.1 M241.1,401.7 V403.7 M239.5,401.7 H242.7 M239.5,403.7 H242.7 M245.2,405 V407 M243.6,405 H246.8 M243.6,407 H246.8 M250.3,406.8 V408.8 M248.7,406.8 H251.9 M248.7,408.8 H251.9 M254.6,406 V408 M253,406 H256.2 M253,408 H256.2 M260,406.4 V408.4 M258.4,406.4 H261.6 M258.4,408.4 H261.6 M264.4,407.1 V409.1 M262.8,407.1 H266 M262.8,409.1 H266 M269.4,408.4 V410.4 M267.8,408.4 H271 M267.8,410.4 H271 M273.5,409.5 V411.5 M271.9,409.5 H275.1 M271.9,411.5 H275.1 M279.2,409.5 V411.5 M277.6,409.5 H280.8 M277.6,411.5 H280.8 M283.4,409.1 V411.1 M281.8,409.1 H285 M281.8,411.1 H285 M288.7,408.4 V410.4 M287.1,408.4 H290.3 M287.1,410.4 H290.3 M292.8,409.1 V411.1 M291.2,409.1 H294.4 M291.2,411.1 H294.4 M298.2,409.8 V411.8 M296.6,409.8 H299.8 M296.6,411.8 H299.8 M302.6,410 V412 M301,410 H304.2 M301,412 H304.2 M308,410.4 V412.4 M306.4,410.4 H309.6 M306.4,412.4 H309.6 M317.4,409.5 V411.5 M315.8,409.5 H319 M315.8,411.5 H319 M321.5,409.8 V411.8 M319.9,409.8 H323.1 M319.9,411.8 H323.1 M326.8,408.4 V410.4 M325.2,408.4 H328.4 M325.2,410.4 H328.4 M330.9,407.2 V410.2 M329.3,407.2 H332.5 M329.3,410.2 H332.5 M336.8,410 V412 M335.2,410 H338.4 M335.2,412 H338.4" stroke="#b5141c" stroke-width="1.17" fill="none"/>
<rect x="220.55" y="397.35" width="2.5" height="2.5" fill="#b5141c"/>
<rect x="224.55" y="400.75" width="2.5" height="2.5" fill="#b5141c"/>
<rect x="230.25" y="401.45" width="2.5" height="2.5" fill="#b5141c"/>
<rect x="234.25" y="402.15" width="2.5" height="2.5" fill="#b5141c"/>
<rect x="239.85" y="401.45" width="2.5" height="2.5" fill="#b5141c"/>
<rect x="243.95" y="404.75" width="2.5" height="2.5" fill="#b5141c"/>
<rect x="249.05" y="406.55" width="2.5" height="2.5" fill="#b5141c"/>
<rect x="253.35" y="405.75" width="2.5" height="2.5" fill="#b5141c"/>
<rect x="258.75" y="406.15" width="2.5" height="2.5" fill="#b5141c"/>
<rect x="263.15" y="406.85" width="2.5" height="2.5" fill="#b5141c"/>
<rect x="268.15" y="408.15" width="2.5" height="2.5" fill="#b5141c"/>
<rect x="272.25" y="409.25" width="2.5" height="2.5" fill="#b5141c"/>
<rect x="277.95" y="409.25" width="2.5" height="2.5" fill="#b5141c"/>
<rect x="282.15" y="408.85" width="2.5" height="2.5" fill="#b5141c"/>
<rect x="287.45" y="408.15" width="2.5" height="2.5" fill="#b5141c"/>
<rect x="291.55" y="408.85" width="2.5" height="2.5" fill="#b5141c"/>
<rect x="296.95" y="409.55" width="2.5" height="2.5" fill="#b5141c"/>
<rect x="301.35" y="409.75" width="2.5" height="2.5" fill="#b5141c"/>
<rect x="306.75" y="410.15" width="2.5" height="2.5" fill="#b5141c"/>
<rect x="316.15" y="409.25" width="2.5" height="2.5" fill="#b5141c"/>
<rect x="320.25" y="409.55" width="2.5" height="2.5" fill="#b5141c"/>
<rect x="325.55" y="408.15" width="2.5" height="2.5" fill="#b5141c"/>
<rect x="329.65" y="407.45" width="2.5" height="2.5" fill="#b5141c"/>
<rect x="335.55" y="409.75" width="2.5" height="2.5" fill="#b5141c"/>
<polyline points="221.8,398.6 225.8,393.3 231.5,396 235.5,393.3 241.1,391.2 245.2,384.5 250.3,380.5 254.6,379.1 260,377.1 264.4,377.8 269.4,384.5 273.5,383.2 279.2,375.1 283.4,383.8 288.7,377.1 292.8,373.1 298.2,371.7 302.6,371 308,370.4 317.4,361 321.5,370.4 326.8,377.1 330.9,374.4 336.8,373.1" fill="none" stroke="#2a962a" stroke-width="1.3" stroke-linejoin="round"/>
<path d="M225.8,391.8 V394.8 M224.2,391.8 H227.4 M224.2,394.8 H227.4 M231.5,394.5 V397.5 M229.9,394.5 H233.1 M229.9,397.5 H233.1 M235.5,391.3 V395.3 M233.9,391.3 H237.1 M233.9,395.3 H237.1 M241.1,388.2 V394.2 M239.5,388.2 H242.7 M239.5,394.2 H242.7 M245.2,379.8 V389.2 M243.6,379.8 H246.8 M243.6,389.2 H246.8 M250.3,373.8 V387.2 M248.7,373.8 H251.9 M248.7,387.2 H251.9 M254.6,373.1 V385.1 M253,373.1 H256.2 M253,385.1 H256.2 M260,370.1 V384.1 M258.4,370.1 H261.6 M258.4,384.1 H261.6 M264.4,368.4 V387.2 M262.8,368.4 H266 M262.8,387.2 H266 M269.4,374.5 V394.5 M267.8,374.5 H271 M267.8,394.5 H271 M273.5,373.2 V393.2 M271.9,373.2 H275.1 M271.9,393.2 H275.1 M279.2,364.1 V386.1 M277.6,364.1 H280.8 M277.6,386.1 H280.8 M283.4,371.8 V395.8 M281.8,371.8 H285 M281.8,395.8 H285 M288.7,367.1 V387.1 M287.1,367.1 H290.3 M287.1,387.1 H290.3 M292.8,363.1 V383.1 M291.2,363.1 H294.4 M291.2,383.1 H294.4 M298.2,362.3 V381.1 M296.6,362.3 H299.8 M296.6,381.1 H299.8 M302.6,361.6 V380.4 M301,361.6 H304.2 M301,380.4 H304.2 M308,361 V379.8 M306.4,361 H309.6 M306.4,379.8 H309.6 M317.4,349 V373 M315.8,349 H319 M315.8,373 H319 M321.5,360.4 V380.4 M319.9,360.4 H323.1 M319.9,380.4 H323.1 M326.8,366.7 V387.5 M325.2,366.7 H328.4 M325.2,387.5 H328.4 M330.9,361.4 V387.4 M329.3,361.4 H332.5 M329.3,387.4 H332.5 M336.8,359.1 V387.1 M335.2,359.1 H338.4 M335.2,387.1 H338.4" stroke="#2a962a" stroke-width="1.17" fill="none"/>
<rect x="220.55" y="397.35" width="2.5" height="2.5" fill="#2a962a"/>
<rect x="224.55" y="392.05" width="2.5" height="2.5" fill="#2a962a"/>
<rect x="230.25" y="394.75" width="2.5" height="2.5" fill="#2a962a"/>
<rect x="234.25" y="392.05" width="2.5" height="2.5" fill="#2a962a"/>
<rect x="239.85" y="389.95" width="2.5" height="2.5" fill="#2a962a"/>
<rect x="243.95" y="383.25" width="2.5" height="2.5" fill="#2a962a"/>
<rect x="249.05" y="379.25" width="2.5" height="2.5" fill="#2a962a"/>
<rect x="253.35" y="377.85" width="2.5" height="2.5" fill="#2a962a"/>
<rect x="258.75" y="375.85" width="2.5" height="2.5" fill="#2a962a"/>
<rect x="263.15" y="376.55" width="2.5" height="2.5" fill="#2a962a"/>
<rect x="268.15" y="383.25" width="2.5" height="2.5" fill="#2a962a"/>
<rect x="272.25" y="381.95" width="2.5" height="2.5" fill="#2a962a"/>
<rect x="277.95" y="373.85" width="2.5" height="2.5" fill="#2a962a"/>
<rect x="282.15" y="382.55" width="2.5" height="2.5" fill="#2a962a"/>
<rect x="287.45" y="375.85" width="2.5" height="2.5" fill="#2a962a"/>
<rect x="291.55" y="371.85" width="2.5" height="2.5" fill="#2a962a"/>
<rect x="296.95" y="370.45" width="2.5" height="2.5" fill="#2a962a"/>
<rect x="301.35" y="369.75" width="2.5" height="2.5" fill="#2a962a"/>
<rect x="306.75" y="369.15" width="2.5" height="2.5" fill="#2a962a"/>
<rect x="316.15" y="359.75" width="2.5" height="2.5" fill="#2a962a"/>
<rect x="320.25" y="369.15" width="2.5" height="2.5" fill="#2a962a"/>
<rect x="325.55" y="375.85" width="2.5" height="2.5" fill="#2a962a"/>
<rect x="329.65" y="373.15" width="2.5" height="2.5" fill="#2a962a"/>
<rect x="335.55" y="371.85" width="2.5" height="2.5" fill="#2a962a"/>
<polyline points="221.8,398.6 225.8,398 231.5,397.3 235.5,398.6 241.1,396.6 245.2,396 250.3,391.2 254.6,388.5 260,387.9 264.4,389.2 269.4,392.6 273.5,396 279.2,393.3 283.4,391.9 288.7,387.9 292.8,385.2 298.2,383.2 302.6,382.5 308,382.5 317.4,375.8 321.5,378.5 326.8,375.8 330.9,375.8 336.8,376.4" fill="none" stroke="#1a1ad2" stroke-width="1.3" stroke-linejoin="round"/>
<path d="M225.8,397 V399 M224.2,397 H227.4 M224.2,399 H227.4 M231.5,396.3 V398.3 M229.9,396.3 H233.1 M229.9,398.3 H233.1 M235.5,397.1 V400.1 M233.9,397.1 H237.1 M233.9,400.1 H237.1 M241.1,394.6 V398.6 M239.5,394.6 H242.7 M239.5,398.6 H242.7 M245.2,394 V398 M243.6,394 H246.8 M243.6,398 H246.8 M250.3,387.8 V394.6 M248.7,387.8 H251.9 M248.7,394.6 H251.9 M254.6,384.5 V392.5 M253,384.5 H256.2 M253,392.5 H256.2 M260,383.9 V391.9 M258.4,383.9 H261.6 M258.4,391.9 H261.6 M264.4,385.2 V393.2 M262.8,385.2 H266 M262.8,393.2 H266 M269.4,388.9 V396.3 M267.8,388.9 H271 M267.8,396.3 H271 M273.5,392 V400 M271.9,392 H275.1 M271.9,400 H275.1 M279.2,387.9 V398.7 M277.6,387.9 H280.8 M277.6,398.7 H280.8 M283.4,385.9 V397.9 M281.8,385.9 H285 M281.8,397.9 H285 M288.7,381.2 V394.6 M287.1,381.2 H290.3 M287.1,394.6 H290.3 M292.8,377.5 V392.9 M291.2,377.5 H294.4 M291.2,392.9 H294.4 M298.2,375.2 V391.2 M296.6,375.2 H299.8 M296.6,391.2 H299.8 M302.6,374.5 V390.5 M301,374.5 H304.2 M301,390.5 H304.2 M308,373.8 V391.2 M306.4,373.8 H309.6 M306.4,391.2 H309.6 M317.4,362.8 V388.8 M315.8,362.8 H319 M315.8,388.8 H319 M321.5,369.1 V387.9 M319.9,369.1 H323.1 M319.9,387.9 H323.1 M326.8,363.8 V387.8 M325.2,363.8 H328.4 M325.2,387.8 H328.4 M330.9,362.3 V389.3 M329.3,362.3 H332.5 M329.3,389.3 H332.5 M336.8,363.4 V389.4 M335.2,363.4 H338.4 M335.2,389.4 H338.4" stroke="#1a1ad2" stroke-width="1.17" fill="none"/>
<rect x="220.55" y="397.35" width="2.5" height="2.5" fill="#1a1ad2"/>
<rect x="224.55" y="396.75" width="2.5" height="2.5" fill="#1a1ad2"/>
<rect x="230.25" y="396.05" width="2.5" height="2.5" fill="#1a1ad2"/>
<rect x="234.25" y="397.35" width="2.5" height="2.5" fill="#1a1ad2"/>
<rect x="239.85" y="395.35" width="2.5" height="2.5" fill="#1a1ad2"/>
<rect x="243.95" y="394.75" width="2.5" height="2.5" fill="#1a1ad2"/>
<rect x="249.05" y="389.95" width="2.5" height="2.5" fill="#1a1ad2"/>
<rect x="253.35" y="387.25" width="2.5" height="2.5" fill="#1a1ad2"/>
<rect x="258.75" y="386.65" width="2.5" height="2.5" fill="#1a1ad2"/>
<rect x="263.15" y="387.95" width="2.5" height="2.5" fill="#1a1ad2"/>
<rect x="268.15" y="391.35" width="2.5" height="2.5" fill="#1a1ad2"/>
<rect x="272.25" y="394.75" width="2.5" height="2.5" fill="#1a1ad2"/>
<rect x="277.95" y="392.05" width="2.5" height="2.5" fill="#1a1ad2"/>
<rect x="282.15" y="390.65" width="2.5" height="2.5" fill="#1a1ad2"/>
<rect x="287.45" y="386.65" width="2.5" height="2.5" fill="#1a1ad2"/>
<rect x="291.55" y="383.95" width="2.5" height="2.5" fill="#1a1ad2"/>
<rect x="296.95" y="381.95" width="2.5" height="2.5" fill="#1a1ad2"/>
<rect x="301.35" y="381.25" width="2.5" height="2.5" fill="#1a1ad2"/>
<rect x="306.75" y="381.25" width="2.5" height="2.5" fill="#1a1ad2"/>
<rect x="316.15" y="374.55" width="2.5" height="2.5" fill="#1a1ad2"/>
<rect x="320.25" y="377.25" width="2.5" height="2.5" fill="#1a1ad2"/>
<rect x="325.55" y="374.55" width="2.5" height="2.5" fill="#1a1ad2"/>
<rect x="329.65" y="374.55" width="2.5" height="2.5" fill="#1a1ad2"/>
<rect x="335.55" y="375.15" width="2.5" height="2.5" fill="#1a1ad2"/>
<polyline points="221.8,398.6 225.8,392.6 231.5,388.5 235.5,387.9 241.1,381.8 245.2,377.8 250.3,375.1 254.6,373.1 260,369.7 264.4,366.1 269.4,365.7 273.5,362.3 279.2,360.3 283.4,356.9 288.7,361 292.8,356.9 298.2,352.2 302.6,351.5 308,358.3 317.4,354.2 321.5,351.5 326.8,352.2 330.9,350.2 336.8,348.2" fill="none" stroke="#111111" stroke-width="1.3" stroke-linejoin="round"/>
<path d="M225.8,391.6 V393.6 M224.2,391.6 H227.4 M224.2,393.6 H227.4 M231.5,387 V390 M229.9,387 H233.1 M229.9,390 H233.1 M235.5,385.9 V389.9 M233.9,385.9 H237.1 M233.9,389.9 H237.1 M241.1,378.8 V384.8 M239.5,378.8 H242.7 M239.5,384.8 H242.7 M245.2,373.8 V381.8 M243.6,373.8 H246.8 M243.6,381.8 H246.8 M250.3,370.1 V380.1 M248.7,370.1 H251.9 M248.7,380.1 H251.9 M254.6,367.7 V378.5 M253,367.7 H256.2 M253,378.5 H256.2 M260,363.7 V375.7 M258.4,363.7 H261.6 M258.4,375.7 H261.6 M264.4,359.1 V373.1 M262.8,359.1 H266 M262.8,373.1 H266 M269.4,358.7 V372.7 M267.8,358.7 H271 M267.8,372.7 H271 M273.5,354.9 V369.7 M271.9,354.9 H275.1 M271.9,369.7 H275.1 M279.2,352.3 V368.3 M277.6,352.3 H280.8 M277.6,368.3 H280.8 M283.4,348.9 V364.9 M281.8,348.9 H285 M281.8,364.9 H285 M288.7,357 V365 M287.1,357 H290.3 M287.1,365 H290.3 M292.8,350.9 V362.9 M291.2,350.9 H294.4 M291.2,362.9 H294.4 M298.2,345.8 V358.6 M296.6,345.8 H299.8 M296.6,358.6 H299.8 M302.6,344.5 V358.5 M301,344.5 H304.2 M301,358.5 H304.2 M308,354.3 V362.3 M306.4,354.3 H309.6 M306.4,362.3 H309.6 M317.4,348.2 V360.2 M315.8,348.2 H319 M315.8,360.2 H319 M321.5,346.1 V356.9 M319.9,346.1 H323.1 M319.9,356.9 H323.1 M326.8,347.2 V357.2 M325.2,347.2 H328.4 M325.2,357.2 H328.4 M330.9,344.8 V355.6 M329.3,344.8 H332.5 M329.3,355.6 H332.5 M336.8,343.8 V352.6 M335.2,343.8 H338.4 M335.2,352.6 H338.4" stroke="#111111" stroke-width="1.17" fill="none"/>
<rect x="220.55" y="397.35" width="2.5" height="2.5" fill="#111111"/>
<rect x="224.55" y="391.35" width="2.5" height="2.5" fill="#111111"/>
<rect x="230.25" y="387.25" width="2.5" height="2.5" fill="#111111"/>
<rect x="234.25" y="386.65" width="2.5" height="2.5" fill="#111111"/>
<rect x="239.85" y="380.55" width="2.5" height="2.5" fill="#111111"/>
<rect x="243.95" y="376.55" width="2.5" height="2.5" fill="#111111"/>
<rect x="249.05" y="373.85" width="2.5" height="2.5" fill="#111111"/>
<rect x="253.35" y="371.85" width="2.5" height="2.5" fill="#111111"/>
<rect x="258.75" y="368.45" width="2.5" height="2.5" fill="#111111"/>
<rect x="263.15" y="364.85" width="2.5" height="2.5" fill="#111111"/>
<rect x="268.15" y="364.45" width="2.5" height="2.5" fill="#111111"/>
<rect x="272.25" y="361.05" width="2.5" height="2.5" fill="#111111"/>
<rect x="277.95" y="359.05" width="2.5" height="2.5" fill="#111111"/>
<rect x="282.15" y="355.65" width="2.5" height="2.5" fill="#111111"/>
<rect x="287.45" y="359.75" width="2.5" height="2.5" fill="#111111"/>
<rect x="291.55" y="355.65" width="2.5" height="2.5" fill="#111111"/>
<rect x="296.95" y="350.95" width="2.5" height="2.5" fill="#111111"/>
<rect x="301.35" y="350.25" width="2.5" height="2.5" fill="#111111"/>
<rect x="306.75" y="357.05" width="2.5" height="2.5" fill="#111111"/>
<rect x="316.15" y="352.95" width="2.5" height="2.5" fill="#111111"/>
<rect x="320.25" y="350.25" width="2.5" height="2.5" fill="#111111"/>
<rect x="325.55" y="350.95" width="2.5" height="2.5" fill="#111111"/>
<rect x="329.65" y="348.95" width="2.5" height="2.5" fill="#111111"/>
<rect x="335.55" y="346.95" width="2.5" height="2.5" fill="#111111"/>
<text x="361.2" y="304.4" font-size="12.3" text-anchor="middle" font-weight="bold" fill="#000" dominant-baseline="central">F</text>
<text x="451.4" y="307.5" font-size="6.5" text-anchor="middle" font-weight="bold" fill="#000" dominant-baseline="central">RXF-2717</text>
<line x1="385.4" y1="316.9" x2="392.9" y2="316.9" stroke="#111111" stroke-width="1"/>
<path d="M387.6,316.9 l1.7,-1.4 l1.7,1.4 l-1.7,1.4 z" fill="#111111"/>
<text x="395.4" y="316.9" font-size="4.5" text-anchor="start" font-weight="normal" fill="#000" dominant-baseline="central" stroke="#000" stroke-width="0.12">Vehicle</text>
<line x1="385.4" y1="324" x2="392.9" y2="324" stroke="#2a962a" stroke-width="1"/>
<path d="M387.6,324 l1.7,-1.4 l1.7,1.4 l-1.7,1.4 z" fill="#2a962a"/>
<text x="395.4" y="324" font-size="4.5" text-anchor="start" font-weight="normal" fill="#000" dominant-baseline="central" stroke="#000" stroke-width="0.12">M8891 100 mg/kg, daily p.o.</text>
<line x1="455.4" y1="316.9" x2="462.9" y2="316.9" stroke="#1a1ad2" stroke-width="1"/>
<path d="M457.6,316.9 l1.7,-1.4 l1.7,1.4 l-1.7,1.4 z" fill="#1a1ad2"/>
<text x="465.4" y="316.9" font-size="4.5" text-anchor="start" font-weight="normal" fill="#000" dominant-baseline="central" stroke="#000" stroke-width="0.12">Axitinib 4 mg/kg, bidaily p.o.</text>
<line x1="455.4" y1="324" x2="462.9" y2="324" stroke="#b5141c" stroke-width="1"/>
<path d="M457.6,324 l1.7,-1.4 l1.7,1.4 l-1.7,1.4 z" fill="#b5141c"/>
<text x="465.4" y="324" font-size="4.5" text-anchor="start" font-weight="normal" fill="#000" dominant-baseline="central" stroke="#000" stroke-width="0.12">Axitinib+M8891</text>
<line x1="387.3" y1="332.8" x2="387.3" y2="413.3" stroke="#333" stroke-width="0.9"/>
<line x1="386.9" y1="412.9" x2="510.8" y2="412.9" stroke="#333" stroke-width="0.9"/>
<line x1="385.1" y1="412.9" x2="387.3" y2="412.9" stroke="#333" stroke-width="0.7"/>
<text x="384.7" y="412.9" font-size="4.65" text-anchor="end" font-weight="normal" fill="#222" dominant-baseline="central" stroke="#222" stroke-width="0.08">0</text>
<line x1="385.1" y1="399.63" x2="387.3" y2="399.63" stroke="#333" stroke-width="0.7"/>
<text x="384.7" y="399.63" font-size="4.65" text-anchor="end" font-weight="normal" fill="#222" dominant-baseline="central" stroke="#222" stroke-width="0.08">500</text>
<line x1="385.1" y1="386.37" x2="387.3" y2="386.37" stroke="#333" stroke-width="0.7"/>
<text x="384.7" y="386.37" font-size="4.65" text-anchor="end" font-weight="normal" fill="#222" dominant-baseline="central" stroke="#222" stroke-width="0.08">1,000</text>
<line x1="385.1" y1="373.1" x2="387.3" y2="373.1" stroke="#333" stroke-width="0.7"/>
<text x="384.7" y="373.1" font-size="4.65" text-anchor="end" font-weight="normal" fill="#222" dominant-baseline="central" stroke="#222" stroke-width="0.08">1,500</text>
<line x1="385.1" y1="359.83" x2="387.3" y2="359.83" stroke="#333" stroke-width="0.7"/>
<text x="384.7" y="359.83" font-size="4.65" text-anchor="end" font-weight="normal" fill="#222" dominant-baseline="central" stroke="#222" stroke-width="0.08">2,000</text>
<line x1="385.1" y1="346.57" x2="387.3" y2="346.57" stroke="#333" stroke-width="0.7"/>
<text x="384.7" y="346.57" font-size="4.65" text-anchor="end" font-weight="normal" fill="#222" dominant-baseline="central" stroke="#222" stroke-width="0.08">2,500</text>
<line x1="385.1" y1="333.3" x2="387.3" y2="333.3" stroke="#333" stroke-width="0.7"/>
<text x="384.7" y="333.3" font-size="4.65" text-anchor="end" font-weight="normal" fill="#222" dominant-baseline="central" stroke="#222" stroke-width="0.08">3,000</text>
<line x1="387.3" y1="412.9" x2="387.3" y2="415.1" stroke="#333" stroke-width="0.7"/>
<text x="387.3" y="418.5" font-size="4.65" text-anchor="middle" font-weight="normal" fill="#222" dominant-baseline="central" stroke="#222" stroke-width="0.08">0</text>
<line x1="404.87" y1="412.9" x2="404.87" y2="415.1" stroke="#333" stroke-width="0.7"/>
<text x="404.87" y="418.5" font-size="4.65" text-anchor="middle" font-weight="normal" fill="#222" dominant-baseline="central" stroke="#222" stroke-width="0.08">10</text>
<line x1="422.44" y1="412.9" x2="422.44" y2="415.1" stroke="#333" stroke-width="0.7"/>
<text x="422.44" y="418.5" font-size="4.65" text-anchor="middle" font-weight="normal" fill="#222" dominant-baseline="central" stroke="#222" stroke-width="0.08">20</text>
<line x1="440.01" y1="412.9" x2="440.01" y2="415.1" stroke="#333" stroke-width="0.7"/>
<text x="440.01" y="418.5" font-size="4.65" text-anchor="middle" font-weight="normal" fill="#222" dominant-baseline="central" stroke="#222" stroke-width="0.08">30</text>
<line x1="457.59" y1="412.9" x2="457.59" y2="415.1" stroke="#333" stroke-width="0.7"/>
<text x="457.59" y="418.5" font-size="4.65" text-anchor="middle" font-weight="normal" fill="#222" dominant-baseline="central" stroke="#222" stroke-width="0.08">40</text>
<line x1="475.16" y1="412.9" x2="475.16" y2="415.1" stroke="#333" stroke-width="0.7"/>
<text x="475.16" y="418.5" font-size="4.65" text-anchor="middle" font-weight="normal" fill="#222" dominant-baseline="central" stroke="#222" stroke-width="0.08">50</text>
<line x1="492.73" y1="412.9" x2="492.73" y2="415.1" stroke="#333" stroke-width="0.7"/>
<text x="492.73" y="418.5" font-size="4.65" text-anchor="middle" font-weight="normal" fill="#222" dominant-baseline="central" stroke="#222" stroke-width="0.08">60</text>
<line x1="510.3" y1="412.9" x2="510.3" y2="415.1" stroke="#333" stroke-width="0.7"/>
<text x="510.3" y="418.5" font-size="4.65" text-anchor="middle" font-weight="normal" fill="#222" dominant-baseline="central" stroke="#222" stroke-width="0.08">70</text>
<text x="361.1" y="373.1" font-size="5.2" text-anchor="middle" font-weight="bold" fill="#000" dominant-baseline="central" transform="rotate(-90 361.1 373.1)">Tumor volume change (%)</text>
<text x="368.6" y="373.1" font-size="5.2" text-anchor="middle" font-weight="bold" fill="#000" dominant-baseline="central" transform="rotate(-90 368.6 373.1)">mean ± SEM</text>
<text x="448.8" y="428.8" font-size="4.93" text-anchor="middle" font-weight="bold" fill="#000" dominant-baseline="central">Days after treatment start</text>
<line x1="387.3" y1="402.4" x2="510.3" y2="402.4" stroke="#222" stroke-width="0.8" stroke-dasharray="2,1.4"/>
<line x1="387.3" y1="410.5" x2="510.3" y2="410.5" stroke="#222" stroke-width="0.8" stroke-dasharray="2,1.4"/>
<polyline points="387.3,412.8 394.4,411.4 399.4,410.8 406.1,410.8 411.9,410.6 418.7,410.5 424,410.6 431.2,410.8 436.6,410.8 443.6,410.6 449,410.4 456,410.6 461.4,410.6 468.6,411.5 473.5,411.7 480.7,411.7 485.6,412 492.8,412 498.2,412.4 505.3,412.8 510.7,412.8" fill="none" stroke="#b5141c" stroke-width="1.3" stroke-linejoin="round"/>
<path d="M394.4,410.4 V412.4 M392.8,410.4 H396 M392.8,412.4 H396 M399.4,409.3 V412.3 M397.8,409.3 H401 M397.8,412.3 H401 M406.1,409.3 V412.3 M404.5,409.3 H407.7 M404.5,412.3 H407.7 M411.9,409.1 V412.1 M410.3,409.1 H413.5 M410.3,412.1 H413.5 M418.7,409 V412 M417.1,409 H420.3 M417.1,412 H420.3 M424,409.1 V412.1 M422.4,409.1 H425.6 M422.4,412.1 H425.6 M431.2,409.3 V412.3 M429.6,409.3 H432.8 M429.6,412.3 H432.8 M436.6,409.3 V412.3 M435,409.3 H438.2 M435,412.3 H438.2 M443.6,409.1 V412.1 M442,409.1 H445.2 M442,412.1 H445.2 M449,408.9 V411.9 M447.4,408.9 H450.6 M447.4,411.9 H450.6 M456,409.1 V412.1 M454.4,409.1 H457.6 M454.4,412.1 H457.6 M461.4,409.1 V412.1 M459.8,409.1 H463 M459.8,412.1 H463 M468.6,410 V413 M467,410 H470.2 M467,413 H470.2 M473.5,410.2 V413.2 M471.9,410.2 H475.1 M471.9,413.2 H475.1 M480.7,410.2 V413.2 M479.1,410.2 H482.3 M479.1,413.2 H482.3 M485.6,410.5 V413.5 M484,410.5 H487.2 M484,413.5 H487.2 M492.8,410.5 V413.5 M491.2,410.5 H494.4 M491.2,413.5 H494.4 M498.2,410.9 V413.9 M496.6,410.9 H499.8 M496.6,413.9 H499.8 M505.3,411.3 V414.3 M503.7,411.3 H506.9 M503.7,414.3 H506.9 M510.7,411.3 V414.3 M509.1,411.3 H512.3 M509.1,414.3 H512.3" stroke="#b5141c" stroke-width="1.17" fill="none"/>
<rect x="386.05" y="411.55" width="2.5" height="2.5" fill="#b5141c"/>
<rect x="393.15" y="410.15" width="2.5" height="2.5" fill="#b5141c"/>
<rect x="398.15" y="409.55" width="2.5" height="2.5" fill="#b5141c"/>
<rect x="404.85" y="409.55" width="2.5" height="2.5" fill="#b5141c"/>
<rect x="410.65" y="409.35" width="2.5" height="2.5" fill="#b5141c"/>
<rect x="417.45" y="409.25" width="2.5" height="2.5" fill="#b5141c"/>
<rect x="422.75" y="409.35" width="2.5" height="2.5" fill="#b5141c"/>
<rect x="429.95" y="409.55" width="2.5" height="2.5" fill="#b5141c"/>
<rect x="435.35" y="409.55" width="2.5" height="2.5" fill="#b5141c"/>
<rect x="442.35" y="409.35" width="2.5" height="2.5" fill="#b5141c"/>
<rect x="447.75" y="409.15" width="2.5" height="2.5" fill="#b5141c"/>
<rect x="454.75" y="409.35" width="2.5" height="2.5" fill="#b5141c"/>
<rect x="460.15" y="409.35" width="2.5" height="2.5" fill="#b5141c"/>
<rect x="467.35" y="410.25" width="2.5" height="2.5" fill="#b5141c"/>
<rect x="472.25" y="410.45" width="2.5" height="2.5" fill="#b5141c"/>
<rect x="479.45" y="410.45" width="2.5" height="2.5" fill="#b5141c"/>
<rect x="484.35" y="410.75" width="2.5" height="2.5" fill="#b5141c"/>
<rect x="491.55" y="410.75" width="2.5" height="2.5" fill="#b5141c"/>
<rect x="496.95" y="411.15" width="2.5" height="2.5" fill="#b5141c"/>
<rect x="504.05" y="411.55" width="2.5" height="2.5" fill="#b5141c"/>
<rect x="509.45" y="411.55" width="2.5" height="2.5" fill="#b5141c"/>
<polyline points="387.3,412.8 394.4,410.8 399.4,408.1 406.1,406.7 411.9,406 418.7,404.3 424,403.8 431.2,403.4 436.6,403.2 443.6,402.9 449,402.7 456,402.5 461.4,402.5 468.6,402.5 473.5,402.3 480.7,401.8 485.6,401.8 492.8,401.8 498.2,401.4 505.3,400.8 510.7,398.9" fill="none" stroke="#2a962a" stroke-width="1.3" stroke-linejoin="round"/>
<path d="M394.4,409.8 V411.8 M392.8,409.8 H396 M392.8,411.8 H396 M399.4,406.1 V410.1 M397.8,406.1 H401 M397.8,410.1 H401 M406.1,403.7 V409.7 M404.5,403.7 H407.7 M404.5,409.7 H407.7 M411.9,403 V409 M410.3,403 H413.5 M410.3,409 H413.5 M418.7,401.3 V407.3 M417.1,401.3 H420.3 M417.1,407.3 H420.3 M424,400.8 V406.8 M422.4,400.8 H425.6 M422.4,406.8 H425.6 M431.2,400.4 V406.4 M429.6,400.4 H432.8 M429.6,406.4 H432.8 M436.6,400.2 V406.2 M435,400.2 H438.2 M435,406.2 H438.2 M443.6,399.9 V405.9 M442,399.9 H445.2 M442,405.9 H445.2 M449,399.7 V405.7 M447.4,399.7 H450.6 M447.4,405.7 H450.6 M456,399.5 V405.5 M454.4,399.5 H457.6 M454.4,405.5 H457.6 M461.4,399.5 V405.5 M459.8,399.5 H463 M459.8,405.5 H463 M468.6,399.5 V405.5 M467,399.5 H470.2 M467,405.5 H470.2 M473.5,399.3 V405.3 M471.9,399.3 H475.1 M471.9,405.3 H475.1 M480.7,398.8 V404.8 M479.1,398.8 H482.3 M479.1,404.8 H482.3 M485.6,398.8 V404.8 M484,398.8 H487.2 M484,404.8 H487.2 M492.8,398.8 V404.8 M491.2,398.8 H494.4 M491.2,404.8 H494.4 M498.2,398.4 V404.4 M496.6,398.4 H499.8 M496.6,404.4 H499.8 M505.3,397.8 V403.8 M503.7,397.8 H506.9 M503.7,403.8 H506.9 M510.7,395.9 V401.9 M509.1,395.9 H512.3 M509.1,401.9 H512.3" stroke="#2a962a" stroke-width="1.17" fill="none"/>
<rect x="386.05" y="411.55" width="2.5" height="2.5" fill="#2a962a"/>
<rect x="393.15" y="409.55" width="2.5" height="2.5" fill="#2a962a"/>
<rect x="398.15" y="406.85" width="2.5" height="2.5" fill="#2a962a"/>
<rect x="404.85" y="405.45" width="2.5" height="2.5" fill="#2a962a"/>
<rect x="410.65" y="404.75" width="2.5" height="2.5" fill="#2a962a"/>
<rect x="417.45" y="403.05" width="2.5" height="2.5" fill="#2a962a"/>
<rect x="422.75" y="402.55" width="2.5" height="2.5" fill="#2a962a"/>
<rect x="429.95" y="402.15" width="2.5" height="2.5" fill="#2a962a"/>
<rect x="435.35" y="401.95" width="2.5" height="2.5" fill="#2a962a"/>
<rect x="442.35" y="401.65" width="2.5" height="2.5" fill="#2a962a"/>
<rect x="447.75" y="401.45" width="2.5" height="2.5" fill="#2a962a"/>
<rect x="454.75" y="401.25" width="2.5" height="2.5" fill="#2a962a"/>
<rect x="460.15" y="401.25" width="2.5" height="2.5" fill="#2a962a"/>
<rect x="467.35" y="401.25" width="2.5" height="2.5" fill="#2a962a"/>
<rect x="472.25" y="401.05" width="2.5" height="2.5" fill="#2a962a"/>
<rect x="479.45" y="400.55" width="2.5" height="2.5" fill="#2a962a"/>
<rect x="484.35" y="400.55" width="2.5" height="2.5" fill="#2a962a"/>
<rect x="491.55" y="400.55" width="2.5" height="2.5" fill="#2a962a"/>
<rect x="496.95" y="400.15" width="2.5" height="2.5" fill="#2a962a"/>
<rect x="504.05" y="399.55" width="2.5" height="2.5" fill="#2a962a"/>
<rect x="509.45" y="397.65" width="2.5" height="2.5" fill="#2a962a"/>
<polyline points="387.3,412.8 394.4,410.5 399.4,407.4 406.1,403.4 411.9,402.7 418.7,402.7 424,402.7 431.2,402.7 436.6,402.7 443.6,402.4 449,402 456,402 461.4,402 468.6,402.3 473.5,402 480.7,401.2 485.6,401.6 492.8,401.6 498.2,401.2 505.3,400.3 510.7,398.5" fill="none" stroke="#1a1ad2" stroke-width="1.3" stroke-linejoin="round"/>
<path d="M394.4,409.5 V411.5 M392.8,409.5 H396 M392.8,411.5 H396 M399.4,405.4 V409.4 M397.8,405.4 H401 M397.8,409.4 H401 M406.1,399.4 V407.4 M404.5,399.4 H407.7 M404.5,407.4 H407.7 M411.9,399.3 V406.1 M410.3,399.3 H413.5 M410.3,406.1 H413.5 M418.7,399.3 V406.1 M417.1,399.3 H420.3 M417.1,406.1 H420.3 M424,399.3 V406.1 M422.4,399.3 H425.6 M422.4,406.1 H425.6 M431.2,398.7 V406.7 M429.6,398.7 H432.8 M429.6,406.7 H432.8 M436.6,398.7 V406.7 M435,398.7 H438.2 M435,406.7 H438.2 M443.6,397 V407.8 M442,397 H445.2 M442,407.8 H445.2 M449,396 V408 M447.4,396 H450.6 M447.4,408 H450.6 M456,396 V408 M454.4,396 H457.6 M454.4,408 H457.6 M461.4,396 V408 M459.8,396 H463 M459.8,408 H463 M468.6,396.3 V408.3 M467,396.3 H470.2 M467,408.3 H470.2 M473.5,396 V408 M471.9,396 H475.1 M471.9,408 H475.1 M480.7,394.7 V407.7 M479.1,394.7 H482.3 M479.1,407.7 H482.3 M485.6,395.1 V408.1 M484,395.1 H487.2 M484,408.1 H487.2 M492.8,395.1 V408.1 M491.2,395.1 H494.4 M491.2,408.1 H494.4 M498.2,394.7 V407.7 M496.6,394.7 H499.8 M496.6,407.7 H499.8 M505.3,393.8 V406.8 M503.7,393.8 H506.9 M503.7,406.8 H506.9 M510.7,392 V405 M509.1,392 H512.3 M509.1,405 H512.3" stroke="#1a1ad2" stroke-width="1.17" fill="none"/>
<rect x="386.05" y="411.55" width="2.5" height="2.5" fill="#1a1ad2"/>
<rect x="393.15" y="409.25" width="2.5" height="2.5" fill="#1a1ad2"/>
<rect x="398.15" y="406.15" width="2.5" height="2.5" fill="#1a1ad2"/>
<rect x="404.85" y="402.15" width="2.5" height="2.5" fill="#1a1ad2"/>
<rect x="410.65" y="401.45" width="2.5" height="2.5" fill="#1a1ad2"/>
<rect x="417.45" y="401.45" width="2.5" height="2.5" fill="#1a1ad2"/>
<rect x="422.75" y="401.45" width="2.5" height="2.5" fill="#1a1ad2"/>
<rect x="429.95" y="401.45" width="2.5" height="2.5" fill="#1a1ad2"/>
<rect x="435.35" y="401.45" width="2.5" height="2.5" fill="#1a1ad2"/>
<rect x="442.35" y="401.15" width="2.5" height="2.5" fill="#1a1ad2"/>
<rect x="447.75" y="400.75" width="2.5" height="2.5" fill="#1a1ad2"/>
<rect x="454.75" y="400.75" width="2.5" height="2.5" fill="#1a1ad2"/>
<rect x="460.15" y="400.75" width="2.5" height="2.5" fill="#1a1ad2"/>
<rect x="467.35" y="401.05" width="2.5" height="2.5" fill="#1a1ad2"/>
<rect x="472.25" y="400.75" width="2.5" height="2.5" fill="#1a1ad2"/>
<rect x="479.45" y="399.95" width="2.5" height="2.5" fill="#1a1ad2"/>
<rect x="484.35" y="400.35" width="2.5" height="2.5" fill="#1a1ad2"/>
<rect x="491.55" y="400.35" width="2.5" height="2.5" fill="#1a1ad2"/>
<rect x="496.95" y="399.95" width="2.5" height="2.5" fill="#1a1ad2"/>
<rect x="504.05" y="399.05" width="2.5" height="2.5" fill="#1a1ad2"/>
<rect x="509.45" y="397.25" width="2.5" height="2.5" fill="#1a1ad2"/>
<polyline points="387.3,412.8 394.4,410.8 399.4,407.8 406.1,398.6 411.9,395.3 418.7,388.5 424,383.8 431.2,377.1 436.6,371 443.6,362.3 449,354.9" fill="none" stroke="#111111" stroke-width="1.3" stroke-linejoin="round"/>
<path d="M394.4,410 V411.6 M392.8,410 H396 M392.8,411.6 H396 M399.4,406.6 V409 M397.8,406.6 H401 M397.8,409 H401 M406.1,396.6 V400.6 M404.5,396.6 H407.7 M404.5,400.6 H407.7 M411.9,392.6 V398 M410.3,392.6 H413.5 M410.3,398 H413.5 M418.7,384.5 V392.5 M417.1,384.5 H420.3 M417.1,392.5 H420.3 M424,380.4 V387.2 M422.4,380.4 H425.6 M422.4,387.2 H425.6 M431.2,370.7 V383.5 M429.6,370.7 H432.8 M429.6,383.5 H432.8 M436.6,362 V380 M435,362 H438.2 M435,380 H438.2 M443.6,348.8 V375.8 M442,348.8 H445.2 M442,375.8 H445.2 M449,337.9 V371.9 M447.4,337.9 H450.6 M447.4,371.9 H450.6" stroke="#111111" stroke-width="1.17" fill="none"/>
<rect x="386.05" y="411.55" width="2.5" height="2.5" fill="#111111"/>
<rect x="393.15" y="409.55" width="2.5" height="2.5" fill="#111111"/>
<rect x="398.15" y="406.55" width="2.5" height="2.5" fill="#111111"/>
<rect x="404.85" y="397.35" width="2.5" height="2.5" fill="#111111"/>
<rect x="410.65" y="394.05" width="2.5" height="2.5" fill="#111111"/>
<rect x="417.45" y="387.25" width="2.5" height="2.5" fill="#111111"/>
<rect x="422.75" y="382.55" width="2.5" height="2.5" fill="#111111"/>
<rect x="429.95" y="375.85" width="2.5" height="2.5" fill="#111111"/>
<rect x="435.35" y="369.75" width="2.5" height="2.5" fill="#111111"/>
<rect x="442.35" y="361.05" width="2.5" height="2.5" fill="#111111"/>
<rect x="447.75" y="353.65" width="2.5" height="2.5" fill="#111111"/>
<text x="5.4" y="446" font-size="12.3" text-anchor="middle" font-weight="bold" fill="#000" dominant-baseline="central">G</text>
<text x="98.5" y="443" font-size="7" text-anchor="middle" font-weight="bold" fill="#000" dominant-baseline="central">RXF-2796</text>
<line x1="25.2" y1="456.9" x2="32.7" y2="456.9" stroke="#111111" stroke-width="1"/>
<path d="M27.4,456.9 l1.7,-1.4 l1.7,1.4 l-1.7,1.4 z" fill="#111111"/>
<text x="35.2" y="456.9" font-size="4.5" text-anchor="start" font-weight="normal" fill="#000" dominant-baseline="central" stroke="#000" stroke-width="0.12">Vehicle</text>
<line x1="25.2" y1="466" x2="32.7" y2="466" stroke="#2a962a" stroke-width="1"/>
<path d="M27.4,466 l1.7,-1.4 l1.7,1.4 l-1.7,1.4 z" fill="#2a962a"/>
<text x="35.2" y="466" font-size="4.5" text-anchor="start" font-weight="normal" fill="#000" dominant-baseline="central" stroke="#000" stroke-width="0.12">M8891 100 mg/kg, daily p.o.</text>
<line x1="95.9" y1="456.9" x2="103.4" y2="456.9" stroke="#1a1ad2" stroke-width="1"/>
<path d="M98.1,456.9 l1.7,-1.4 l1.7,1.4 l-1.7,1.4 z" fill="#1a1ad2"/>
<text x="105.9" y="456.9" font-size="4.5" text-anchor="start" font-weight="normal" fill="#000" dominant-baseline="central" stroke="#000" stroke-width="0.12">Axitinib 4 mg/kg, bidaily p.o.</text>
<line x1="95.9" y1="466" x2="103.4" y2="466" stroke="#b5141c" stroke-width="1"/>
<path d="M98.1,466 l1.7,-1.4 l1.7,1.4 l-1.7,1.4 z" fill="#b5141c"/>
<text x="105.9" y="466" font-size="4.5" text-anchor="start" font-weight="normal" fill="#000" dominant-baseline="central" stroke="#000" stroke-width="0.12">Axitinib+M8891</text>
<line x1="32.6" y1="475.5" x2="32.6" y2="563.3" stroke="#333" stroke-width="0.9"/>
<line x1="32.2" y1="562.9" x2="163.8" y2="562.9" stroke="#333" stroke-width="0.9"/>
<line x1="30.4" y1="562.9" x2="32.6" y2="562.9" stroke="#333" stroke-width="0.7"/>
<text x="30" y="562.9" font-size="4.75" text-anchor="end" font-weight="normal" fill="#222" dominant-baseline="central" stroke="#222" stroke-width="0.08">0</text>
<line x1="30.4" y1="541.17" x2="32.6" y2="541.17" stroke="#333" stroke-width="0.7"/>
<text x="30" y="541.17" font-size="4.75" text-anchor="end" font-weight="normal" fill="#222" dominant-baseline="central" stroke="#222" stroke-width="0.08">500</text>
<line x1="30.4" y1="519.45" x2="32.6" y2="519.45" stroke="#333" stroke-width="0.7"/>
<text x="30" y="519.45" font-size="4.75" text-anchor="end" font-weight="normal" fill="#222" dominant-baseline="central" stroke="#222" stroke-width="0.08">1,000</text>
<line x1="30.4" y1="497.73" x2="32.6" y2="497.73" stroke="#333" stroke-width="0.7"/>
<text x="30" y="497.73" font-size="4.75" text-anchor="end" font-weight="normal" fill="#222" dominant-baseline="central" stroke="#222" stroke-width="0.08">1,500</text>
<line x1="30.4" y1="476" x2="32.6" y2="476" stroke="#333" stroke-width="0.7"/>
<text x="30" y="476" font-size="4.75" text-anchor="end" font-weight="normal" fill="#222" dominant-baseline="central" stroke="#222" stroke-width="0.08">2,000</text>
<line x1="32.6" y1="562.9" x2="32.6" y2="565.1" stroke="#333" stroke-width="0.7"/>
<text x="32.6" y="568.5" font-size="4.75" text-anchor="middle" font-weight="normal" fill="#222" dominant-baseline="central" stroke="#222" stroke-width="0.08">0</text>
<line x1="51.27" y1="562.9" x2="51.27" y2="565.1" stroke="#333" stroke-width="0.7"/>
<text x="51.27" y="568.5" font-size="4.75" text-anchor="middle" font-weight="normal" fill="#222" dominant-baseline="central" stroke="#222" stroke-width="0.08">10</text>
<line x1="69.94" y1="562.9" x2="69.94" y2="565.1" stroke="#333" stroke-width="0.7"/>
<text x="69.94" y="568.5" font-size="4.75" text-anchor="middle" font-weight="normal" fill="#222" dominant-baseline="central" stroke="#222" stroke-width="0.08">20</text>
<line x1="88.61" y1="562.9" x2="88.61" y2="565.1" stroke="#333" stroke-width="0.7"/>
<text x="88.61" y="568.5" font-size="4.75" text-anchor="middle" font-weight="normal" fill="#222" dominant-baseline="central" stroke="#222" stroke-width="0.08">30</text>
<line x1="107.29" y1="562.9" x2="107.29" y2="565.1" stroke="#333" stroke-width="0.7"/>
<text x="107.29" y="568.5" font-size="4.75" text-anchor="middle" font-weight="normal" fill="#222" dominant-baseline="central" stroke="#222" stroke-width="0.08">40</text>
<line x1="125.96" y1="562.9" x2="125.96" y2="565.1" stroke="#333" stroke-width="0.7"/>
<text x="125.96" y="568.5" font-size="4.75" text-anchor="middle" font-weight="normal" fill="#222" dominant-baseline="central" stroke="#222" stroke-width="0.08">50</text>
<line x1="144.63" y1="562.9" x2="144.63" y2="565.1" stroke="#333" stroke-width="0.7"/>
<text x="144.63" y="568.5" font-size="4.75" text-anchor="middle" font-weight="normal" fill="#222" dominant-baseline="central" stroke="#222" stroke-width="0.08">60</text>
<line x1="163.3" y1="562.9" x2="163.3" y2="565.1" stroke="#333" stroke-width="0.7"/>
<text x="163.3" y="568.5" font-size="4.75" text-anchor="middle" font-weight="normal" fill="#222" dominant-baseline="central" stroke="#222" stroke-width="0.08">70</text>
<text x="4.4" y="519.45" font-size="5.4" text-anchor="middle" font-weight="bold" fill="#000" dominant-baseline="central" transform="rotate(-90 4.4 519.45)">Tumor volume change (%)</text>
<text x="11.3" y="519.45" font-size="5.4" text-anchor="middle" font-weight="bold" fill="#000" dominant-baseline="central" transform="rotate(-90 11.3 519.45)">mean ± SEM</text>
<text x="97.95" y="578.1" font-size="5.46" text-anchor="middle" font-weight="bold" fill="#000" dominant-baseline="central">Days after treatment start</text>
<line x1="32.6" y1="545.5" x2="163.3" y2="545.5" stroke="#222" stroke-width="0.8" stroke-dasharray="2,1.4"/>
<line x1="32.6" y1="555.6" x2="163.3" y2="555.6" stroke="#222" stroke-width="0.8" stroke-dasharray="2,1.4"/>
<line x1="32.6" y1="558.9" x2="163.3" y2="558.9" stroke="#222" stroke-width="0.8" stroke-dasharray="2,1.4"/>
<polyline points="32.4,558.7 38.7,557.5 44.8,555 51.5,555 58.5,555 64.3,555 71.7,555.5 77.1,555.5 84.5,553 90.6,552.8 97.7,552.4 103.7,551.4 111.2,551.4 116.5,551 123.9,551 129.7,551 137,550.4 142.8,549 149.9,547 155.8,545 162.3,542.3" fill="none" stroke="#b5141c" stroke-width="1.3" stroke-linejoin="round"/>
<path d="M38.7,556.5 V558.5 M37.1,556.5 H40.3 M37.1,558.5 H40.3 M44.8,553.5 V556.5 M43.2,553.5 H46.4 M43.2,556.5 H46.4 M51.5,553.5 V556.5 M49.9,553.5 H53.1 M49.9,556.5 H53.1 M58.5,553.5 V556.5 M56.9,553.5 H60.1 M56.9,556.5 H60.1 M64.3,553.5 V556.5 M62.7,553.5 H65.9 M62.7,556.5 H65.9 M71.7,554 V557 M70.1,554 H73.3 M70.1,557 H73.3 M77.1,554 V557 M75.5,554 H78.7 M75.5,557 H78.7 M84.5,551 V555 M82.9,551 H86.1 M82.9,555 H86.1 M90.6,550.8 V554.8 M89,550.8 H92.2 M89,554.8 H92.2 M97.7,549.4 V555.4 M96.1,549.4 H99.3 M96.1,555.4 H99.3 M103.7,548.4 V554.4 M102.1,548.4 H105.3 M102.1,554.4 H105.3 M111.2,548.4 V554.4 M109.6,548.4 H112.8 M109.6,554.4 H112.8 M116.5,548 V554 M114.9,548 H118.1 M114.9,554 H118.1 M123.9,548 V554 M122.3,548 H125.5 M122.3,554 H125.5 M129.7,548 V554 M128.1,548 H131.3 M128.1,554 H131.3 M137,547.4 V553.4 M135.4,547.4 H138.6 M135.4,553.4 H138.6 M142.8,546 V552 M141.2,546 H144.4 M141.2,552 H144.4 M149.9,543.6 V550.4 M148.3,543.6 H151.5 M148.3,550.4 H151.5 M155.8,539.6 V550.4 M154.2,539.6 H157.4 M154.2,550.4 H157.4 M162.3,534.6 V550 M160.7,534.6 H163.9 M160.7,550 H163.9" stroke="#b5141c" stroke-width="1.17" fill="none"/>
<rect x="31.15" y="557.45" width="2.5" height="2.5" fill="#b5141c"/>
<rect x="37.45" y="556.25" width="2.5" height="2.5" fill="#b5141c"/>
<rect x="43.55" y="553.75" width="2.5" height="2.5" fill="#b5141c"/>
<rect x="50.25" y="553.75" width="2.5" height="2.5" fill="#b5141c"/>
<rect x="57.25" y="553.75" width="2.5" height="2.5" fill="#b5141c"/>
<rect x="63.05" y="553.75" width="2.5" height="2.5" fill="#b5141c"/>
<rect x="70.45" y="554.25" width="2.5" height="2.5" fill="#b5141c"/>
<rect x="75.85" y="554.25" width="2.5" height="2.5" fill="#b5141c"/>
<rect x="83.25" y="551.75" width="2.5" height="2.5" fill="#b5141c"/>
<rect x="89.35" y="551.55" width="2.5" height="2.5" fill="#b5141c"/>
<rect x="96.45" y="551.15" width="2.5" height="2.5" fill="#b5141c"/>
<rect x="102.45" y="550.15" width="2.5" height="2.5" fill="#b5141c"/>
<rect x="109.95" y="550.15" width="2.5" height="2.5" fill="#b5141c"/>
<rect x="115.25" y="549.75" width="2.5" height="2.5" fill="#b5141c"/>
<rect x="122.65" y="549.75" width="2.5" height="2.5" fill="#b5141c"/>
<rect x="128.45" y="549.75" width="2.5" height="2.5" fill="#b5141c"/>
<rect x="135.75" y="549.15" width="2.5" height="2.5" fill="#b5141c"/>
<rect x="141.55" y="547.75" width="2.5" height="2.5" fill="#b5141c"/>
<rect x="148.65" y="545.75" width="2.5" height="2.5" fill="#b5141c"/>
<rect x="154.55" y="543.75" width="2.5" height="2.5" fill="#b5141c"/>
<rect x="161.05" y="541.05" width="2.5" height="2.5" fill="#b5141c"/>
<polyline points="32.4,558.7 38.7,557.8 44.8,555 51.5,552.8 58.5,551.7 64.3,547.7 71.7,545.3 77.1,543 84.5,538.3 90.6,536.2 97.7,535.6 103.7,534.2 111.2,534.2 116.5,533.5 123.9,530.2 129.7,526.8 137,523.5 142.8,520.1 149.9,516 155.8,510.7 162.3,505.3" fill="none" stroke="#2a962a" stroke-width="1.3" stroke-linejoin="round"/>
<path d="M44.8,554 V556 M43.2,554 H46.4 M43.2,556 H46.4 M51.5,551.3 V554.3 M49.9,551.3 H53.1 M49.9,554.3 H53.1 M58.5,549.7 V553.7 M56.9,549.7 H60.1 M56.9,553.7 H60.1 M64.3,545.2 V550.2 M62.7,545.2 H65.9 M62.7,550.2 H65.9 M71.7,542.3 V548.3 M70.1,542.3 H73.3 M70.1,548.3 H73.3 M77.1,539.5 V546.5 M75.5,539.5 H78.7 M75.5,546.5 H78.7 M84.5,534.3 V542.3 M82.9,534.3 H86.1 M82.9,542.3 H86.1 M90.6,532.2 V540.2 M89,532.2 H92.2 M89,540.2 H92.2 M97.7,529.2 V542 M96.1,529.2 H99.3 M96.1,542 H99.3 M103.7,526.2 V542.2 M102.1,526.2 H105.3 M102.1,542.2 H105.3 M111.2,525.5 V542.9 M109.6,525.5 H112.8 M109.6,542.9 H112.8 M116.5,523.5 V543.5 M114.9,523.5 H118.1 M114.9,543.5 H118.1 M123.9,518.4 V542 M122.3,518.4 H125.5 M122.3,542 H125.5 M129.7,514 V539.6 M128.1,514 H131.3 M128.1,539.6 H131.3 M137,509 V538 M135.4,509 H138.6 M135.4,538 H138.6 M142.8,504.6 V535.6 M141.2,504.6 H144.4 M141.2,535.6 H144.4 M149.9,499.2 V532.8 M148.3,499.2 H151.5 M148.3,532.8 H151.5 M155.8,492.2 V529.2 M154.2,492.2 H157.4 M154.2,529.2 H157.4 M162.3,486.3 V524.3 M160.7,486.3 H163.9 M160.7,524.3 H163.9" stroke="#2a962a" stroke-width="1.17" fill="none"/>
<rect x="31.15" y="557.45" width="2.5" height="2.5" fill="#2a962a"/>
<rect x="37.45" y="556.55" width="2.5" height="2.5" fill="#2a962a"/>
<rect x="43.55" y="553.75" width="2.5" height="2.5" fill="#2a962a"/>
<rect x="50.25" y="551.55" width="2.5" height="2.5" fill="#2a962a"/>
<rect x="57.25" y="550.45" width="2.5" height="2.5" fill="#2a962a"/>
<rect x="63.05" y="546.45" width="2.5" height="2.5" fill="#2a962a"/>
<rect x="70.45" y="544.05" width="2.5" height="2.5" fill="#2a962a"/>
<rect x="75.85" y="541.75" width="2.5" height="2.5" fill="#2a962a"/>
<rect x="83.25" y="537.05" width="2.5" height="2.5" fill="#2a962a"/>
<rect x="89.35" y="534.95" width="2.5" height="2.5" fill="#2a962a"/>
<rect x="96.45" y="534.35" width="2.5" height="2.5" fill="#2a962a"/>
<rect x="102.45" y="532.95" width="2.5" height="2.5" fill="#2a962a"/>
<rect x="109.95" y="532.95" width="2.5" height="2.5" fill="#2a962a"/>
<rect x="115.25" y="532.25" width="2.5" height="2.5" fill="#2a962a"/>
<rect x="122.65" y="528.95" width="2.5" height="2.5" fill="#2a962a"/>
<rect x="128.45" y="525.55" width="2.5" height="2.5" fill="#2a962a"/>
<rect x="135.75" y="522.25" width="2.5" height="2.5" fill="#2a962a"/>
<rect x="141.55" y="518.85" width="2.5" height="2.5" fill="#2a962a"/>
<rect x="148.65" y="514.75" width="2.5" height="2.5" fill="#2a962a"/>
<rect x="154.55" y="509.45" width="2.5" height="2.5" fill="#2a962a"/>
<rect x="161.05" y="504.05" width="2.5" height="2.5" fill="#2a962a"/>
<polyline points="32.4,558.7 38.7,557.8 44.8,555 51.5,555 58.5,553 64.3,552.4 71.7,549.3 77.1,547.7 84.5,544.3 90.6,541 97.7,540.3 103.7,538.3 111.2,538.3 116.5,537.6 123.9,537.6 129.7,537.2 137,536.6 142.8,533.5 149.9,528.2 155.8,520.8 162.3,512.7" fill="none" stroke="#1a1ad2" stroke-width="1.3" stroke-linejoin="round"/>
<path d="M44.8,554 V556 M43.2,554 H46.4 M43.2,556 H46.4 M51.5,553.5 V556.5 M49.9,553.5 H53.1 M49.9,556.5 H53.1 M58.5,551.5 V554.5 M56.9,551.5 H60.1 M56.9,554.5 H60.1 M64.3,550.4 V554.4 M62.7,550.4 H65.9 M62.7,554.4 H65.9 M71.7,547.3 V551.3 M70.1,547.3 H73.3 M70.1,551.3 H73.3 M77.1,545.2 V550.2 M75.5,545.2 H78.7 M75.5,550.2 H78.7 M84.5,541.8 V546.8 M82.9,541.8 H86.1 M82.9,546.8 H86.1 M90.6,538 V544 M89,538 H92.2 M89,544 H92.2 M97.7,537.3 V543.3 M96.1,537.3 H99.3 M96.1,543.3 H99.3 M103.7,535.3 V541.3 M102.1,535.3 H105.3 M102.1,541.3 H105.3 M111.2,535.3 V541.3 M109.6,535.3 H112.8 M109.6,541.3 H112.8 M116.5,534.1 V541.1 M114.9,534.1 H118.1 M114.9,541.1 H118.1 M123.9,532.9 V542.3 M122.3,532.9 H125.5 M122.3,542.3 H125.5 M129.7,532.2 V542.2 M128.1,532.2 H131.3 M128.1,542.2 H131.3 M137,529.2 V544 M135.4,529.2 H138.6 M135.4,544 H138.6 M142.8,524.8 V542.2 M141.2,524.8 H144.4 M141.2,542.2 H144.4 M149.9,518.2 V538.2 M148.3,518.2 H151.5 M148.3,538.2 H151.5 M155.8,507 V534.6 M154.2,507 H157.4 M154.2,534.6 H157.4 M162.3,499.2 V526.2 M160.7,499.2 H163.9 M160.7,526.2 H163.9" stroke="#1a1ad2" stroke-width="1.17" fill="none"/>
<rect x="31.15" y="557.45" width="2.5" height="2.5" fill="#1a1ad2"/>
<rect x="37.45" y="556.55" width="2.5" height="2.5" fill="#1a1ad2"/>
<rect x="43.55" y="553.75" width="2.5" height="2.5" fill="#1a1ad2"/>
<rect x="50.25" y="553.75" width="2.5" height="2.5" fill="#1a1ad2"/>
<rect x="57.25" y="551.75" width="2.5" height="2.5" fill="#1a1ad2"/>
<rect x="63.05" y="551.15" width="2.5" height="2.5" fill="#1a1ad2"/>
<rect x="70.45" y="548.05" width="2.5" height="2.5" fill="#1a1ad2"/>
<rect x="75.85" y="546.45" width="2.5" height="2.5" fill="#1a1ad2"/>
<rect x="83.25" y="543.05" width="2.5" height="2.5" fill="#1a1ad2"/>
<rect x="89.35" y="539.75" width="2.5" height="2.5" fill="#1a1ad2"/>
<rect x="96.45" y="539.05" width="2.5" height="2.5" fill="#1a1ad2"/>
<rect x="102.45" y="537.05" width="2.5" height="2.5" fill="#1a1ad2"/>
<rect x="109.95" y="537.05" width="2.5" height="2.5" fill="#1a1ad2"/>
<rect x="115.25" y="536.35" width="2.5" height="2.5" fill="#1a1ad2"/>
<rect x="122.65" y="536.35" width="2.5" height="2.5" fill="#1a1ad2"/>
<rect x="128.45" y="535.95" width="2.5" height="2.5" fill="#1a1ad2"/>
<rect x="135.75" y="535.35" width="2.5" height="2.5" fill="#1a1ad2"/>
<rect x="141.55" y="532.25" width="2.5" height="2.5" fill="#1a1ad2"/>
<rect x="148.65" y="526.95" width="2.5" height="2.5" fill="#1a1ad2"/>
<rect x="154.55" y="519.55" width="2.5" height="2.5" fill="#1a1ad2"/>
<rect x="161.05" y="511.45" width="2.5" height="2.5" fill="#1a1ad2"/>
<polyline points="32.4,558.7 38.7,557.6 44.8,554.5 51.5,548.8 58.5,547 64.3,541 71.7,532.2 77.1,522.8 84.5,516 90.6,506.6 97.7,505.7 103.7,501.9 111.2,495.9" fill="none" stroke="#111111" stroke-width="1.3" stroke-linejoin="round"/>
<path d="M38.7,556.8 V558.4 M37.1,556.8 H40.3 M37.1,558.4 H40.3 M44.8,553 V556 M43.2,553 H46.4 M43.2,556 H46.4 M51.5,545.8 V551.8 M49.9,545.8 H53.1 M49.9,551.8 H53.1 M58.5,543.3 V550.7 M56.9,543.3 H60.1 M56.9,550.7 H60.1 M64.3,535.6 V546.4 M62.7,535.6 H65.9 M62.7,546.4 H65.9 M71.7,523.8 V540.6 M70.1,523.8 H73.3 M70.1,540.6 H73.3 M77.1,512 V533.6 M75.5,512 H78.7 M75.5,533.6 H78.7 M84.5,504.2 V527.8 M82.9,504.2 H86.1 M82.9,527.8 H86.1 M90.6,492.6 V520.6 M89,492.6 H92.2 M89,520.6 H92.2 M97.7,492.7 V518.7 M96.1,492.7 H99.3 M96.1,518.7 H99.3 M103.7,489.1 V514.7 M102.1,489.1 H105.3 M102.1,514.7 H105.3 M111.2,484.5 V507.3 M109.6,484.5 H112.8 M109.6,507.3 H112.8" stroke="#111111" stroke-width="1.17" fill="none"/>
<rect x="31.15" y="557.45" width="2.5" height="2.5" fill="#111111"/>
<rect x="37.45" y="556.35" width="2.5" height="2.5" fill="#111111"/>
<rect x="43.55" y="553.25" width="2.5" height="2.5" fill="#111111"/>
<rect x="50.25" y="547.55" width="2.5" height="2.5" fill="#111111"/>
<rect x="57.25" y="545.75" width="2.5" height="2.5" fill="#111111"/>
<rect x="63.05" y="539.75" width="2.5" height="2.5" fill="#111111"/>
<rect x="70.45" y="530.95" width="2.5" height="2.5" fill="#111111"/>
<rect x="75.85" y="521.55" width="2.5" height="2.5" fill="#111111"/>
<rect x="83.25" y="514.75" width="2.5" height="2.5" fill="#111111"/>
<rect x="89.35" y="505.35" width="2.5" height="2.5" fill="#111111"/>
<rect x="96.45" y="504.45" width="2.5" height="2.5" fill="#111111"/>
<rect x="102.45" y="500.65" width="2.5" height="2.5" fill="#111111"/>
<rect x="109.95" y="494.65" width="2.5" height="2.5" fill="#111111"/>
<text x="185.2" y="445.7" font-size="12.3" text-anchor="middle" font-weight="bold" fill="#000" dominant-baseline="central">H</text>
<text x="273.2" y="442.2" font-size="6.85" text-anchor="middle" font-weight="bold" fill="#000" dominant-baseline="central">RXF-2717</text>
<line x1="207" y1="457.9" x2="214.5" y2="457.9" stroke="#111111" stroke-width="1"/>
<path d="M209.2,457.9 l1.7,-1.4 l1.7,1.4 l-1.7,1.4 z" fill="#111111"/>
<text x="217" y="457.9" font-size="4.3" text-anchor="start" font-weight="normal" fill="#000" dominant-baseline="central" stroke="#000" stroke-width="0.12">Vehicle</text>
<line x1="207" y1="466" x2="214.5" y2="466" stroke="#2a962a" stroke-width="1"/>
<path d="M209.2,466 l1.7,-1.4 l1.7,1.4 l-1.7,1.4 z" fill="#2a962a"/>
<text x="217" y="466" font-size="4.3" text-anchor="start" font-weight="normal" fill="#000" dominant-baseline="central" stroke="#000" stroke-width="0.12">M8891 100 mg/kg, daily p.o.</text>
<line x1="272.6" y1="457.9" x2="280.1" y2="457.9" stroke="#1a1ad2" stroke-width="1"/>
<path d="M274.8,457.9 l1.7,-1.4 l1.7,1.4 l-1.7,1.4 z" fill="#1a1ad2"/>
<text x="282.6" y="457.9" font-size="4.3" text-anchor="start" font-weight="normal" fill="#000" dominant-baseline="central" stroke="#000" stroke-width="0.12">Cabozantinib 10 mg/kg, daily p.o.</text>
<line x1="272.6" y1="466" x2="280.1" y2="466" stroke="#b5141c" stroke-width="1"/>
<path d="M274.8,466 l1.7,-1.4 l1.7,1.4 l-1.7,1.4 z" fill="#b5141c"/>
<text x="282.6" y="466" font-size="4.3" text-anchor="start" font-weight="normal" fill="#000" dominant-baseline="central" stroke="#000" stroke-width="0.12">Cabozantinib+M8891</text>
<line x1="209.8" y1="475.8" x2="209.8" y2="563.4" stroke="#333" stroke-width="0.9"/>
<line x1="209.4" y1="563" x2="340.1" y2="563" stroke="#333" stroke-width="0.9"/>
<line x1="207.6" y1="560" x2="209.8" y2="560" stroke="#333" stroke-width="0.7"/>
<text x="207.2" y="560" font-size="4.5" text-anchor="end" font-weight="normal" fill="#222" dominant-baseline="central" stroke="#222" stroke-width="0.08">0</text>
<line x1="207.6" y1="546.05" x2="209.8" y2="546.05" stroke="#333" stroke-width="0.7"/>
<text x="207.2" y="546.05" font-size="4.5" text-anchor="end" font-weight="normal" fill="#222" dominant-baseline="central" stroke="#222" stroke-width="0.08">500</text>
<line x1="207.6" y1="532.1" x2="209.8" y2="532.1" stroke="#333" stroke-width="0.7"/>
<text x="207.2" y="532.1" font-size="4.5" text-anchor="end" font-weight="normal" fill="#222" dominant-baseline="central" stroke="#222" stroke-width="0.08">1,000</text>
<line x1="207.6" y1="518.15" x2="209.8" y2="518.15" stroke="#333" stroke-width="0.7"/>
<text x="207.2" y="518.15" font-size="4.5" text-anchor="end" font-weight="normal" fill="#222" dominant-baseline="central" stroke="#222" stroke-width="0.08">1,500</text>
<line x1="207.6" y1="504.2" x2="209.8" y2="504.2" stroke="#333" stroke-width="0.7"/>
<text x="207.2" y="504.2" font-size="4.5" text-anchor="end" font-weight="normal" fill="#222" dominant-baseline="central" stroke="#222" stroke-width="0.08">2,000</text>
<line x1="207.6" y1="490.25" x2="209.8" y2="490.25" stroke="#333" stroke-width="0.7"/>
<text x="207.2" y="490.25" font-size="4.5" text-anchor="end" font-weight="normal" fill="#222" dominant-baseline="central" stroke="#222" stroke-width="0.08">2,500</text>
<line x1="207.6" y1="476.3" x2="209.8" y2="476.3" stroke="#333" stroke-width="0.7"/>
<text x="207.2" y="476.3" font-size="4.5" text-anchor="end" font-weight="normal" fill="#222" dominant-baseline="central" stroke="#222" stroke-width="0.08">3,000</text>
<line x1="209.8" y1="563" x2="209.8" y2="565.2" stroke="#333" stroke-width="0.7"/>
<text x="209.8" y="568.6" font-size="4.5" text-anchor="middle" font-weight="normal" fill="#222" dominant-baseline="central" stroke="#222" stroke-width="0.08">0</text>
<line x1="228.34" y1="563" x2="228.34" y2="565.2" stroke="#333" stroke-width="0.7"/>
<text x="228.34" y="568.6" font-size="4.5" text-anchor="middle" font-weight="normal" fill="#222" dominant-baseline="central" stroke="#222" stroke-width="0.08">10</text>
<line x1="246.89" y1="563" x2="246.89" y2="565.2" stroke="#333" stroke-width="0.7"/>
<text x="246.89" y="568.6" font-size="4.5" text-anchor="middle" font-weight="normal" fill="#222" dominant-baseline="central" stroke="#222" stroke-width="0.08">20</text>
<line x1="265.43" y1="563" x2="265.43" y2="565.2" stroke="#333" stroke-width="0.7"/>
<text x="265.43" y="568.6" font-size="4.5" text-anchor="middle" font-weight="normal" fill="#222" dominant-baseline="central" stroke="#222" stroke-width="0.08">30</text>
<line x1="283.97" y1="563" x2="283.97" y2="565.2" stroke="#333" stroke-width="0.7"/>
<text x="283.97" y="568.6" font-size="4.5" text-anchor="middle" font-weight="normal" fill="#222" dominant-baseline="central" stroke="#222" stroke-width="0.08">40</text>
<line x1="302.51" y1="563" x2="302.51" y2="565.2" stroke="#333" stroke-width="0.7"/>
<text x="302.51" y="568.6" font-size="4.5" text-anchor="middle" font-weight="normal" fill="#222" dominant-baseline="central" stroke="#222" stroke-width="0.08">50</text>
<line x1="321.06" y1="563" x2="321.06" y2="565.2" stroke="#333" stroke-width="0.7"/>
<text x="321.06" y="568.6" font-size="4.5" text-anchor="middle" font-weight="normal" fill="#222" dominant-baseline="central" stroke="#222" stroke-width="0.08">60</text>
<line x1="339.6" y1="563" x2="339.6" y2="565.2" stroke="#333" stroke-width="0.7"/>
<text x="339.6" y="568.6" font-size="4.5" text-anchor="middle" font-weight="normal" fill="#222" dominant-baseline="central" stroke="#222" stroke-width="0.08">70</text>
<text x="182.9" y="518.15" font-size="5.4" text-anchor="middle" font-weight="bold" fill="#000" dominant-baseline="central" transform="rotate(-90 182.9 518.15)">Tumor volume change (%)</text>
<text x="190.4" y="518.15" font-size="5.4" text-anchor="middle" font-weight="bold" fill="#000" dominant-baseline="central" transform="rotate(-90 190.4 518.15)">mean ± SEM</text>
<text x="274.7" y="578.1" font-size="5.23" text-anchor="middle" font-weight="bold" fill="#000" dominant-baseline="central">Days after treatment start</text>
<line x1="209.8" y1="548.5" x2="339.6" y2="548.5" stroke="#222" stroke-width="0.8" stroke-dasharray="2,1.4"/>
<line x1="209.8" y1="557.9" x2="339.6" y2="557.9" stroke="#222" stroke-width="0.8" stroke-dasharray="2,1.4"/>
<polyline points="209.85,559.93 215.77,559.66 222.5,559.66 229.77,559.66 235.96,559.66 243.23,559.66 248.62,559.66 256.16,559.66 261.54,559.66 269.08,559.66 275.54,559.66 281.74,559.66 288.47,559.66 295.2,559.66 301.93,559.66 308.66,559.12 315.39,557.78 322.12,556.43 328.86,559.66 334.78,559.66 339.63,559.66" fill="none" stroke="#b5141c" stroke-width="1.3" stroke-linejoin="round"/>
<path d="M215.77,558.31 V561.01 M214.17,558.31 H217.37 M214.17,561.01 H217.37 M222.5,557.51 V561.81 M220.9,557.51 H224.1 M220.9,561.81 H224.1 M229.77,556.43 V562.89 M228.17,556.43 H231.37 M228.17,562.89 H231.37 M235.96,555.62 V563.7 M234.36,555.62 H237.56 M234.36,563.7 H237.56 M243.23,555.62 V563.7 M241.63,555.62 H244.83 M241.63,563.7 H244.83 M248.62,555.62 V563.7 M247.02,555.62 H250.22 M247.02,563.7 H250.22 M256.16,555.62 V563.7 M254.56,555.62 H257.76 M254.56,563.7 H257.76 M261.54,555.62 V563.7 M259.94,555.62 H263.14 M259.94,563.7 H263.14 M269.08,555.62 V563.7 M267.48,555.62 H270.68 M267.48,563.7 H270.68 M275.54,555.62 V563.7 M273.94,555.62 H277.14 M273.94,563.7 H277.14 M281.74,555.62 V563.7 M280.14,555.62 H283.34 M280.14,563.7 H283.34 M288.47,555.62 V563.7 M286.87,555.62 H290.07 M286.87,563.7 H290.07 M295.2,555.62 V563.7 M293.6,555.62 H296.8 M293.6,563.7 H296.8 M301.93,555.62 V563.7 M300.33,555.62 H303.53 M300.33,563.7 H303.53 M308.66,555.08 V563.16 M307.06,555.08 H310.26 M307.06,563.16 H310.26 M315.39,553.74 V561.81 M313.79,553.74 H316.99 M313.79,561.81 H316.99 M322.12,552.39 V560.47 M320.52,552.39 H323.72 M320.52,560.47 H323.72 M328.86,555.62 V563.7 M327.26,555.62 H330.46 M327.26,563.7 H330.46 M334.78,555.62 V563.7 M333.18,555.62 H336.38 M333.18,563.7 H336.38 M339.63,555.62 V563.7 M338.03,555.62 H341.23 M338.03,563.7 H341.23" stroke="#b5141c" stroke-width="1.17" fill="none"/>
<rect x="208.6" y="558.68" width="2.5" height="2.5" fill="#b5141c"/>
<rect x="214.52" y="558.41" width="2.5" height="2.5" fill="#b5141c"/>
<rect x="221.25" y="558.41" width="2.5" height="2.5" fill="#b5141c"/>
<rect x="228.52" y="558.41" width="2.5" height="2.5" fill="#b5141c"/>
<rect x="234.71" y="558.41" width="2.5" height="2.5" fill="#b5141c"/>
<rect x="241.98" y="558.41" width="2.5" height="2.5" fill="#b5141c"/>
<rect x="247.37" y="558.41" width="2.5" height="2.5" fill="#b5141c"/>
<rect x="254.91" y="558.41" width="2.5" height="2.5" fill="#b5141c"/>
<rect x="260.29" y="558.41" width="2.5" height="2.5" fill="#b5141c"/>
<rect x="267.83" y="558.41" width="2.5" height="2.5" fill="#b5141c"/>
<rect x="274.29" y="558.41" width="2.5" height="2.5" fill="#b5141c"/>
<rect x="280.49" y="558.41" width="2.5" height="2.5" fill="#b5141c"/>
<rect x="287.22" y="558.41" width="2.5" height="2.5" fill="#b5141c"/>
<rect x="293.95" y="558.41" width="2.5" height="2.5" fill="#b5141c"/>
<rect x="300.68" y="558.41" width="2.5" height="2.5" fill="#b5141c"/>
<rect x="307.41" y="557.87" width="2.5" height="2.5" fill="#b5141c"/>
<rect x="314.14" y="556.53" width="2.5" height="2.5" fill="#b5141c"/>
<rect x="320.87" y="555.18" width="2.5" height="2.5" fill="#b5141c"/>
<rect x="327.61" y="558.41" width="2.5" height="2.5" fill="#b5141c"/>
<rect x="333.53" y="558.41" width="2.5" height="2.5" fill="#b5141c"/>
<rect x="338.38" y="558.41" width="2.5" height="2.5" fill="#b5141c"/>
<polyline points="209.85,559.93 215.77,557.51 222.5,555.08 229.77,553.2 235.96,552.39 243.23,551.58 248.62,550.78 256.16,549.7 261.54,549.16 269.08,547.81 275.54,547.28 281.74,547.01 288.47,547.81 295.2,548.89 301.93,548.89 308.66,548.89 315.39,548.89 322.12,548.89 328.86,548.89 334.78,548.35 339.63,546.2" fill="none" stroke="#2a962a" stroke-width="1.3" stroke-linejoin="round"/>
<path d="M215.77,556.7 V558.31 M214.17,556.7 H217.37 M214.17,558.31 H217.37 M222.5,553.74 V556.43 M220.9,553.74 H224.1 M220.9,556.43 H224.1 M229.77,550.51 V555.89 M228.17,550.51 H231.37 M228.17,555.89 H231.37 M235.96,549.16 V555.62 M234.36,549.16 H237.56 M234.36,555.62 H237.56 M243.23,547.54 V555.62 M241.63,547.54 H244.83 M241.63,555.62 H244.83 M248.62,546.74 V554.81 M247.02,546.74 H250.22 M247.02,554.81 H250.22 M256.16,544.31 V555.08 M254.56,544.31 H257.76 M254.56,555.08 H257.76 M261.54,543.77 V554.54 M259.94,543.77 H263.14 M259.94,554.54 H263.14 M269.08,541.08 V554.54 M267.48,541.08 H270.68 M267.48,554.54 H270.68 M275.54,540.54 V554.01 M273.94,540.54 H277.14 M273.94,554.01 H277.14 M281.74,540.27 V553.74 M280.14,540.27 H283.34 M280.14,553.74 H283.34 M288.47,541.08 V554.54 M286.87,541.08 H290.07 M286.87,554.54 H290.07 M295.2,543.51 V554.28 M293.6,543.51 H296.8 M293.6,554.28 H296.8 M301.93,545.66 V552.12 M300.33,545.66 H303.53 M300.33,552.12 H303.53 M308.66,545.66 V552.12 M307.06,545.66 H310.26 M307.06,552.12 H310.26 M315.39,545.66 V552.12 M313.79,545.66 H316.99 M313.79,552.12 H316.99 M322.12,545.66 V552.12 M320.52,545.66 H323.72 M320.52,552.12 H323.72 M328.86,545.66 V552.12 M327.26,545.66 H330.46 M327.26,552.12 H330.46 M334.78,545.12 V551.58 M333.18,545.12 H336.38 M333.18,551.58 H336.38 M339.63,544.04 V548.35 M338.03,544.04 H341.23 M338.03,548.35 H341.23" stroke="#2a962a" stroke-width="1.17" fill="none"/>
<rect x="208.6" y="558.68" width="2.5" height="2.5" fill="#2a962a"/>
<rect x="214.52" y="556.26" width="2.5" height="2.5" fill="#2a962a"/>
<rect x="221.25" y="553.83" width="2.5" height="2.5" fill="#2a962a"/>
<rect x="228.52" y="551.95" width="2.5" height="2.5" fill="#2a962a"/>
<rect x="234.71" y="551.14" width="2.5" height="2.5" fill="#2a962a"/>
<rect x="241.98" y="550.33" width="2.5" height="2.5" fill="#2a962a"/>
<rect x="247.37" y="549.53" width="2.5" height="2.5" fill="#2a962a"/>
<rect x="254.91" y="548.45" width="2.5" height="2.5" fill="#2a962a"/>
<rect x="260.29" y="547.91" width="2.5" height="2.5" fill="#2a962a"/>
<rect x="267.83" y="546.56" width="2.5" height="2.5" fill="#2a962a"/>
<rect x="274.29" y="546.03" width="2.5" height="2.5" fill="#2a962a"/>
<rect x="280.49" y="545.76" width="2.5" height="2.5" fill="#2a962a"/>
<rect x="287.22" y="546.56" width="2.5" height="2.5" fill="#2a962a"/>
<rect x="293.95" y="547.64" width="2.5" height="2.5" fill="#2a962a"/>
<rect x="300.68" y="547.64" width="2.5" height="2.5" fill="#2a962a"/>
<rect x="307.41" y="547.64" width="2.5" height="2.5" fill="#2a962a"/>
<rect x="314.14" y="547.64" width="2.5" height="2.5" fill="#2a962a"/>
<rect x="320.87" y="547.64" width="2.5" height="2.5" fill="#2a962a"/>
<rect x="327.61" y="547.64" width="2.5" height="2.5" fill="#2a962a"/>
<rect x="333.53" y="547.1" width="2.5" height="2.5" fill="#2a962a"/>
<rect x="338.38" y="544.95" width="2.5" height="2.5" fill="#2a962a"/>
<polyline points="209.85,559.93 215.77,558.58 222.5,557.24 229.77,555.89 235.96,555.35 243.23,555.08 248.62,554.81 256.16,554.28 261.54,553.74 269.08,552.39 275.54,551.31 281.74,550.51 288.47,549.97 295.2,549.7 301.93,549.7 308.66,549.7 315.39,549.7 322.12,549.7 328.86,549.97 334.78,550.51 339.63,552.39" fill="none" stroke="#1a1ad2" stroke-width="1.3" stroke-linejoin="round"/>
<path d="M215.77,557.78 V559.39 M214.17,557.78 H217.37 M214.17,559.39 H217.37 M222.5,555.89 V558.58 M220.9,555.89 H224.1 M220.9,558.58 H224.1 M229.77,553.74 V558.05 M228.17,553.74 H231.37 M228.17,558.05 H231.37 M235.96,552.66 V558.05 M234.36,552.66 H237.56 M234.36,558.05 H237.56 M243.23,551.85 V558.31 M241.63,551.85 H244.83 M241.63,558.31 H244.83 M248.62,551.58 V558.05 M247.02,551.58 H250.22 M247.02,558.05 H250.22 M256.16,551.04 V557.51 M254.56,551.04 H257.76 M254.56,557.51 H257.76 M261.54,550.51 V556.97 M259.94,550.51 H263.14 M259.94,556.97 H263.14 M269.08,548.35 V556.43 M267.48,548.35 H270.68 M267.48,556.43 H270.68 M275.54,547.28 V555.35 M273.94,547.28 H277.14 M273.94,555.35 H277.14 M281.74,546.47 V554.54 M280.14,546.47 H283.34 M280.14,554.54 H283.34 M288.47,545.93 V554.01 M286.87,545.93 H290.07 M286.87,554.01 H290.07 M295.2,545.66 V553.74 M293.6,545.66 H296.8 M293.6,553.74 H296.8 M301.93,545.66 V553.74 M300.33,545.66 H303.53 M300.33,553.74 H303.53 M308.66,545.66 V553.74 M307.06,545.66 H310.26 M307.06,553.74 H310.26 M315.39,546.47 V552.93 M313.79,546.47 H316.99 M313.79,552.93 H316.99 M322.12,546.47 V552.93 M320.52,546.47 H323.72 M320.52,552.93 H323.72 M328.86,546.74 V553.2 M327.26,546.74 H330.46 M327.26,553.2 H330.46 M334.78,547.28 V553.74 M333.18,547.28 H336.38 M333.18,553.74 H336.38 M339.63,550.24 V554.54 M338.03,550.24 H341.23 M338.03,554.54 H341.23" stroke="#1a1ad2" stroke-width="1.17" fill="none"/>
<rect x="208.6" y="558.68" width="2.5" height="2.5" fill="#1a1ad2"/>
<rect x="214.52" y="557.33" width="2.5" height="2.5" fill="#1a1ad2"/>
<rect x="221.25" y="555.99" width="2.5" height="2.5" fill="#1a1ad2"/>
<rect x="228.52" y="554.64" width="2.5" height="2.5" fill="#1a1ad2"/>
<rect x="234.71" y="554.1" width="2.5" height="2.5" fill="#1a1ad2"/>
<rect x="241.98" y="553.83" width="2.5" height="2.5" fill="#1a1ad2"/>
<rect x="247.37" y="553.56" width="2.5" height="2.5" fill="#1a1ad2"/>
<rect x="254.91" y="553.03" width="2.5" height="2.5" fill="#1a1ad2"/>
<rect x="260.29" y="552.49" width="2.5" height="2.5" fill="#1a1ad2"/>
<rect x="267.83" y="551.14" width="2.5" height="2.5" fill="#1a1ad2"/>
<rect x="274.29" y="550.06" width="2.5" height="2.5" fill="#1a1ad2"/>
<rect x="280.49" y="549.26" width="2.5" height="2.5" fill="#1a1ad2"/>
<rect x="287.22" y="548.72" width="2.5" height="2.5" fill="#1a1ad2"/>
<rect x="293.95" y="548.45" width="2.5" height="2.5" fill="#1a1ad2"/>
<rect x="300.68" y="548.45" width="2.5" height="2.5" fill="#1a1ad2"/>
<rect x="307.41" y="548.45" width="2.5" height="2.5" fill="#1a1ad2"/>
<rect x="314.14" y="548.45" width="2.5" height="2.5" fill="#1a1ad2"/>
<rect x="320.87" y="548.45" width="2.5" height="2.5" fill="#1a1ad2"/>
<rect x="327.61" y="548.72" width="2.5" height="2.5" fill="#1a1ad2"/>
<rect x="333.53" y="549.26" width="2.5" height="2.5" fill="#1a1ad2"/>
<rect x="338.38" y="551.14" width="2.5" height="2.5" fill="#1a1ad2"/>
<polyline points="209.85,559.93 215.77,556.7 222.5,552.93 229.77,545.39 235.96,540.54 243.23,534.62 248.62,529.77 256.16,521.7 261.54,515.77 269.08,506.35 275.54,498.27" fill="none" stroke="#111111" stroke-width="1.3" stroke-linejoin="round"/>
<path d="M215.77,555.89 V557.51 M214.17,555.89 H217.37 M214.17,557.51 H217.37 M222.5,551.58 V554.28 M220.9,551.58 H224.1 M220.9,554.28 H224.1 M229.77,543.24 V547.54 M228.17,543.24 H231.37 M228.17,547.54 H231.37 M235.96,538.39 V542.7 M234.36,538.39 H237.56 M234.36,542.7 H237.56 M243.23,531.93 V537.31 M241.63,531.93 H244.83 M241.63,537.31 H244.83 M248.62,525.74 V533.81 M247.02,525.74 H250.22 M247.02,533.81 H250.22 M256.16,515.77 V527.62 M254.56,515.77 H257.76 M254.56,527.62 H257.76 M261.54,506.35 V525.2 M259.94,506.35 H263.14 M259.94,525.2 H263.14 M269.08,492.89 V519.81 M267.48,492.89 H270.68 M267.48,519.81 H270.68 M275.54,480.77 V515.77 M273.94,480.77 H277.14 M273.94,515.77 H277.14" stroke="#111111" stroke-width="1.17" fill="none"/>
<rect x="208.6" y="558.68" width="2.5" height="2.5" fill="#111111"/>
<rect x="214.52" y="555.45" width="2.5" height="2.5" fill="#111111"/>
<rect x="221.25" y="551.68" width="2.5" height="2.5" fill="#111111"/>
<rect x="228.52" y="544.14" width="2.5" height="2.5" fill="#111111"/>
<rect x="234.71" y="539.29" width="2.5" height="2.5" fill="#111111"/>
<rect x="241.98" y="533.37" width="2.5" height="2.5" fill="#111111"/>
<rect x="247.37" y="528.52" width="2.5" height="2.5" fill="#111111"/>
<rect x="254.91" y="520.45" width="2.5" height="2.5" fill="#111111"/>
<rect x="260.29" y="514.52" width="2.5" height="2.5" fill="#111111"/>
<rect x="267.83" y="505.1" width="2.5" height="2.5" fill="#111111"/>
<rect x="274.29" y="497.02" width="2.5" height="2.5" fill="#111111"/>
<text x="355.2" y="445.6" font-size="12.3" text-anchor="middle" font-weight="bold" fill="#000" dominant-baseline="central">I</text>
<text x="446.8" y="442.2" font-size="7.1" text-anchor="middle" font-weight="bold" fill="#000" dominant-baseline="central">RXF-2796</text>
<line x1="373.6" y1="456.9" x2="381.1" y2="456.9" stroke="#111111" stroke-width="1"/>
<path d="M375.8,456.9 l1.7,-1.4 l1.7,1.4 l-1.7,1.4 z" fill="#111111"/>
<text x="383.6" y="456.9" font-size="4.5" text-anchor="start" font-weight="normal" fill="#000" dominant-baseline="central" stroke="#000" stroke-width="0.12">Vehicle</text>
<line x1="373.6" y1="465.3" x2="381.1" y2="465.3" stroke="#2a962a" stroke-width="1"/>
<path d="M375.8,465.3 l1.7,-1.4 l1.7,1.4 l-1.7,1.4 z" fill="#2a962a"/>
<text x="383.6" y="465.3" font-size="4.5" text-anchor="start" font-weight="normal" fill="#000" dominant-baseline="central" stroke="#000" stroke-width="0.12">M8891 100 mg/kg, daily p.o.</text>
<line x1="442.6" y1="456.9" x2="450.1" y2="456.9" stroke="#1a1ad2" stroke-width="1"/>
<path d="M444.8,456.9 l1.7,-1.4 l1.7,1.4 l-1.7,1.4 z" fill="#1a1ad2"/>
<text x="452.6" y="456.9" font-size="4.5" text-anchor="start" font-weight="normal" fill="#000" dominant-baseline="central" stroke="#000" stroke-width="0.12">Cabozantinib 10 mg/kg, daily p.o.</text>
<line x1="442.6" y1="465.3" x2="450.1" y2="465.3" stroke="#b5141c" stroke-width="1"/>
<path d="M444.8,465.3 l1.7,-1.4 l1.7,1.4 l-1.7,1.4 z" fill="#b5141c"/>
<text x="452.6" y="465.3" font-size="4.5" text-anchor="start" font-weight="normal" fill="#000" dominant-baseline="central" stroke="#000" stroke-width="0.12">Cabozantinib+M8891</text>
<line x1="382.7" y1="475" x2="382.7" y2="562.6" stroke="#333" stroke-width="0.9"/>
<line x1="382.3" y1="562.2" x2="513.6" y2="562.2" stroke="#333" stroke-width="0.9"/>
<line x1="380.5" y1="562.2" x2="382.7" y2="562.2" stroke="#333" stroke-width="0.7"/>
<text x="380.1" y="562.2" font-size="4.7" text-anchor="end" font-weight="normal" fill="#222" dominant-baseline="central" stroke="#222" stroke-width="0.08">0</text>
<line x1="380.5" y1="540.53" x2="382.7" y2="540.53" stroke="#333" stroke-width="0.7"/>
<text x="380.1" y="540.53" font-size="4.7" text-anchor="end" font-weight="normal" fill="#222" dominant-baseline="central" stroke="#222" stroke-width="0.08">500</text>
<line x1="380.5" y1="518.85" x2="382.7" y2="518.85" stroke="#333" stroke-width="0.7"/>
<text x="380.1" y="518.85" font-size="4.7" text-anchor="end" font-weight="normal" fill="#222" dominant-baseline="central" stroke="#222" stroke-width="0.08">1,000</text>
<line x1="380.5" y1="497.18" x2="382.7" y2="497.18" stroke="#333" stroke-width="0.7"/>
<text x="380.1" y="497.18" font-size="4.7" text-anchor="end" font-weight="normal" fill="#222" dominant-baseline="central" stroke="#222" stroke-width="0.08">1,500</text>
<line x1="380.5" y1="475.5" x2="382.7" y2="475.5" stroke="#333" stroke-width="0.7"/>
<text x="380.1" y="475.5" font-size="4.7" text-anchor="end" font-weight="normal" fill="#222" dominant-baseline="central" stroke="#222" stroke-width="0.08">2,000</text>
<line x1="382.7" y1="562.2" x2="382.7" y2="564.4" stroke="#333" stroke-width="0.7"/>
<text x="382.7" y="567.8" font-size="4.7" text-anchor="middle" font-weight="normal" fill="#222" dominant-baseline="central" stroke="#222" stroke-width="0.08">0</text>
<line x1="401.33" y1="562.2" x2="401.33" y2="564.4" stroke="#333" stroke-width="0.7"/>
<text x="401.33" y="567.8" font-size="4.7" text-anchor="middle" font-weight="normal" fill="#222" dominant-baseline="central" stroke="#222" stroke-width="0.08">10</text>
<line x1="419.96" y1="562.2" x2="419.96" y2="564.4" stroke="#333" stroke-width="0.7"/>
<text x="419.96" y="567.8" font-size="4.7" text-anchor="middle" font-weight="normal" fill="#222" dominant-baseline="central" stroke="#222" stroke-width="0.08">20</text>
<line x1="438.59" y1="562.2" x2="438.59" y2="564.4" stroke="#333" stroke-width="0.7"/>
<text x="438.59" y="567.8" font-size="4.7" text-anchor="middle" font-weight="normal" fill="#222" dominant-baseline="central" stroke="#222" stroke-width="0.08">30</text>
<line x1="457.21" y1="562.2" x2="457.21" y2="564.4" stroke="#333" stroke-width="0.7"/>
<text x="457.21" y="567.8" font-size="4.7" text-anchor="middle" font-weight="normal" fill="#222" dominant-baseline="central" stroke="#222" stroke-width="0.08">40</text>
<line x1="475.84" y1="562.2" x2="475.84" y2="564.4" stroke="#333" stroke-width="0.7"/>
<text x="475.84" y="567.8" font-size="4.7" text-anchor="middle" font-weight="normal" fill="#222" dominant-baseline="central" stroke="#222" stroke-width="0.08">50</text>
<line x1="494.47" y1="562.2" x2="494.47" y2="564.4" stroke="#333" stroke-width="0.7"/>
<text x="494.47" y="567.8" font-size="4.7" text-anchor="middle" font-weight="normal" fill="#222" dominant-baseline="central" stroke="#222" stroke-width="0.08">60</text>
<line x1="513.1" y1="562.2" x2="513.1" y2="564.4" stroke="#333" stroke-width="0.7"/>
<text x="513.1" y="567.8" font-size="4.7" text-anchor="middle" font-weight="normal" fill="#222" dominant-baseline="central" stroke="#222" stroke-width="0.08">70</text>
<text x="355.6" y="518.85" font-size="5.45" text-anchor="middle" font-weight="bold" fill="#000" dominant-baseline="central" transform="rotate(-90 355.6 518.85)">Tumor volume change (%)</text>
<text x="363.1" y="518.85" font-size="5.45" text-anchor="middle" font-weight="bold" fill="#000" dominant-baseline="central" transform="rotate(-90 363.1 518.85)">mean ± SEM</text>
<text x="447.9" y="577.6" font-size="5.46" text-anchor="middle" font-weight="bold" fill="#000" dominant-baseline="central">Days after treatment start</text>
<line x1="382.7" y1="545.1" x2="513.1" y2="545.1" stroke="#222" stroke-width="0.8" stroke-dasharray="2,1.4"/>
<line x1="382.7" y1="555.1" x2="513.1" y2="555.1" stroke="#222" stroke-width="0.8" stroke-dasharray="2,1.4"/>
<line x1="382.7" y1="558.6" x2="513.1" y2="558.6" stroke="#222" stroke-width="0.8" stroke-dasharray="2,1.4"/>
<polyline points="382.7,557.8 388.8,556.8 394.8,555.1 401.5,554.4 408.5,554.6 414.7,553.1 422,553.6 427.4,554.1 434.9,554.4 441.2,554.4 448.4,553.7 454.2,551.7 461.4,551 467.2,551.7 474.3,552 480.3,552.4 487.4,554.4 493.2,554.7 500.5,553.7 506.6,552.8 513.6,551" fill="none" stroke="#b5141c" stroke-width="1.3" stroke-linejoin="round"/>
<path d="M388.8,555.8 V557.8 M387.2,555.8 H390.4 M387.2,557.8 H390.4 M394.8,553.6 V556.6 M393.2,553.6 H396.4 M393.2,556.6 H396.4 M401.5,552.4 V556.4 M399.9,552.4 H403.1 M399.9,556.4 H403.1 M408.5,552.6 V556.6 M406.9,552.6 H410.1 M406.9,556.6 H410.1 M414.7,550.6 V555.6 M413.1,550.6 H416.3 M413.1,555.6 H416.3 M422,551.1 V556.1 M420.4,551.1 H423.6 M420.4,556.1 H423.6 M427.4,551.6 V556.6 M425.8,551.6 H429 M425.8,556.6 H429 M434.9,551.9 V556.9 M433.3,551.9 H436.5 M433.3,556.9 H436.5 M441.2,551.9 V556.9 M439.6,551.9 H442.8 M439.6,556.9 H442.8 M448.4,550.7 V556.7 M446.8,550.7 H450 M446.8,556.7 H450 M454.2,548.7 V554.7 M452.6,548.7 H455.8 M452.6,554.7 H455.8 M461.4,548 V554 M459.8,548 H463 M459.8,554 H463 M467.2,548.7 V554.7 M465.6,548.7 H468.8 M465.6,554.7 H468.8 M474.3,549 V555 M472.7,549 H475.9 M472.7,555 H475.9 M480.3,549.4 V555.4 M478.7,549.4 H481.9 M478.7,555.4 H481.9 M487.4,551.4 V557.4 M485.8,551.4 H489 M485.8,557.4 H489 M493.2,551.7 V557.7 M491.6,551.7 H494.8 M491.6,557.7 H494.8 M500.5,550.7 V556.7 M498.9,550.7 H502.1 M498.9,556.7 H502.1 M506.6,549.8 V555.8 M505,549.8 H508.2 M505,555.8 H508.2 M513.6,548 V554 M512,548 H515.2 M512,554 H515.2" stroke="#b5141c" stroke-width="1.17" fill="none"/>
<rect x="381.45" y="556.55" width="2.5" height="2.5" fill="#b5141c"/>
<rect x="387.55" y="555.55" width="2.5" height="2.5" fill="#b5141c"/>
<rect x="393.55" y="553.85" width="2.5" height="2.5" fill="#b5141c"/>
<rect x="400.25" y="553.15" width="2.5" height="2.5" fill="#b5141c"/>
<rect x="407.25" y="553.35" width="2.5" height="2.5" fill="#b5141c"/>
<rect x="413.45" y="551.85" width="2.5" height="2.5" fill="#b5141c"/>
<rect x="420.75" y="552.35" width="2.5" height="2.5" fill="#b5141c"/>
<rect x="426.15" y="552.85" width="2.5" height="2.5" fill="#b5141c"/>
<rect x="433.65" y="553.15" width="2.5" height="2.5" fill="#b5141c"/>
<rect x="439.95" y="553.15" width="2.5" height="2.5" fill="#b5141c"/>
<rect x="447.15" y="552.45" width="2.5" height="2.5" fill="#b5141c"/>
<rect x="452.95" y="550.45" width="2.5" height="2.5" fill="#b5141c"/>
<rect x="460.15" y="549.75" width="2.5" height="2.5" fill="#b5141c"/>
<rect x="465.95" y="550.45" width="2.5" height="2.5" fill="#b5141c"/>
<rect x="473.05" y="550.75" width="2.5" height="2.5" fill="#b5141c"/>
<rect x="479.05" y="551.15" width="2.5" height="2.5" fill="#b5141c"/>
<rect x="486.15" y="553.15" width="2.5" height="2.5" fill="#b5141c"/>
<rect x="491.95" y="553.45" width="2.5" height="2.5" fill="#b5141c"/>
<rect x="499.25" y="552.45" width="2.5" height="2.5" fill="#b5141c"/>
<rect x="505.35" y="551.55" width="2.5" height="2.5" fill="#b5141c"/>
<rect x="512.35" y="549.75" width="2.5" height="2.5" fill="#b5141c"/>
<polyline points="382.7,557.8 388.8,556.5 394.8,554.4 401.5,551.7 408.5,551 414.7,545.7 422,542.3 427.4,539.6 434.9,536.9 441.2,535.6 448.4,534.2 454.2,533.5 461.4,533.5 467.2,532.9 474.3,529.5 480.3,526.1 487.4,522.8 493.2,519.4 500.5,514.7 506.6,509.3 513.6,504.6" fill="none" stroke="#2a962a" stroke-width="1.3" stroke-linejoin="round"/>
<path d="M388.8,555.7 V557.3 M387.2,555.7 H390.4 M387.2,557.3 H390.4 M394.8,552.9 V555.9 M393.2,552.9 H396.4 M393.2,555.9 H396.4 M401.5,549.2 V554.2 M399.9,549.2 H403.1 M399.9,554.2 H403.1 M408.5,548 V554 M406.9,548 H410.1 M406.9,554 H410.1 M414.7,542.7 V548.7 M413.1,542.7 H416.3 M413.1,548.7 H416.3 M422,538.8 V545.8 M420.4,538.8 H423.6 M420.4,545.8 H423.6 M427.4,536.1 V543.1 M425.8,536.1 H429 M425.8,543.1 H429 M434.9,532.9 V540.9 M433.3,532.9 H436.5 M433.3,540.9 H436.5 M441.2,531.1 V540.1 M439.6,531.1 H442.8 M439.6,540.1 H442.8 M448.4,528.8 V539.6 M446.8,528.8 H450 M446.8,539.6 H450 M454.2,525.5 V541.5 M452.6,525.5 H455.8 M452.6,541.5 H455.8 M461.4,524.8 V542.2 M459.8,524.8 H463 M459.8,542.2 H463 M467.2,522.5 V543.3 M465.6,522.5 H468.8 M465.6,543.3 H468.8 M474.3,517.5 V541.5 M472.7,517.5 H475.9 M472.7,541.5 H475.9 M480.3,513.1 V539.1 M478.7,513.1 H481.9 M478.7,539.1 H481.9 M487.4,508.8 V536.8 M485.8,508.8 H489 M485.8,536.8 H489 M493.2,504.4 V534.4 M491.6,504.4 H494.8 M491.6,534.4 H494.8 M500.5,498.2 V531.2 M498.9,498.2 H502.1 M498.9,531.2 H502.1 M506.6,491.3 V527.3 M505,491.3 H508.2 M505,527.3 H508.2 M513.6,487.8 V521.4 M512,487.8 H515.2 M512,521.4 H515.2" stroke="#2a962a" stroke-width="1.17" fill="none"/>
<rect x="381.45" y="556.55" width="2.5" height="2.5" fill="#2a962a"/>
<rect x="387.55" y="555.25" width="2.5" height="2.5" fill="#2a962a"/>
<rect x="393.55" y="553.15" width="2.5" height="2.5" fill="#2a962a"/>
<rect x="400.25" y="550.45" width="2.5" height="2.5" fill="#2a962a"/>
<rect x="407.25" y="549.75" width="2.5" height="2.5" fill="#2a962a"/>
<rect x="413.45" y="544.45" width="2.5" height="2.5" fill="#2a962a"/>
<rect x="420.75" y="541.05" width="2.5" height="2.5" fill="#2a962a"/>
<rect x="426.15" y="538.35" width="2.5" height="2.5" fill="#2a962a"/>
<rect x="433.65" y="535.65" width="2.5" height="2.5" fill="#2a962a"/>
<rect x="439.95" y="534.35" width="2.5" height="2.5" fill="#2a962a"/>
<rect x="447.15" y="532.95" width="2.5" height="2.5" fill="#2a962a"/>
<rect x="452.95" y="532.25" width="2.5" height="2.5" fill="#2a962a"/>
<rect x="460.15" y="532.25" width="2.5" height="2.5" fill="#2a962a"/>
<rect x="465.95" y="531.65" width="2.5" height="2.5" fill="#2a962a"/>
<rect x="473.05" y="528.25" width="2.5" height="2.5" fill="#2a962a"/>
<rect x="479.05" y="524.85" width="2.5" height="2.5" fill="#2a962a"/>
<rect x="486.15" y="521.55" width="2.5" height="2.5" fill="#2a962a"/>
<rect x="491.95" y="518.15" width="2.5" height="2.5" fill="#2a962a"/>
<rect x="499.25" y="513.45" width="2.5" height="2.5" fill="#2a962a"/>
<rect x="505.35" y="508.05" width="2.5" height="2.5" fill="#2a962a"/>
<rect x="512.35" y="503.35" width="2.5" height="2.5" fill="#2a962a"/>
<polyline points="382.7,557.8 388.8,556.5 394.8,554.4 401.5,551.4 408.5,551.7 414.7,549.7 422,546.3 427.4,543 434.9,539.3 441.2,538.3 448.4,537.6 454.2,538.3 461.4,540.3 467.2,541.6 474.3,543 480.3,543.6 487.4,541.6 493.2,539.6 500.5,533.5 506.6,530.2 513.6,527.5" fill="none" stroke="#1a1ad2" stroke-width="1.3" stroke-linejoin="round"/>
<path d="M388.8,555.7 V557.3 M387.2,555.7 H390.4 M387.2,557.3 H390.4 M394.8,552.9 V555.9 M393.2,552.9 H396.4 M393.2,555.9 H396.4 M401.5,549.4 V553.4 M399.9,549.4 H403.1 M399.9,553.4 H403.1 M408.5,549.2 V554.2 M406.9,549.2 H410.1 M406.9,554.2 H410.1 M414.7,546.7 V552.7 M413.1,546.7 H416.3 M413.1,552.7 H416.3 M422,542.9 V549.7 M420.4,542.9 H423.6 M420.4,549.7 H423.6 M427.4,539 V547 M425.8,539 H429 M425.8,547 H429 M434.9,533.9 V544.7 M433.3,533.9 H436.5 M433.3,544.7 H436.5 M441.2,530.6 V546 M439.6,530.6 H442.8 M439.6,546 H442.8 M448.4,530.9 V544.3 M446.8,530.9 H450 M446.8,544.3 H450 M454.2,531.6 V545 M452.6,531.6 H455.8 M452.6,545 H455.8 M461.4,534.9 V545.7 M459.8,534.9 H463 M459.8,545.7 H463 M467.2,536.2 V547 M465.6,536.2 H468.8 M465.6,547 H468.8 M474.3,537.6 V548.4 M472.7,537.6 H475.9 M472.7,548.4 H475.9 M480.3,538.2 V549 M478.7,538.2 H481.9 M478.7,549 H481.9 M487.4,534.6 V548.6 M485.8,534.6 H489 M485.8,548.6 H489 M493.2,532.2 V547 M491.6,532.2 H494.8 M491.6,547 H494.8 M500.5,524.5 V542.5 M498.9,524.5 H502.1 M498.9,542.5 H502.1 M506.6,520.8 V539.6 M505,520.8 H508.2 M505,539.6 H508.2 M513.6,517.7 V537.3 M512,517.7 H515.2 M512,537.3 H515.2" stroke="#1a1ad2" stroke-width="1.17" fill="none"/>
<rect x="381.45" y="556.55" width="2.5" height="2.5" fill="#1a1ad2"/>
<rect x="387.55" y="555.25" width="2.5" height="2.5" fill="#1a1ad2"/>
<rect x="393.55" y="553.15" width="2.5" height="2.5" fill="#1a1ad2"/>
<rect x="400.25" y="550.15" width="2.5" height="2.5" fill="#1a1ad2"/>
<rect x="407.25" y="550.45" width="2.5" height="2.5" fill="#1a1ad2"/>
<rect x="413.45" y="548.45" width="2.5" height="2.5" fill="#1a1ad2"/>
<rect x="420.75" y="545.05" width="2.5" height="2.5" fill="#1a1ad2"/>
<rect x="426.15" y="541.75" width="2.5" height="2.5" fill="#1a1ad2"/>
<rect x="433.65" y="538.05" width="2.5" height="2.5" fill="#1a1ad2"/>
<rect x="439.95" y="537.05" width="2.5" height="2.5" fill="#1a1ad2"/>
<rect x="447.15" y="536.35" width="2.5" height="2.5" fill="#1a1ad2"/>
<rect x="452.95" y="537.05" width="2.5" height="2.5" fill="#1a1ad2"/>
<rect x="460.15" y="539.05" width="2.5" height="2.5" fill="#1a1ad2"/>
<rect x="465.95" y="540.35" width="2.5" height="2.5" fill="#1a1ad2"/>
<rect x="473.05" y="541.75" width="2.5" height="2.5" fill="#1a1ad2"/>
<rect x="479.05" y="542.35" width="2.5" height="2.5" fill="#1a1ad2"/>
<rect x="486.15" y="540.35" width="2.5" height="2.5" fill="#1a1ad2"/>
<rect x="491.95" y="538.35" width="2.5" height="2.5" fill="#1a1ad2"/>
<rect x="499.25" y="532.25" width="2.5" height="2.5" fill="#1a1ad2"/>
<rect x="505.35" y="528.95" width="2.5" height="2.5" fill="#1a1ad2"/>
<rect x="512.35" y="526.25" width="2.5" height="2.5" fill="#1a1ad2"/>
<polyline points="382.7,557.8 388.8,556.5 394.8,554.4 401.5,547.7 408.5,545.7 414.7,540.3 422,530.9 427.4,522.1 434.9,515.4 441.2,506.2 448.4,503.9 454.2,501.2 461.4,495.2" fill="none" stroke="#111111" stroke-width="1.3" stroke-linejoin="round"/>
<path d="M388.8,555.7 V557.3 M387.2,555.7 H390.4 M387.2,557.3 H390.4 M394.8,552.9 V555.9 M393.2,552.9 H396.4 M393.2,555.9 H396.4 M401.5,545 V550.4 M399.9,545 H403.1 M399.9,550.4 H403.1 M408.5,542.7 V548.7 M406.9,542.7 H410.1 M406.9,548.7 H410.1 M414.7,534.9 V545.7 M413.1,534.9 H416.3 M413.1,545.7 H416.3 M422,523.2 V538.6 M420.4,523.2 H423.6 M420.4,538.6 H423.6 M427.4,511.1 V533.1 M425.8,511.1 H429 M425.8,533.1 H429 M434.9,503.6 V527.2 M433.3,503.6 H436.5 M433.3,527.2 H436.5 M441.2,492.2 V520.2 M439.6,492.2 H442.8 M439.6,520.2 H442.8 M448.4,490.9 V516.9 M446.8,490.9 H450 M446.8,516.9 H450 M454.2,488.4 V514 M452.6,488.4 H455.8 M452.6,514 H455.8 M461.4,483.8 V506.6 M459.8,483.8 H463 M459.8,506.6 H463" stroke="#111111" stroke-width="1.17" fill="none"/>
<rect x="381.45" y="556.55" width="2.5" height="2.5" fill="#111111"/>
<rect x="387.55" y="555.25" width="2.5" height="2.5" fill="#111111"/>
<rect x="393.55" y="553.15" width="2.5" height="2.5" fill="#111111"/>
<rect x="400.25" y="546.45" width="2.5" height="2.5" fill="#111111"/>
<rect x="407.25" y="544.45" width="2.5" height="2.5" fill="#111111"/>
<rect x="413.45" y="539.05" width="2.5" height="2.5" fill="#111111"/>
<rect x="420.75" y="529.65" width="2.5" height="2.5" fill="#111111"/>
<rect x="426.15" y="520.85" width="2.5" height="2.5" fill="#111111"/>
<rect x="433.65" y="514.15" width="2.5" height="2.5" fill="#111111"/>
<rect x="439.95" y="504.95" width="2.5" height="2.5" fill="#111111"/>
<rect x="447.15" y="502.65" width="2.5" height="2.5" fill="#111111"/>
<rect x="452.95" y="499.95" width="2.5" height="2.5" fill="#111111"/>
<rect x="460.15" y="493.95" width="2.5" height="2.5" fill="#111111"/>
<text x="27.7" y="602" font-size="12.3" text-anchor="middle" font-weight="bold" fill="#000" dominant-baseline="central">J</text>
<line x1="81.5" y1="629.7" x2="81.5" y2="883" stroke="#f2f2f2" stroke-width="0.6"/>
<line x1="102.1" y1="629.7" x2="102.1" y2="883" stroke="#f2f2f2" stroke-width="0.6"/>
<line x1="122.7" y1="629.7" x2="122.7" y2="883" stroke="#f2f2f2" stroke-width="0.6"/>
<line x1="143.3" y1="629.7" x2="143.3" y2="883" stroke="#f2f2f2" stroke-width="0.6"/>
<line x1="163.9" y1="629.7" x2="163.9" y2="883" stroke="#f2f2f2" stroke-width="0.6"/>
<line x1="91.8" y1="629.7" x2="91.8" y2="883" stroke="#f7f7f7" stroke-width="0.5"/>
<line x1="112.4" y1="629.7" x2="112.4" y2="883" stroke="#f7f7f7" stroke-width="0.5"/>
<line x1="133" y1="629.7" x2="133" y2="883" stroke="#f7f7f7" stroke-width="0.5"/>
<line x1="153.6" y1="629.7" x2="153.6" y2="883" stroke="#f7f7f7" stroke-width="0.5"/>
<line x1="69.7" y1="635.9" x2="169.2" y2="635.9" stroke="#f5f5f5" stroke-width="0.5"/>
<line x1="69.7" y1="645.94" x2="169.2" y2="645.94" stroke="#f5f5f5" stroke-width="0.5"/>
<line x1="69.7" y1="655.98" x2="169.2" y2="655.98" stroke="#f5f5f5" stroke-width="0.5"/>
<line x1="69.7" y1="666.02" x2="169.2" y2="666.02" stroke="#f5f5f5" stroke-width="0.5"/>
<line x1="69.7" y1="676.06" x2="169.2" y2="676.06" stroke="#f5f5f5" stroke-width="0.5"/>
<line x1="69.7" y1="686.1" x2="169.2" y2="686.1" stroke="#f5f5f5" stroke-width="0.5"/>
<line x1="69.7" y1="696.14" x2="169.2" y2="696.14" stroke="#f5f5f5" stroke-width="0.5"/>
<line x1="69.7" y1="706.18" x2="169.2" y2="706.18" stroke="#f5f5f5" stroke-width="0.5"/>
<line x1="69.7" y1="716.22" x2="169.2" y2="716.22" stroke="#f5f5f5" stroke-width="0.5"/>
<line x1="69.7" y1="726.26" x2="169.2" y2="726.26" stroke="#f5f5f5" stroke-width="0.5"/>
<line x1="69.7" y1="736.3" x2="169.2" y2="736.3" stroke="#f5f5f5" stroke-width="0.5"/>
<line x1="69.7" y1="746.34" x2="169.2" y2="746.34" stroke="#f5f5f5" stroke-width="0.5"/>
<line x1="69.7" y1="756.38" x2="169.2" y2="756.38" stroke="#f5f5f5" stroke-width="0.5"/>
<line x1="69.7" y1="766.42" x2="169.2" y2="766.42" stroke="#f5f5f5" stroke-width="0.5"/>
<line x1="69.7" y1="776.46" x2="169.2" y2="776.46" stroke="#f5f5f5" stroke-width="0.5"/>
<line x1="69.7" y1="786.5" x2="169.2" y2="786.5" stroke="#f5f5f5" stroke-width="0.5"/>
<line x1="69.7" y1="796.54" x2="169.2" y2="796.54" stroke="#f5f5f5" stroke-width="0.5"/>
<line x1="69.7" y1="806.58" x2="169.2" y2="806.58" stroke="#f5f5f5" stroke-width="0.5"/>
<line x1="69.7" y1="816.62" x2="169.2" y2="816.62" stroke="#f5f5f5" stroke-width="0.5"/>
<line x1="69.7" y1="826.66" x2="169.2" y2="826.66" stroke="#f5f5f5" stroke-width="0.5"/>
<line x1="69.7" y1="836.7" x2="169.2" y2="836.7" stroke="#f5f5f5" stroke-width="0.5"/>
<line x1="69.7" y1="846.74" x2="169.2" y2="846.74" stroke="#f5f5f5" stroke-width="0.5"/>
<line x1="69.7" y1="856.78" x2="169.2" y2="856.78" stroke="#f5f5f5" stroke-width="0.5"/>
<line x1="69.7" y1="866.82" x2="169.2" y2="866.82" stroke="#f5f5f5" stroke-width="0.5"/>
<line x1="69.7" y1="876.86" x2="169.2" y2="876.86" stroke="#f5f5f5" stroke-width="0.5"/>
<rect x="101" y="631.5" width="62.9" height="9.25" fill="#4b2a94"/>
<line x1="88.8" y1="636.1" x2="113" y2="636.1" stroke="#15152a" stroke-width="0.8"/>
<rect x="121.8" y="641.54" width="42.1" height="9.25" fill="#4b2a94"/>
<line x1="105" y1="646.14" x2="139" y2="646.14" stroke="#15152a" stroke-width="0.8"/>
<rect x="105.7" y="651.58" width="58.2" height="9.25" fill="#4b2a94"/>
<line x1="100" y1="656.18" x2="111" y2="656.18" stroke="#15152a" stroke-width="0.8"/>
<rect x="117.7" y="661.62" width="46.2" height="9.25" fill="#4b2a94"/>
<line x1="105.5" y1="666.22" x2="129" y2="666.22" stroke="#15152a" stroke-width="0.8"/>
<rect x="101" y="671.66" width="62.9" height="9.25" fill="#4b2a94"/>
<line x1="89.5" y1="676.26" x2="112" y2="676.26" stroke="#15152a" stroke-width="0.8"/>
<rect x="105.7" y="681.7" width="58.2" height="9.25" fill="#4b2a94"/>
<line x1="101" y1="686.3" x2="108" y2="686.3" stroke="#15152a" stroke-width="0.8"/>
<rect x="105.7" y="691.74" width="58.2" height="9.25" fill="#4b2a94"/>
<line x1="101" y1="696.34" x2="108" y2="696.34" stroke="#15152a" stroke-width="0.8"/>
<rect x="112.6" y="701.78" width="51.3" height="9.25" fill="#4b2a94"/>
<line x1="107.3" y1="706.38" x2="118" y2="706.38" stroke="#15152a" stroke-width="0.8"/>
<rect x="100" y="711.82" width="63.9" height="9.25" fill="#4b2a94"/>
<line x1="93" y1="716.42" x2="108" y2="716.42" stroke="#15152a" stroke-width="0.8"/>
<rect x="105.7" y="721.86" width="58.2" height="9.25" fill="#4b2a94"/>
<line x1="93" y1="726.46" x2="118" y2="726.46" stroke="#15152a" stroke-width="0.8"/>
<rect x="103.8" y="731.9" width="60.1" height="9.25" fill="#4b2a94"/>
<line x1="96.5" y1="736.5" x2="110" y2="736.5" stroke="#15152a" stroke-width="0.8"/>
<rect x="104.5" y="741.94" width="59.4" height="9.25" fill="#4b2a94"/>
<line x1="101.5" y1="746.54" x2="108" y2="746.54" stroke="#15152a" stroke-width="0.8"/>
<rect x="101" y="751.98" width="62.9" height="9.25" fill="#4b2a94"/>
<line x1="96.5" y1="756.58" x2="106" y2="756.58" stroke="#15152a" stroke-width="0.8"/>
<rect x="96.2" y="762.02" width="67.7" height="9.25" fill="#4b2a94"/>
<line x1="88.4" y1="766.62" x2="103" y2="766.62" stroke="#15152a" stroke-width="0.8"/>
<rect x="97.6" y="772.06" width="66.3" height="9.25" fill="#4b2a94"/>
<line x1="85" y1="776.66" x2="110" y2="776.66" stroke="#15152a" stroke-width="0.8"/>
<rect x="113.5" y="782.1" width="50.4" height="9.25" fill="#4b2a94"/>
<line x1="103.8" y1="786.7" x2="120" y2="786.7" stroke="#15152a" stroke-width="0.8"/>
<rect x="97.6" y="792.14" width="66.3" height="9.25" fill="#4b2a94"/>
<line x1="90" y1="796.74" x2="105" y2="796.74" stroke="#15152a" stroke-width="0.8"/>
<rect x="107.3" y="802.18" width="56.6" height="9.25" fill="#4b2a94"/>
<line x1="104" y1="806.78" x2="110" y2="806.78" stroke="#15152a" stroke-width="0.8"/>
<rect x="101" y="812.22" width="62.9" height="9.25" fill="#4b2a94"/>
<line x1="98" y1="816.82" x2="104" y2="816.82" stroke="#15152a" stroke-width="0.8"/>
<rect x="100" y="822.26" width="63.9" height="9.25" fill="#4b2a94"/>
<line x1="86.5" y1="826.86" x2="115" y2="826.86" stroke="#15152a" stroke-width="0.8"/>
<rect x="98.8" y="832.3" width="65.1" height="9.25" fill="#4b2a94"/>
<line x1="97" y1="836.9" x2="102" y2="836.9" stroke="#15152a" stroke-width="0.8"/>
<rect x="107.3" y="842.34" width="56.6" height="9.25" fill="#4b2a94"/>
<line x1="101" y1="846.94" x2="115" y2="846.94" stroke="#15152a" stroke-width="0.8"/>
<rect x="93" y="852.38" width="70.9" height="9.25" fill="#4b2a94"/>
<line x1="87.7" y1="856.98" x2="97" y2="856.98" stroke="#15152a" stroke-width="0.8"/>
<rect x="101.5" y="862.42" width="62.4" height="9.25" fill="#4b2a94"/>
<line x1="94.6" y1="867.02" x2="110" y2="867.02" stroke="#15152a" stroke-width="0.8"/>
<rect x="83.8" y="872.46" width="80.1" height="9.25" fill="#4b2a94"/>
<rect x="69.7" y="629.7" width="99.5" height="253.3" fill="none" stroke="#8a8a8a" stroke-width="0.9"/>
<text x="80.9" y="627.4" font-size="6.9" text-anchor="start" font-weight="normal" fill="#111" dominant-baseline="central" transform="rotate(-90 80.9 627.4)">400</text>
<text x="101.5" y="627.4" font-size="6.9" text-anchor="start" font-weight="normal" fill="#111" dominant-baseline="central" transform="rotate(-90 101.5 627.4)">300</text>
<text x="122.1" y="627.4" font-size="6.9" text-anchor="start" font-weight="normal" fill="#111" dominant-baseline="central" transform="rotate(-90 122.1 627.4)">200</text>
<text x="142.7" y="627.4" font-size="6.9" text-anchor="start" font-weight="normal" fill="#111" dominant-baseline="central" transform="rotate(-90 142.7 627.4)">100</text>
<text x="163.3" y="627.4" font-size="6.9" text-anchor="start" font-weight="normal" fill="#111" dominant-baseline="central" transform="rotate(-90 163.3 627.4)">0</text>
<text x="114.5" y="600.9" font-size="8.8" text-anchor="middle" font-weight="bold" fill="#000" dominant-baseline="central">M8891</text>
<text x="113" y="610" font-size="6" text-anchor="middle" font-weight="normal" fill="#111" dominant-baseline="central">Median RTV AUC [a.u.]</text>
<line x1="190.28" y1="629.7" x2="190.28" y2="883" stroke="#f2f2f2" stroke-width="0.6"/>
<line x1="211.06" y1="629.7" x2="211.06" y2="883" stroke="#f2f2f2" stroke-width="0.6"/>
<line x1="231.84" y1="629.7" x2="231.84" y2="883" stroke="#f2f2f2" stroke-width="0.6"/>
<line x1="252.62" y1="629.7" x2="252.62" y2="883" stroke="#f2f2f2" stroke-width="0.6"/>
<line x1="273.4" y1="629.7" x2="273.4" y2="883" stroke="#f2f2f2" stroke-width="0.6"/>
<line x1="200.67" y1="629.7" x2="200.67" y2="883" stroke="#f7f7f7" stroke-width="0.5"/>
<line x1="221.45" y1="629.7" x2="221.45" y2="883" stroke="#f7f7f7" stroke-width="0.5"/>
<line x1="242.23" y1="629.7" x2="242.23" y2="883" stroke="#f7f7f7" stroke-width="0.5"/>
<line x1="263.01" y1="629.7" x2="263.01" y2="883" stroke="#f7f7f7" stroke-width="0.5"/>
<line x1="179.7" y1="635.9" x2="278.2" y2="635.9" stroke="#f5f5f5" stroke-width="0.5"/>
<line x1="179.7" y1="645.94" x2="278.2" y2="645.94" stroke="#f5f5f5" stroke-width="0.5"/>
<line x1="179.7" y1="655.98" x2="278.2" y2="655.98" stroke="#f5f5f5" stroke-width="0.5"/>
<line x1="179.7" y1="666.02" x2="278.2" y2="666.02" stroke="#f5f5f5" stroke-width="0.5"/>
<line x1="179.7" y1="676.06" x2="278.2" y2="676.06" stroke="#f5f5f5" stroke-width="0.5"/>
<line x1="179.7" y1="686.1" x2="278.2" y2="686.1" stroke="#f5f5f5" stroke-width="0.5"/>
<line x1="179.7" y1="696.14" x2="278.2" y2="696.14" stroke="#f5f5f5" stroke-width="0.5"/>
<line x1="179.7" y1="706.18" x2="278.2" y2="706.18" stroke="#f5f5f5" stroke-width="0.5"/>
<line x1="179.7" y1="716.22" x2="278.2" y2="716.22" stroke="#f5f5f5" stroke-width="0.5"/>
<line x1="179.7" y1="726.26" x2="278.2" y2="726.26" stroke="#f5f5f5" stroke-width="0.5"/>
<line x1="179.7" y1="736.3" x2="278.2" y2="736.3" stroke="#f5f5f5" stroke-width="0.5"/>
<line x1="179.7" y1="746.34" x2="278.2" y2="746.34" stroke="#f5f5f5" stroke-width="0.5"/>
<line x1="179.7" y1="756.38" x2="278.2" y2="756.38" stroke="#f5f5f5" stroke-width="0.5"/>
<line x1="179.7" y1="766.42" x2="278.2" y2="766.42" stroke="#f5f5f5" stroke-width="0.5"/>
<line x1="179.7" y1="776.46" x2="278.2" y2="776.46" stroke="#f5f5f5" stroke-width="0.5"/>
<line x1="179.7" y1="786.5" x2="278.2" y2="786.5" stroke="#f5f5f5" stroke-width="0.5"/>
<line x1="179.7" y1="796.54" x2="278.2" y2="796.54" stroke="#f5f5f5" stroke-width="0.5"/>
<line x1="179.7" y1="806.58" x2="278.2" y2="806.58" stroke="#f5f5f5" stroke-width="0.5"/>
<line x1="179.7" y1="816.62" x2="278.2" y2="816.62" stroke="#f5f5f5" stroke-width="0.5"/>
<line x1="179.7" y1="826.66" x2="278.2" y2="826.66" stroke="#f5f5f5" stroke-width="0.5"/>
<line x1="179.7" y1="836.7" x2="278.2" y2="836.7" stroke="#f5f5f5" stroke-width="0.5"/>
<line x1="179.7" y1="846.74" x2="278.2" y2="846.74" stroke="#f5f5f5" stroke-width="0.5"/>
<line x1="179.7" y1="856.78" x2="278.2" y2="856.78" stroke="#f5f5f5" stroke-width="0.5"/>
<line x1="179.7" y1="866.82" x2="278.2" y2="866.82" stroke="#f5f5f5" stroke-width="0.5"/>
<line x1="179.7" y1="876.86" x2="278.2" y2="876.86" stroke="#f5f5f5" stroke-width="0.5"/>
<rect x="218.5" y="631.5" width="54.9" height="9.25" fill="#4b2a94"/>
<rect x="252" y="631.5" width="21.4" height="9.25" fill="#1b9e62"/>
<line x1="205" y1="636.1" x2="231.8" y2="636.1" stroke="#15152a" stroke-width="0.8"/>
<rect x="243.4" y="641.54" width="30" height="9.25" fill="#4b2a94"/>
<rect x="261.2" y="641.54" width="12.2" height="9.25" fill="#1b9e62"/>
<line x1="221.2" y1="646.14" x2="264" y2="646.14" stroke="#15152a" stroke-width="0.8"/>
<rect x="211.5" y="651.58" width="61.9" height="9.25" fill="#4b2a94"/>
<line x1="204.6" y1="656.18" x2="218" y2="656.18" stroke="#15152a" stroke-width="0.8"/>
<rect x="247.3" y="661.62" width="26.1" height="9.25" fill="#4b2a94"/>
<rect x="262.3" y="661.62" width="11.1" height="9.25" fill="#1b9e62"/>
<line x1="242.7" y1="666.22" x2="251" y2="666.22" stroke="#15152a" stroke-width="0.8"/>
<rect x="231.8" y="671.66" width="41.6" height="9.25" fill="#4b2a94"/>
<rect x="265" y="671.66" width="8.4" height="9.25" fill="#1b9e62"/>
<line x1="224" y1="676.26" x2="238" y2="676.26" stroke="#15152a" stroke-width="0.8"/>
<rect x="240.4" y="681.7" width="33" height="9.25" fill="#4b2a94"/>
<rect x="267" y="681.7" width="6.4" height="9.25" fill="#1b9e62"/>
<line x1="236" y1="686.3" x2="245" y2="686.3" stroke="#15152a" stroke-width="0.8"/>
<rect x="242" y="691.74" width="31.4" height="9.25" fill="#4b2a94"/>
<rect x="254.2" y="691.74" width="19.2" height="9.25" fill="#1b9e62"/>
<line x1="236" y1="696.34" x2="248" y2="696.34" stroke="#15152a" stroke-width="0.8"/>
<rect x="237" y="701.78" width="36.4" height="9.25" fill="#4b2a94"/>
<line x1="220.3" y1="706.38" x2="254" y2="706.38" stroke="#15152a" stroke-width="0.8"/>
<rect x="209.7" y="711.82" width="63.7" height="9.25" fill="#4b2a94"/>
<line x1="201.8" y1="716.42" x2="218" y2="716.42" stroke="#15152a" stroke-width="0.8"/>
<rect x="221.2" y="721.86" width="52.2" height="9.25" fill="#4b2a94"/>
<rect x="262.8" y="721.86" width="10.6" height="9.25" fill="#1b9e62"/>
<line x1="217.3" y1="726.46" x2="228" y2="726.46" stroke="#15152a" stroke-width="0.8"/>
<rect x="223.5" y="731.9" width="49.9" height="9.25" fill="#4b2a94"/>
<rect x="261.6" y="731.9" width="11.8" height="9.25" fill="#1b9e62"/>
<line x1="208" y1="736.5" x2="240" y2="736.5" stroke="#15152a" stroke-width="0.8"/>
<rect x="212" y="741.94" width="61.4" height="9.25" fill="#4b2a94"/>
<line x1="188" y1="746.54" x2="236" y2="746.54" stroke="#15152a" stroke-width="0.8"/>
<rect x="217.8" y="751.98" width="55.6" height="9.25" fill="#4b2a94"/>
<rect x="251.2" y="751.98" width="22.2" height="9.25" fill="#1b9e62"/>
<line x1="202.8" y1="756.58" x2="232" y2="756.58" stroke="#15152a" stroke-width="0.8"/>
<rect x="225.4" y="762.02" width="48" height="9.25" fill="#4b2a94"/>
<line x1="208" y1="766.62" x2="243" y2="766.62" stroke="#15152a" stroke-width="0.8"/>
<rect x="213.8" y="772.06" width="59.6" height="9.25" fill="#4b2a94"/>
<line x1="209.7" y1="776.66" x2="217" y2="776.66" stroke="#15152a" stroke-width="0.8"/>
<rect x="222.6" y="782.1" width="50.8" height="9.25" fill="#4b2a94"/>
<line x1="222" y1="786.7" x2="226" y2="786.7" stroke="#15152a" stroke-width="0.8"/>
<rect x="210" y="792.14" width="63.4" height="9.25" fill="#4b2a94"/>
<line x1="197.2" y1="796.74" x2="222" y2="796.74" stroke="#15152a" stroke-width="0.8"/>
<rect x="212.7" y="802.18" width="60.7" height="9.25" fill="#4b2a94"/>
<line x1="209" y1="806.78" x2="216" y2="806.78" stroke="#15152a" stroke-width="0.8"/>
<rect x="212.7" y="812.22" width="60.7" height="9.25" fill="#4b2a94"/>
<line x1="209" y1="816.82" x2="216" y2="816.82" stroke="#15152a" stroke-width="0.8"/>
<rect x="203" y="822.26" width="70.4" height="9.25" fill="#4b2a94"/>
<line x1="195.4" y1="826.86" x2="210" y2="826.86" stroke="#15152a" stroke-width="0.8"/>
<rect x="212.2" y="832.3" width="61.2" height="9.25" fill="#4b2a94"/>
<line x1="193.5" y1="836.9" x2="230" y2="836.9" stroke="#15152a" stroke-width="0.8"/>
<rect x="208" y="842.34" width="65.4" height="9.25" fill="#4b2a94"/>
<rect x="260.5" y="842.34" width="12.9" height="9.25" fill="#1b9e62"/>
<line x1="206" y1="846.94" x2="212" y2="846.94" stroke="#15152a" stroke-width="0.8"/>
<rect x="201.8" y="852.38" width="71.6" height="9.25" fill="#4b2a94"/>
<line x1="200" y1="856.98" x2="206" y2="856.98" stroke="#15152a" stroke-width="0.8"/>
<rect x="210.8" y="862.42" width="62.6" height="9.25" fill="#4b2a94"/>
<line x1="205" y1="867.02" x2="214" y2="867.02" stroke="#15152a" stroke-width="0.8"/>
<rect x="202.3" y="872.46" width="71.1" height="9.25" fill="#4b2a94"/>
<line x1="190.8" y1="877.06" x2="214" y2="877.06" stroke="#15152a" stroke-width="0.8"/>
<rect x="179.7" y="629.7" width="98.5" height="253.3" fill="none" stroke="#8a8a8a" stroke-width="0.9"/>
<text x="189.68" y="627.4" font-size="6.9" text-anchor="start" font-weight="normal" fill="#111" dominant-baseline="central" transform="rotate(-90 189.68 627.4)">400</text>
<text x="210.46" y="627.4" font-size="6.9" text-anchor="start" font-weight="normal" fill="#111" dominant-baseline="central" transform="rotate(-90 210.46 627.4)">300</text>
<text x="231.24" y="627.4" font-size="6.9" text-anchor="start" font-weight="normal" fill="#111" dominant-baseline="central" transform="rotate(-90 231.24 627.4)">200</text>
<text x="252.02" y="627.4" font-size="6.9" text-anchor="start" font-weight="normal" fill="#111" dominant-baseline="central" transform="rotate(-90 252.02 627.4)">100</text>
<text x="272.8" y="627.4" font-size="6.9" text-anchor="start" font-weight="normal" fill="#111" dominant-baseline="central" transform="rotate(-90 272.8 627.4)">0</text>
<text x="221.5" y="600.9" font-size="8.8" text-anchor="middle" font-weight="bold" fill="#000" dominant-baseline="central">SUNITINIB</text>
<text x="222" y="610" font-size="6" text-anchor="middle" font-weight="normal" fill="#111" dominant-baseline="central">Median RTV AUC [a.u.]</text>
<line x1="299.58" y1="629.7" x2="299.58" y2="883" stroke="#f2f2f2" stroke-width="0.6"/>
<line x1="320.36" y1="629.7" x2="320.36" y2="883" stroke="#f2f2f2" stroke-width="0.6"/>
<line x1="341.14" y1="629.7" x2="341.14" y2="883" stroke="#f2f2f2" stroke-width="0.6"/>
<line x1="361.92" y1="629.7" x2="361.92" y2="883" stroke="#f2f2f2" stroke-width="0.6"/>
<line x1="382.7" y1="629.7" x2="382.7" y2="883" stroke="#f2f2f2" stroke-width="0.6"/>
<line x1="309.97" y1="629.7" x2="309.97" y2="883" stroke="#f7f7f7" stroke-width="0.5"/>
<line x1="330.75" y1="629.7" x2="330.75" y2="883" stroke="#f7f7f7" stroke-width="0.5"/>
<line x1="351.53" y1="629.7" x2="351.53" y2="883" stroke="#f7f7f7" stroke-width="0.5"/>
<line x1="372.31" y1="629.7" x2="372.31" y2="883" stroke="#f7f7f7" stroke-width="0.5"/>
<line x1="288.6" y1="635.9" x2="387.6" y2="635.9" stroke="#f5f5f5" stroke-width="0.5"/>
<line x1="288.6" y1="645.94" x2="387.6" y2="645.94" stroke="#f5f5f5" stroke-width="0.5"/>
<line x1="288.6" y1="655.98" x2="387.6" y2="655.98" stroke="#f5f5f5" stroke-width="0.5"/>
<line x1="288.6" y1="666.02" x2="387.6" y2="666.02" stroke="#f5f5f5" stroke-width="0.5"/>
<line x1="288.6" y1="676.06" x2="387.6" y2="676.06" stroke="#f5f5f5" stroke-width="0.5"/>
<line x1="288.6" y1="686.1" x2="387.6" y2="686.1" stroke="#f5f5f5" stroke-width="0.5"/>
<line x1="288.6" y1="696.14" x2="387.6" y2="696.14" stroke="#f5f5f5" stroke-width="0.5"/>
<line x1="288.6" y1="706.18" x2="387.6" y2="706.18" stroke="#f5f5f5" stroke-width="0.5"/>
<line x1="288.6" y1="716.22" x2="387.6" y2="716.22" stroke="#f5f5f5" stroke-width="0.5"/>
<line x1="288.6" y1="726.26" x2="387.6" y2="726.26" stroke="#f5f5f5" stroke-width="0.5"/>
<line x1="288.6" y1="736.3" x2="387.6" y2="736.3" stroke="#f5f5f5" stroke-width="0.5"/>
<line x1="288.6" y1="746.34" x2="387.6" y2="746.34" stroke="#f5f5f5" stroke-width="0.5"/>
<line x1="288.6" y1="756.38" x2="387.6" y2="756.38" stroke="#f5f5f5" stroke-width="0.5"/>
<line x1="288.6" y1="766.42" x2="387.6" y2="766.42" stroke="#f5f5f5" stroke-width="0.5"/>
<line x1="288.6" y1="776.46" x2="387.6" y2="776.46" stroke="#f5f5f5" stroke-width="0.5"/>
<line x1="288.6" y1="786.5" x2="387.6" y2="786.5" stroke="#f5f5f5" stroke-width="0.5"/>
<line x1="288.6" y1="796.54" x2="387.6" y2="796.54" stroke="#f5f5f5" stroke-width="0.5"/>
<line x1="288.6" y1="806.58" x2="387.6" y2="806.58" stroke="#f5f5f5" stroke-width="0.5"/>
<line x1="288.6" y1="816.62" x2="387.6" y2="816.62" stroke="#f5f5f5" stroke-width="0.5"/>
<line x1="288.6" y1="826.66" x2="387.6" y2="826.66" stroke="#f5f5f5" stroke-width="0.5"/>
<line x1="288.6" y1="836.7" x2="387.6" y2="836.7" stroke="#f5f5f5" stroke-width="0.5"/>
<line x1="288.6" y1="846.74" x2="387.6" y2="846.74" stroke="#f5f5f5" stroke-width="0.5"/>
<line x1="288.6" y1="856.78" x2="387.6" y2="856.78" stroke="#f5f5f5" stroke-width="0.5"/>
<line x1="288.6" y1="866.82" x2="387.6" y2="866.82" stroke="#f5f5f5" stroke-width="0.5"/>
<line x1="288.6" y1="876.86" x2="387.6" y2="876.86" stroke="#f5f5f5" stroke-width="0.5"/>
<line x1="361.2" y1="629.7" x2="361.2" y2="883" stroke="#e03030" stroke-width="0.8" stroke-dasharray="1.6,1.4"/>
<rect x="376.2" y="631.5" width="6.5" height="9.25" fill="#4b2a94"/>
<rect x="376.2" y="631.5" width="6.5" height="9.25" fill="#1b9e62"/>
<rect x="374.6" y="641.54" width="8.1" height="9.25" fill="#4b2a94"/>
<rect x="374.6" y="641.54" width="8.1" height="9.25" fill="#1b9e62"/>
<line x1="371.9" y1="646.14" x2="380" y2="646.14" stroke="#15152a" stroke-width="0.8"/>
<rect x="374.6" y="651.58" width="8.1" height="9.25" fill="#4b2a94"/>
<rect x="374.6" y="651.58" width="8.1" height="9.25" fill="#1b9e62"/>
<line x1="370" y1="656.18" x2="382" y2="656.18" stroke="#15152a" stroke-width="0.8"/>
<rect x="374" y="661.62" width="8.7" height="9.25" fill="#4b2a94"/>
<rect x="374" y="661.62" width="8.7" height="9.25" fill="#1b9e62"/>
<rect x="368.4" y="671.66" width="14.3" height="9.25" fill="#4b2a94"/>
<rect x="368.4" y="671.66" width="14.3" height="9.25" fill="#1b9e62"/>
<line x1="364" y1="676.26" x2="372" y2="676.26" stroke="#15152a" stroke-width="0.8"/>
<rect x="365" y="681.7" width="17.7" height="9.25" fill="#4b2a94"/>
<rect x="365" y="681.7" width="17.7" height="9.25" fill="#1b9e62"/>
<line x1="360" y1="686.3" x2="368" y2="686.3" stroke="#15152a" stroke-width="0.8"/>
<rect x="360.3" y="691.74" width="22.4" height="9.25" fill="#4b2a94"/>
<rect x="365.8" y="691.74" width="16.9" height="9.25" fill="#1b9e62"/>
<line x1="352" y1="696.34" x2="368" y2="696.34" stroke="#15152a" stroke-width="0.8"/>
<rect x="360" y="701.78" width="22.7" height="9.25" fill="#4b2a94"/>
<rect x="368.9" y="701.78" width="13.8" height="9.25" fill="#1b9e62"/>
<line x1="353.4" y1="706.38" x2="365" y2="706.38" stroke="#15152a" stroke-width="0.8"/>
<rect x="349.2" y="711.82" width="33.5" height="9.25" fill="#4b2a94"/>
<rect x="375.8" y="711.82" width="6.9" height="9.25" fill="#1b9e62"/>
<line x1="345.8" y1="716.42" x2="353" y2="716.42" stroke="#15152a" stroke-width="0.8"/>
<rect x="348" y="721.86" width="34.7" height="9.25" fill="#4b2a94"/>
<rect x="374.2" y="721.86" width="8.5" height="9.25" fill="#1b9e62"/>
<line x1="332" y1="726.46" x2="363" y2="726.46" stroke="#15152a" stroke-width="0.8"/>
<rect x="347" y="731.9" width="35.7" height="9.25" fill="#4b2a94"/>
<rect x="361.2" y="731.9" width="21.5" height="9.25" fill="#1b9e62"/>
<line x1="331.2" y1="736.5" x2="360" y2="736.5" stroke="#15152a" stroke-width="0.8"/>
<rect x="345.8" y="741.94" width="36.9" height="9.25" fill="#4b2a94"/>
<rect x="360.3" y="741.94" width="22.4" height="9.25" fill="#1b9e62"/>
<line x1="337.7" y1="746.54" x2="352" y2="746.54" stroke="#15152a" stroke-width="0.8"/>
<rect x="344.6" y="751.98" width="38.1" height="9.25" fill="#4b2a94"/>
<rect x="373.5" y="751.98" width="9.2" height="9.25" fill="#1b9e62"/>
<line x1="342.3" y1="756.58" x2="347" y2="756.58" stroke="#15152a" stroke-width="0.8"/>
<rect x="344.2" y="762.02" width="38.5" height="9.25" fill="#4b2a94"/>
<rect x="374.6" y="762.02" width="8.1" height="9.25" fill="#1b9e62"/>
<line x1="335.4" y1="766.62" x2="352" y2="766.62" stroke="#15152a" stroke-width="0.8"/>
<rect x="344.2" y="772.06" width="38.5" height="9.25" fill="#4b2a94"/>
<line x1="326.2" y1="776.66" x2="360" y2="776.66" stroke="#15152a" stroke-width="0.8"/>
<rect x="342.3" y="782.1" width="40.4" height="9.25" fill="#4b2a94"/>
<line x1="335" y1="786.7" x2="350" y2="786.7" stroke="#15152a" stroke-width="0.8"/>
<rect x="340.5" y="792.14" width="42.2" height="9.25" fill="#4b2a94"/>
<rect x="360.8" y="792.14" width="21.9" height="9.25" fill="#1b9e62"/>
<line x1="309.5" y1="796.74" x2="370" y2="796.74" stroke="#15152a" stroke-width="0.8"/>
<rect x="339.3" y="802.18" width="43.4" height="9.25" fill="#4b2a94"/>
<line x1="333.5" y1="806.78" x2="345" y2="806.78" stroke="#15152a" stroke-width="0.8"/>
<rect x="332" y="812.22" width="50.7" height="9.25" fill="#4b2a94"/>
<rect x="322.7" y="822.26" width="60" height="9.25" fill="#4b2a94"/>
<line x1="314" y1="826.86" x2="335" y2="826.86" stroke="#15152a" stroke-width="0.8"/>
<rect x="321.5" y="832.3" width="61.2" height="9.25" fill="#4b2a94"/>
<line x1="312.3" y1="836.9" x2="330" y2="836.9" stroke="#15152a" stroke-width="0.8"/>
<rect x="318.8" y="842.34" width="63.9" height="9.25" fill="#4b2a94"/>
<line x1="313" y1="846.94" x2="325" y2="846.94" stroke="#15152a" stroke-width="0.8"/>
<rect x="318" y="852.38" width="64.7" height="9.25" fill="#4b2a94"/>
<line x1="314" y1="856.98" x2="322" y2="856.98" stroke="#15152a" stroke-width="0.8"/>
<rect x="310" y="862.42" width="72.7" height="9.25" fill="#4b2a94"/>
<line x1="306.5" y1="867.02" x2="312" y2="867.02" stroke="#15152a" stroke-width="0.8"/>
<rect x="306.5" y="872.46" width="76.2" height="9.25" fill="#4b2a94"/>
<line x1="305.8" y1="877.06" x2="308" y2="877.06" stroke="#15152a" stroke-width="0.8"/>
<rect x="288.6" y="629.7" width="99" height="253.3" fill="none" stroke="#8a8a8a" stroke-width="0.9"/>
<text x="298.98" y="627.4" font-size="6.9" text-anchor="start" font-weight="normal" fill="#111" dominant-baseline="central" transform="rotate(-90 298.98 627.4)">400</text>
<text x="319.76" y="627.4" font-size="6.9" text-anchor="start" font-weight="normal" fill="#111" dominant-baseline="central" transform="rotate(-90 319.76 627.4)">300</text>
<text x="340.54" y="627.4" font-size="6.9" text-anchor="start" font-weight="normal" fill="#111" dominant-baseline="central" transform="rotate(-90 340.54 627.4)">200</text>
<text x="361.32" y="627.4" font-size="6.9" text-anchor="start" font-weight="normal" fill="#111" dominant-baseline="central" transform="rotate(-90 361.32 627.4)">100</text>
<text x="382.1" y="627.4" font-size="6.9" text-anchor="start" font-weight="normal" fill="#111" dominant-baseline="central" transform="rotate(-90 382.1 627.4)">0</text>
<text x="328.5" y="600.9" font-size="8.8" text-anchor="middle" font-weight="bold" fill="#000" dominant-baseline="central">SUNITINIB+M8891</text>
<text x="330.8" y="610" font-size="6" text-anchor="middle" font-weight="normal" fill="#111" dominant-baseline="central">Median RTV AUC [a.u.]</text>
<rect x="179.7" y="891" width="5.5" height="5.6" fill="#4b2a94"/>
<text x="188" y="893.9" font-size="6.65" text-anchor="start" font-weight="normal" fill="#222" dominant-baseline="central">Progression</text>
<rect x="231.2" y="891" width="5.8" height="5.6" fill="#1b9e62"/>
<text x="241" y="893.9" font-size="6.7" text-anchor="start" font-weight="normal" fill="#222" dominant-baseline="central">Tumor control</text>
<text x="439.8" y="636.25" font-size="6" text-anchor="end" font-weight="normal" fill="#111" dominant-baseline="central">RXF-2264</text>
<rect x="442.6" y="630.4" width="8" height="10.08" fill="#8fc83e"/>
<rect x="451.6" y="630.4" width="8" height="10.08" fill="#e8185a"/>
<rect x="461.6" y="630.4" width="8" height="10.08" fill="#8fc83e"/>
<line x1="442.6" y1="640.48" x2="469.6" y2="640.48" stroke="rgba(255,255,255,0.4)" stroke-width="1.3"/>
<text x="439.8" y="646.28" font-size="6" text-anchor="end" font-weight="normal" fill="#111" dominant-baseline="central">RXF-2796</text>
<rect x="442.6" y="640.48" width="8" height="10.08" fill="#8fc83e"/>
<rect x="451.6" y="640.48" width="8" height="10.08" fill="#e8185a"/>
<rect x="461.6" y="640.48" width="8" height="10.08" fill="#8fc83e"/>
<line x1="442.6" y1="650.56" x2="469.6" y2="650.56" stroke="rgba(255,255,255,0.4)" stroke-width="1.3"/>
<text x="439.8" y="656.31" font-size="6" text-anchor="end" font-weight="normal" fill="#111" dominant-baseline="central">RXF-2755</text>
<rect x="442.6" y="650.56" width="8" height="10.08" fill="#8fc83e"/>
<rect x="451.6" y="650.56" width="8" height="10.08" fill="#8fc83e"/>
<rect x="461.6" y="650.56" width="8" height="10.08" fill="#e8185a"/>
<line x1="442.6" y1="660.64" x2="469.6" y2="660.64" stroke="rgba(255,255,255,0.4)" stroke-width="1.3"/>
<text x="439.8" y="666.34" font-size="6" text-anchor="end" font-weight="normal" fill="#111" dominant-baseline="central">RXF-2521</text>
<rect x="442.6" y="660.64" width="8" height="10.08" fill="#8fc83e"/>
<rect x="451.6" y="660.64" width="8" height="10.08" fill="#e8185a"/>
<rect x="461.6" y="660.64" width="8" height="10.08" fill="#8fc83e"/>
<line x1="442.6" y1="670.72" x2="469.6" y2="670.72" stroke="rgba(255,255,255,0.4)" stroke-width="1.3"/>
<text x="439.8" y="676.37" font-size="6" text-anchor="end" font-weight="normal" fill="#111" dominant-baseline="central">RXF-2717</text>
<rect x="442.6" y="670.72" width="8" height="10.08" fill="#8fc83e"/>
<rect x="451.6" y="670.72" width="8" height="10.08" fill="#e8185a"/>
<rect x="461.6" y="670.72" width="8" height="10.08" fill="#8fc83e"/>
<line x1="442.6" y1="680.8" x2="469.6" y2="680.8" stroke="rgba(255,255,255,0.4)" stroke-width="1.3"/>
<text x="439.8" y="686.4" font-size="6" text-anchor="end" font-weight="normal" fill="#111" dominant-baseline="central">RXF-2829</text>
<rect x="442.6" y="680.8" width="8" height="10.08" fill="#8fc83e"/>
<rect x="451.6" y="680.8" width="8" height="10.08" fill="#8fc83e"/>
<rect x="461.6" y="680.8" width="8" height="10.08" fill="#8fc83e"/>
<line x1="442.6" y1="690.88" x2="469.6" y2="690.88" stroke="rgba(255,255,255,0.4)" stroke-width="1.3"/>
<text x="439.8" y="696.43" font-size="6" text-anchor="end" font-weight="normal" fill="#111" dominant-baseline="central">RXF-2667</text>
<rect x="442.6" y="690.88" width="8" height="10.08" fill="#8fc83e"/>
<rect x="451.6" y="690.88" width="8" height="10.08" fill="#e8185a"/>
<rect x="461.6" y="690.88" width="8" height="10.08" fill="#e8185a"/>
<line x1="442.6" y1="700.96" x2="469.6" y2="700.96" stroke="rgba(255,255,255,0.4)" stroke-width="1.3"/>
<text x="439.8" y="706.46" font-size="6" text-anchor="end" font-weight="normal" fill="#111" dominant-baseline="central">RXF-2827</text>
<rect x="442.6" y="700.96" width="8" height="10.08" fill="#8fc83e"/>
<rect x="451.6" y="700.96" width="8" height="10.08" fill="#8fc83e"/>
<rect x="461.6" y="700.96" width="8" height="10.08" fill="#e8185a"/>
<line x1="442.6" y1="711.04" x2="469.6" y2="711.04" stroke="rgba(255,255,255,0.4)" stroke-width="1.3"/>
<text x="439.8" y="716.49" font-size="6" text-anchor="end" font-weight="normal" fill="#111" dominant-baseline="central">RXF-1220</text>
<rect x="442.6" y="711.04" width="8" height="10.08" fill="#8fc83e"/>
<rect x="451.6" y="711.04" width="8" height="10.08" fill="#8fc83e"/>
<rect x="461.6" y="711.04" width="8" height="10.08" fill="#8fc83e"/>
<line x1="442.6" y1="721.12" x2="469.6" y2="721.12" stroke="rgba(255,255,255,0.4)" stroke-width="1.3"/>
<text x="439.8" y="726.52" font-size="6" text-anchor="end" font-weight="normal" fill="#111" dominant-baseline="central">RXF-2304</text>
<rect x="442.6" y="721.12" width="8" height="10.08" fill="#8fc83e"/>
<rect x="451.6" y="721.12" width="8" height="10.08" fill="#e8185a"/>
<rect x="461.6" y="721.12" width="8" height="10.08" fill="#e8185a"/>
<line x1="442.6" y1="731.2" x2="469.6" y2="731.2" stroke="rgba(255,255,255,0.4)" stroke-width="1.3"/>
<text x="439.8" y="736.55" font-size="6" text-anchor="end" font-weight="normal" fill="#111" dominant-baseline="central">RXF-2783</text>
<rect x="442.6" y="731.2" width="8" height="10.08" fill="#8fc83e"/>
<rect x="451.6" y="731.2" width="8" height="10.08" fill="#e8185a"/>
<rect x="461.6" y="731.2" width="8" height="10.08" fill="#e8185a"/>
<line x1="442.6" y1="741.28" x2="469.6" y2="741.28" stroke="rgba(255,255,255,0.4)" stroke-width="1.3"/>
<text x="439.8" y="746.58" font-size="6" text-anchor="end" font-weight="normal" fill="#111" dominant-baseline="central">RXF-2519</text>
<rect x="442.6" y="741.28" width="8" height="10.08" fill="#8fc83e"/>
<rect x="451.6" y="741.28" width="8" height="10.08" fill="#8fc83e"/>
<rect x="461.6" y="741.28" width="8" height="10.08" fill="#e8185a"/>
<line x1="442.6" y1="751.36" x2="469.6" y2="751.36" stroke="rgba(255,255,255,0.4)" stroke-width="1.3"/>
<text x="439.8" y="756.61" font-size="6" text-anchor="end" font-weight="normal" fill="#111" dominant-baseline="central">RXF-1393</text>
<rect x="442.6" y="751.36" width="8" height="10.08" fill="#8fc83e"/>
<rect x="451.6" y="751.36" width="8" height="10.08" fill="#e8185a"/>
<rect x="461.6" y="751.36" width="8" height="10.08" fill="#e8185a"/>
<line x1="442.6" y1="761.44" x2="469.6" y2="761.44" stroke="rgba(255,255,255,0.4)" stroke-width="1.3"/>
<text x="439.8" y="766.64" font-size="6" text-anchor="end" font-weight="normal" fill="#111" dominant-baseline="central">RXF-631</text>
<rect x="442.6" y="761.44" width="8" height="10.08" fill="#8fc83e"/>
<rect x="451.6" y="761.44" width="8" height="10.08" fill="#e8185a"/>
<rect x="461.6" y="761.44" width="8" height="10.08" fill="#e8185a"/>
<line x1="442.6" y1="771.52" x2="469.6" y2="771.52" stroke="rgba(255,255,255,0.4)" stroke-width="1.3"/>
<text x="439.8" y="776.67" font-size="6" text-anchor="end" font-weight="normal" fill="#111" dominant-baseline="central">RXF-MRI-H-166</text>
<rect x="442.6" y="771.52" width="8" height="10.08" fill="#8fc83e"/>
<rect x="451.6" y="771.52" width="8" height="10.08" fill="#8fc83e"/>
<rect x="461.6" y="771.52" width="8" height="10.08" fill="#e8185a"/>
<line x1="442.6" y1="781.6" x2="469.6" y2="781.6" stroke="rgba(255,255,255,0.4)" stroke-width="1.3"/>
<text x="439.8" y="786.7" font-size="6" text-anchor="end" font-weight="normal" fill="#111" dominant-baseline="central">RXF-2178</text>
<rect x="442.6" y="781.6" width="8" height="10.08" fill="#e8185a"/>
<rect x="451.6" y="781.6" width="8" height="10.08" fill="#8fc83e"/>
<rect x="461.6" y="781.6" width="8" height="10.08" fill="#e8185a"/>
<line x1="442.6" y1="791.68" x2="469.6" y2="791.68" stroke="rgba(255,255,255,0.4)" stroke-width="1.3"/>
<text x="439.8" y="796.73" font-size="6" text-anchor="end" font-weight="normal" fill="#111" dominant-baseline="central">RXF-2503</text>
<rect x="442.6" y="791.68" width="8" height="10.08" fill="#8fc83e"/>
<rect x="451.6" y="791.68" width="8" height="10.08" fill="#8fc83e"/>
<rect x="461.6" y="791.68" width="8" height="10.08" fill="#e8185a"/>
<line x1="442.6" y1="801.76" x2="469.6" y2="801.76" stroke="rgba(255,255,255,0.4)" stroke-width="1.3"/>
<text x="439.8" y="806.76" font-size="6" text-anchor="end" font-weight="normal" fill="#111" dominant-baseline="central">RXF-SMTCA75</text>
<rect x="442.6" y="801.76" width="8" height="10.08" fill="#8fc83e"/>
<rect x="451.6" y="801.76" width="8" height="10.08" fill="#8fc83e"/>
<rect x="461.6" y="801.76" width="8" height="10.08" fill="#8fc83e"/>
<line x1="442.6" y1="811.84" x2="469.6" y2="811.84" stroke="rgba(255,255,255,0.4)" stroke-width="1.3"/>
<text x="439.8" y="816.79" font-size="6" text-anchor="end" font-weight="normal" fill="#111" dominant-baseline="central">RXF-2773</text>
<rect x="442.6" y="811.84" width="8" height="10.08" fill="#e8185a"/>
<rect x="451.6" y="811.84" width="8" height="10.08" fill="#8fc83e"/>
<rect x="461.6" y="811.84" width="8" height="10.08" fill="#8fc83e"/>
<line x1="442.6" y1="821.92" x2="469.6" y2="821.92" stroke="rgba(255,255,255,0.4)" stroke-width="1.3"/>
<text x="439.8" y="826.82" font-size="6" text-anchor="end" font-weight="normal" fill="#111" dominant-baseline="central">RXF-2720</text>
<rect x="442.6" y="821.92" width="8" height="10.08" fill="#8fc83e"/>
<rect x="451.6" y="821.92" width="8" height="10.08" fill="#8fc83e"/>
<rect x="461.6" y="821.92" width="8" height="10.08" fill="#e8185a"/>
<line x1="442.6" y1="832" x2="469.6" y2="832" stroke="rgba(255,255,255,0.4)" stroke-width="1.3"/>
<text x="439.8" y="836.85" font-size="6" text-anchor="end" font-weight="normal" fill="#111" dominant-baseline="central">RXF-2873</text>
<rect x="442.6" y="832" width="8" height="10.08" fill="#8fc83e"/>
<rect x="451.6" y="832" width="8" height="10.08" fill="#8fc83e"/>
<rect x="461.6" y="832" width="8" height="10.08" fill="#8fc83e"/>
<line x1="442.6" y1="842.08" x2="469.6" y2="842.08" stroke="rgba(255,255,255,0.4)" stroke-width="1.3"/>
<text x="439.8" y="846.88" font-size="6" text-anchor="end" font-weight="normal" fill="#111" dominant-baseline="central">RXF-2540</text>
<rect x="442.6" y="842.08" width="8" height="10.08" fill="#e8185a"/>
<rect x="451.6" y="842.08" width="8" height="10.08" fill="#8fc83e"/>
<rect x="461.6" y="842.08" width="8" height="10.08" fill="#8fc83e"/>
<line x1="442.6" y1="852.16" x2="469.6" y2="852.16" stroke="rgba(255,255,255,0.4)" stroke-width="1.3"/>
<text x="439.8" y="856.91" font-size="6" text-anchor="end" font-weight="normal" fill="#111" dominant-baseline="central">RXF-2282</text>
<rect x="442.6" y="852.16" width="8" height="10.08" fill="#8fc83e"/>
<rect x="451.6" y="852.16" width="8" height="10.08" fill="#e8185a"/>
<rect x="461.6" y="852.16" width="8" height="10.08" fill="#e8185a"/>
<line x1="442.6" y1="862.24" x2="469.6" y2="862.24" stroke="rgba(255,255,255,0.4)" stroke-width="1.3"/>
<text x="439.8" y="866.94" font-size="6" text-anchor="end" font-weight="normal" fill="#111" dominant-baseline="central">RXF-2502</text>
<rect x="442.6" y="862.24" width="8" height="10.08" fill="#8fc83e"/>
<rect x="451.6" y="862.24" width="8" height="10.08" fill="#8fc83e"/>
<rect x="461.6" y="862.24" width="8" height="10.08" fill="#e8185a"/>
<line x1="442.6" y1="872.32" x2="469.6" y2="872.32" stroke="rgba(255,255,255,0.4)" stroke-width="1.3"/>
<text x="439.8" y="876.97" font-size="6" text-anchor="end" font-weight="normal" fill="#111" dominant-baseline="central">RXF-2662</text>
<rect x="442.6" y="872.32" width="8" height="10.08" fill="#e8185a"/>
<rect x="451.6" y="872.32" width="8" height="10.08" fill="#8fc83e"/>
<rect x="461.6" y="872.32" width="8" height="10.08" fill="#e8185a"/>
<line x1="442.6" y1="882.4" x2="469.6" y2="882.4" stroke="rgba(255,255,255,0.4)" stroke-width="1.3"/>
<rect x="451.1" y="630" width="8.9" height="140.8" fill="none" stroke="#26478a" stroke-width="1.4"/>
<rect x="460.6" y="630" width="9.7" height="90.9" fill="none" stroke="#26478a" stroke-width="1.4"/>
<rect x="442.2" y="771.2" width="9" height="111.4" fill="none" stroke="#26478a" stroke-width="1.4"/>
<line x1="470.6" y1="721" x2="470.6" y2="883" stroke="#c8c8d8" stroke-width="0.6"/>
<line x1="442.6" y1="629.4" x2="470" y2="629.4" stroke="#555" stroke-width="0.6"/>
<text x="447.3" y="628.9" font-size="6" text-anchor="start" font-weight="normal" fill="#111" dominant-baseline="central" transform="rotate(-90 447.3 628.9)">TP53</text>
<text x="456" y="628.9" font-size="6" text-anchor="start" font-weight="normal" fill="#111" dominant-baseline="central" transform="rotate(-90 456 628.9)">VHL</text>
<text x="463.7" y="628.9" font-size="6" text-anchor="start" font-weight="normal" fill="#111" dominant-baseline="central" transform="rotate(-90 463.7 628.9)">METAP1 &amp;</text>
<text x="469.8" y="628.9" font-size="6" text-anchor="start" font-weight="normal" fill="#111" dominant-baseline="central" transform="rotate(-90 469.8 628.9)">METAP2 score</text>
<text x="405.5" y="890.6" font-size="6.1" text-anchor="start" font-weight="normal" fill="#111" dominant-baseline="central">Mutation</text>
<rect x="407.4" y="896.6" width="5" height="4.8" fill="#e8185a"/>
<text x="413.8" y="898.8" font-size="5.8" text-anchor="start" font-weight="normal" fill="#111" dominant-baseline="central">mut</text>
<rect x="407.4" y="903.3" width="5" height="4.6" fill="#8fc83e"/>
<text x="413.8" y="905.2" font-size="5.8" text-anchor="start" font-weight="normal" fill="#111" dominant-baseline="central">wt</text>
<text x="452" y="891.2" font-size="6.1" text-anchor="start" font-weight="normal" fill="#111" dominant-baseline="central">Expression</text>
<rect x="453.8" y="896.6" width="4.8" height="4.8" fill="#8fc83e"/>
<text x="459.6" y="898.8" font-size="6" text-anchor="start" font-weight="normal" fill="#111" dominant-baseline="central">MID/LOW</text>
<rect x="453.8" y="903.3" width="4.8" height="4.8" fill="#e8185a"/>
<text x="459.6" y="905.6" font-size="6" text-anchor="start" font-weight="normal" fill="#111" dominant-baseline="central">HIGH/MID</text>
</svg>
</body></html>
